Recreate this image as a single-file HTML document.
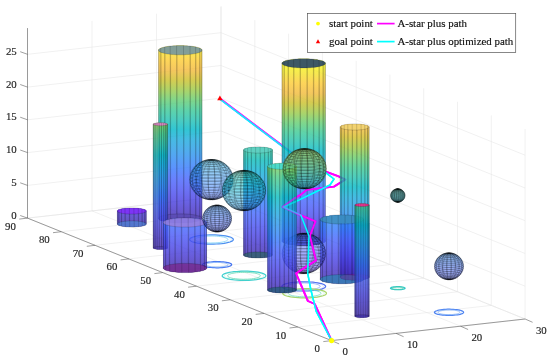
<!DOCTYPE html>
<html><head><meta charset="utf-8"><title>A-star plus path</title>
<style>html,body{margin:0;padding:0;background:#fff}svg{display:block}text{font-family:"Liberation Serif",serif}</style>
</head><body>
<svg width="550" height="361" viewBox="0 0 550 361">
<defs><linearGradient id="g1" gradientUnits="userSpaceOnUse" x1="0" y1="218.5" x2="0" y2="50.2"><stop offset="0%" stop-color="#3f29b0"/><stop offset="5.9%" stop-color="#4433cc"/><stop offset="11.8%" stop-color="#4741e5"/><stop offset="17.6%" stop-color="#4852f4"/><stop offset="23.5%" stop-color="#4563fd"/><stop offset="29.4%" stop-color="#3677fe"/><stop offset="35.3%" stop-color="#2d8af4"/><stop offset="41.2%" stop-color="#259ce7"/><stop offset="47.1%" stop-color="#1aabdd"/><stop offset="52.9%" stop-color="#01b8c9"/><stop offset="58.8%" stop-color="#21c1b1"/><stop offset="64.7%" stop-color="#3ac994"/><stop offset="70.6%" stop-color="#65cd6e"/><stop offset="76.5%" stop-color="#9bc944"/><stop offset="82.4%" stop-color="#cdc028"/><stop offset="88.2%" stop-color="#f4ba39"/><stop offset="94.1%" stop-color="#fdcc32"/><stop offset="100%" stop-color="#f5e526"/></linearGradient>
<linearGradient id="g2" gradientUnits="userSpaceOnUse" x1="0" y1="224" x2="0" y2="211"><stop offset="0%" stop-color="#3f29b0"/><stop offset="100%" stop-color="#4537d5"/></linearGradient>
<linearGradient id="g3" gradientUnits="userSpaceOnUse" x1="0" y1="199.8" x2="0" y2="159.4"><stop offset="0%" stop-color="#4465fd"/><stop offset="12.5%" stop-color="#3f6eff"/><stop offset="25%" stop-color="#3578fd"/><stop offset="37.5%" stop-color="#2f82f9"/><stop offset="50%" stop-color="#2d8bf4"/><stop offset="62.5%" stop-color="#2994ed"/><stop offset="75%" stop-color="#259ce7"/><stop offset="87.5%" stop-color="#20a4e3"/><stop offset="100%" stop-color="#1aacdd"/></linearGradient>
<linearGradient id="g4" gradientUnits="userSpaceOnUse" x1="0" y1="248" x2="0" y2="124.2"><stop offset="0%" stop-color="#3f29b0"/><stop offset="8.3%" stop-color="#4433cd"/><stop offset="16.7%" stop-color="#4742e6"/><stop offset="25%" stop-color="#4854f5"/><stop offset="33.3%" stop-color="#4367fd"/><stop offset="41.7%" stop-color="#327bfc"/><stop offset="50%" stop-color="#2c8ff1"/><stop offset="58.3%" stop-color="#23a0e5"/><stop offset="66.7%" stop-color="#13b0d7"/><stop offset="75%" stop-color="#06bcc0"/><stop offset="83.3%" stop-color="#2dc4a5"/><stop offset="91.7%" stop-color="#4bcb83"/><stop offset="100%" stop-color="#80cc59"/></linearGradient>
<linearGradient id="g5" gradientUnits="userSpaceOnUse" x1="0" y1="255" x2="0" y2="150"><stop offset="0%" stop-color="#3f29b0"/><stop offset="10%" stop-color="#4434ce"/><stop offset="20%" stop-color="#4743e7"/><stop offset="30%" stop-color="#4755f6"/><stop offset="40%" stop-color="#4368fe"/><stop offset="50%" stop-color="#317dfc"/><stop offset="60%" stop-color="#2b91ef"/><stop offset="70%" stop-color="#21a2e4"/><stop offset="80%" stop-color="#0fb2d5"/><stop offset="90%" stop-color="#0cbdbc"/><stop offset="100%" stop-color="#31c6a0"/></linearGradient>
<linearGradient id="g6" gradientUnits="userSpaceOnUse" x1="0" y1="241" x2="0" y2="63.3"><stop offset="0%" stop-color="#3f29b0"/><stop offset="5.6%" stop-color="#4433cc"/><stop offset="11.1%" stop-color="#4741e4"/><stop offset="16.7%" stop-color="#4852f4"/><stop offset="22.2%" stop-color="#4563fd"/><stop offset="27.8%" stop-color="#3777fe"/><stop offset="33.3%" stop-color="#2d8af5"/><stop offset="38.9%" stop-color="#259be8"/><stop offset="44.4%" stop-color="#1aabde"/><stop offset="50%" stop-color="#01b8ca"/><stop offset="55.6%" stop-color="#1fc1b1"/><stop offset="61.1%" stop-color="#39c995"/><stop offset="66.7%" stop-color="#63cd6f"/><stop offset="72.2%" stop-color="#99c946"/><stop offset="77.8%" stop-color="#cbc029"/><stop offset="83.3%" stop-color="#f2ba38"/><stop offset="88.9%" stop-color="#fdcb33"/><stop offset="94.4%" stop-color="#f5e327"/><stop offset="100%" stop-color="#f9fb15"/></linearGradient>
<linearGradient id="g7" gradientUnits="userSpaceOnUse" x1="0" y1="268" x2="0" y2="222.5"><stop offset="0%" stop-color="#3f29b0"/><stop offset="25%" stop-color="#4435d0"/><stop offset="50%" stop-color="#4746ea"/><stop offset="75%" stop-color="#475af9"/><stop offset="100%" stop-color="#3e6fff"/></linearGradient>
<linearGradient id="g8" gradientUnits="userSpaceOnUse" x1="0" y1="232" x2="0" y2="205"><stop offset="0%" stop-color="#4758f8"/><stop offset="12.5%" stop-color="#465efb"/><stop offset="25%" stop-color="#4564fd"/><stop offset="37.5%" stop-color="#426afe"/><stop offset="50%" stop-color="#3d70ff"/><stop offset="62.5%" stop-color="#3777fe"/><stop offset="75%" stop-color="#317efb"/><stop offset="87.5%" stop-color="#2e84f8"/><stop offset="100%" stop-color="#2d8af4"/></linearGradient>
<linearGradient id="g9" gradientUnits="userSpaceOnUse" x1="0" y1="210.7" x2="0" y2="170.3"><stop offset="0%" stop-color="#2895ec"/><stop offset="12.5%" stop-color="#249ee6"/><stop offset="25%" stop-color="#1fa6e2"/><stop offset="37.5%" stop-color="#18addb"/><stop offset="50%" stop-color="#0ab4d2"/><stop offset="62.5%" stop-color="#01b9c7"/><stop offset="75%" stop-color="#0fbebb"/><stop offset="87.5%" stop-color="#25c2ae"/><stop offset="100%" stop-color="#31c6a0"/></linearGradient>
<linearGradient id="g10" gradientUnits="userSpaceOnUse" x1="0" y1="277.2" x2="0" y2="127"><stop offset="0%" stop-color="#3f29b0"/><stop offset="6.7%" stop-color="#4433cc"/><stop offset="13.3%" stop-color="#4741e5"/><stop offset="20%" stop-color="#4852f4"/><stop offset="26.7%" stop-color="#4464fd"/><stop offset="33.3%" stop-color="#3578fd"/><stop offset="40%" stop-color="#2d8bf3"/><stop offset="46.7%" stop-color="#259de7"/><stop offset="53.3%" stop-color="#19addc"/><stop offset="60%" stop-color="#01b9c7"/><stop offset="66.7%" stop-color="#25c2ae"/><stop offset="73.3%" stop-color="#3eca8f"/><stop offset="80%" stop-color="#6ccd68"/><stop offset="86.7%" stop-color="#a3c83e"/><stop offset="93.3%" stop-color="#d4bf28"/><stop offset="100%" stop-color="#f9bb3d"/></linearGradient>
<linearGradient id="g11" gradientUnits="userSpaceOnUse" x1="0" y1="279.2" x2="0" y2="219.5"><stop offset="0%" stop-color="#3f29b0"/><stop offset="16.7%" stop-color="#4433cc"/><stop offset="33.3%" stop-color="#4741e5"/><stop offset="50%" stop-color="#4852f4"/><stop offset="66.7%" stop-color="#4564fd"/><stop offset="83.3%" stop-color="#3678fe"/><stop offset="100%" stop-color="#2d8bf4"/></linearGradient>
<clipPath id="cl8"><rect x="330" y="223" width="50" height="70"/></clipPath>
<linearGradient id="g12" gradientUnits="userSpaceOnUse" x1="0" y1="277.2" x2="0" y2="127"><stop offset="0%" stop-color="#3f29b0"/><stop offset="6.7%" stop-color="#4433cc"/><stop offset="13.3%" stop-color="#4741e5"/><stop offset="20%" stop-color="#4852f4"/><stop offset="26.7%" stop-color="#4464fd"/><stop offset="33.3%" stop-color="#3578fd"/><stop offset="40%" stop-color="#2d8bf3"/><stop offset="46.7%" stop-color="#259de7"/><stop offset="53.3%" stop-color="#19addc"/><stop offset="60%" stop-color="#01b9c7"/><stop offset="66.7%" stop-color="#25c2ae"/><stop offset="73.3%" stop-color="#3eca8f"/><stop offset="80%" stop-color="#6ccd68"/><stop offset="86.7%" stop-color="#a3c83e"/><stop offset="93.3%" stop-color="#d4bf28"/><stop offset="100%" stop-color="#f9bb3d"/></linearGradient>
<linearGradient id="g13" gradientUnits="userSpaceOnUse" x1="0" y1="273.6" x2="0" y2="233.2"><stop offset="0%" stop-color="#4537d6"/><stop offset="12.5%" stop-color="#473ee1"/><stop offset="25%" stop-color="#4746eb"/><stop offset="37.5%" stop-color="#484ff2"/><stop offset="50%" stop-color="#4758f8"/><stop offset="62.5%" stop-color="#4660fc"/><stop offset="75%" stop-color="#426afe"/><stop offset="87.5%" stop-color="#3a74fe"/><stop offset="100%" stop-color="#317efb"/></linearGradient>
<linearGradient id="g14" gradientUnits="userSpaceOnUse" x1="0" y1="290" x2="0" y2="166.3"><stop offset="0%" stop-color="#3f29b0"/><stop offset="8.3%" stop-color="#4433cd"/><stop offset="16.7%" stop-color="#4742e6"/><stop offset="25%" stop-color="#4854f5"/><stop offset="33.3%" stop-color="#4367fd"/><stop offset="41.7%" stop-color="#327bfc"/><stop offset="50%" stop-color="#2c8ff1"/><stop offset="58.3%" stop-color="#23a0e5"/><stop offset="66.7%" stop-color="#14b0d8"/><stop offset="75%" stop-color="#06bcc0"/><stop offset="83.3%" stop-color="#2dc4a5"/><stop offset="91.7%" stop-color="#4bcb84"/><stop offset="100%" stop-color="#80cc59"/></linearGradient>
<linearGradient id="g15" gradientUnits="userSpaceOnUse" x1="0" y1="188.9" x2="0" y2="148.5"><stop offset="0%" stop-color="#31c6a0"/><stop offset="12.5%" stop-color="#3dc990"/><stop offset="25%" stop-color="#51cc7e"/><stop offset="37.5%" stop-color="#6acd6a"/><stop offset="50%" stop-color="#85cb55"/><stop offset="62.5%" stop-color="#a0c841"/><stop offset="75%" stop-color="#b9c430"/><stop offset="87.5%" stop-color="#d1bf27"/><stop offset="100%" stop-color="#e5bb2d"/></linearGradient>
<linearGradient id="g16" gradientUnits="userSpaceOnUse" x1="0" y1="202.2" x2="0" y2="188.8"><stop offset="0%" stop-color="#07b5d0"/><stop offset="12.5%" stop-color="#03b7cc"/><stop offset="25%" stop-color="#01b8c8"/><stop offset="37.5%" stop-color="#02bac5"/><stop offset="50%" stop-color="#05bbc1"/><stop offset="62.5%" stop-color="#0bbdbd"/><stop offset="75%" stop-color="#13beb8"/><stop offset="87.5%" stop-color="#1bc0b4"/><stop offset="100%" stop-color="#22c1b0"/></linearGradient>
<linearGradient id="g17" gradientUnits="userSpaceOnUse" x1="0" y1="316.2" x2="0" y2="205"><stop offset="0%" stop-color="#3f29b0"/><stop offset="9.1%" stop-color="#4433cc"/><stop offset="18.2%" stop-color="#4741e5"/><stop offset="27.3%" stop-color="#4853f5"/><stop offset="36.4%" stop-color="#4465fd"/><stop offset="45.5%" stop-color="#3479fd"/><stop offset="54.5%" stop-color="#2d8df3"/><stop offset="63.6%" stop-color="#249ee6"/><stop offset="72.7%" stop-color="#17aedb"/><stop offset="81.8%" stop-color="#02bac5"/><stop offset="90.9%" stop-color="#28c2ab"/><stop offset="100%" stop-color="#42ca8c"/></linearGradient>
<linearGradient id="g18" gradientUnits="userSpaceOnUse" x1="0" y1="279.8" x2="0" y2="252.8"><stop offset="0%" stop-color="#4757f7"/><stop offset="12.5%" stop-color="#465dfa"/><stop offset="25%" stop-color="#4563fd"/><stop offset="37.5%" stop-color="#4269fe"/><stop offset="50%" stop-color="#3d70ff"/><stop offset="62.5%" stop-color="#3777fe"/><stop offset="75%" stop-color="#317dfc"/><stop offset="87.5%" stop-color="#2e84f9"/><stop offset="100%" stop-color="#2d8af5"/></linearGradient></defs>
<rect width="550" height="361" fill="#fff"/>
<path d="M331.6 340.6L27.5 218.1M27.5 218.1L27.5 28.1M396.1 333.4L92 210.9M92 210.9L92 20.9M460.6 326.2L156.5 203.7M156.5 203.7L156.5 13.7M525.1 319L221 196.5M221 196.5L221 6.5M331.6 340.6L525.1 319M525.1 319L525.1 129M297.8 327L491.3 305.4M491.3 305.4L491.3 115.4M264 313.4L457.5 291.8M457.5 291.8L457.5 101.8M230.2 299.8L423.7 278.2M423.7 278.2L423.7 88.2M196.4 286.2L389.9 264.6M389.9 264.6L389.9 74.6M162.7 272.6L356.2 250.9M356.2 250.9L356.2 60.9M128.9 258.9L322.4 237.3M322.4 237.3L322.4 47.3M95.1 245.3L288.6 223.7M288.6 223.7L288.6 33.7M61.3 231.7L254.8 210.1M254.8 210.1L254.8 20.1M27.5 218.1L221 196.5M221 196.5L221 6.5M27.5 218.1L221 196.5M221 196.5L525.1 319M27.5 185.4L221 163.8M221 163.8L525.1 286.2M27.5 152.6L221 131M221 131L525.1 253.5M27.5 119.8L221 98.2M221 98.2L525.1 220.7M27.5 87.1L221 65.5M221 65.5L525.1 188M27.5 54.3L221 32.7M221 32.7L525.1 155.2" stroke="#e2e2e2" stroke-width="0.5" fill="none"/>
<path d="M27.5 218.1L27.5 28.1M27.5 218.1L331.6 340.6M331.6 340.6L525.1 319M331.6 340.6L339.1 343.9M396.1 333.4L403.6 336.7M460.6 326.2L468.1 329.5M525.1 319L532.6 322.3M331.6 340.6L323.3 341.6M297.8 327L289.5 328M264 313.4L255.7 314.4M230.2 299.8L221.9 300.8M196.4 286.2L188.1 287.2M162.7 272.6L154.4 273.6M128.9 258.9L120.6 259.9M95.1 245.3L86.8 246.3M61.3 231.7L53 232.7M27.5 218.1L19.2 219.1M27.5 218.1L20.2 215.5M27.5 185.4L20.2 182.8M27.5 152.6L20.2 150M27.5 119.8L20.2 117.2M27.5 87.1L20.2 84.5M27.5 54.3L20.2 51.7" stroke="#505050" stroke-width="0.55" fill="none"/>
<g font-size="11.4" fill="#262626" stroke="#262626" stroke-width="0.18"><text transform="translate(342.4 355.1) scale(0.95 1)" text-anchor="start">0</text><text transform="translate(406.9 347.9) scale(0.95 1)" text-anchor="start">10</text><text transform="translate(471.4 340.7) scale(0.95 1)" text-anchor="start">20</text><text transform="translate(535.9 333.5) scale(0.95 1)" text-anchor="start">30</text><text transform="translate(320 352.1) scale(0.95 1)" text-anchor="end">0</text><text transform="translate(286.2 338.5) scale(0.95 1)" text-anchor="end">10</text><text transform="translate(252.4 324.9) scale(0.95 1)" text-anchor="end">20</text><text transform="translate(218.6 311.3) scale(0.95 1)" text-anchor="end">30</text><text transform="translate(184.8 297.7) scale(0.95 1)" text-anchor="end">40</text><text transform="translate(151.1 284.1) scale(0.95 1)" text-anchor="end">50</text><text transform="translate(117.3 270.4) scale(0.95 1)" text-anchor="end">60</text><text transform="translate(83.5 256.8) scale(0.95 1)" text-anchor="end">70</text><text transform="translate(49.7 243.2) scale(0.95 1)" text-anchor="end">80</text><text transform="translate(15.9 229.6) scale(0.95 1)" text-anchor="end">90</text><text transform="translate(16.7 218.5) scale(0.95 1)" text-anchor="end">0</text><text transform="translate(16.7 185.8) scale(0.95 1)" text-anchor="end">5</text><text transform="translate(16.7 153) scale(0.95 1)" text-anchor="end">10</text><text transform="translate(16.7 120.2) scale(0.95 1)" text-anchor="end">15</text><text transform="translate(16.7 87.5) scale(0.95 1)" text-anchor="end">20</text><text transform="translate(16.7 54.7) scale(0.95 1)" text-anchor="end">25</text></g>
<g><polygon points="158.5,218.3 158.5,218.7 158.6,219.1 159,219.5 159.5,219.9 160.1,220.3 161,220.7 161.9,221 163,221.3 164.2,221.6 165.6,221.9 167,222.2 168.6,222.4 170.3,222.6 172,222.8 173.8,222.9 175.6,223 177.5,223.1 179.4,223.1 181.3,223.1 183.2,223.1 185.1,223 186.9,222.9 188.7,222.8 190.4,222.6 192.1,222.4 193.6,222.1 195.1,221.9 196.4,221.6 197.7,221.3 198.8,221 199.7,220.6 200.5,220.2 201.2,219.9 201.6,219.5 202,219.1 202.1,218.7 202.1,50.4 202.1,50 202,49.6 201.6,49.2 201.1,48.8 200.5,48.4 199.7,48 198.7,47.7 197.6,47.4 196.4,47.1 195,46.8 193.6,46.5 192,46.3 190.3,46.1 188.6,45.9 186.8,45.8 185,45.7 183.1,45.6 181.2,45.6 179.3,45.6 177.4,45.6 175.5,45.7 173.7,45.8 171.9,45.9 170.2,46.1 168.5,46.3 167,46.6 165.5,46.8 164.2,47.1 162.9,47.4 161.8,47.7 160.9,48.1 160.1,48.5 159.4,48.8 159,49.2 158.6,49.6 158.5,50" fill="url(#g1)" fill-opacity="0.56"/><polygon points="158.5,218.3 158.5,218.7 158.6,219.1 159,219.5 159.5,219.9 160.1,220.3 161,220.7 161.9,221 163,221.3 164.2,221.6 165.6,221.9 167,222.2 168.6,222.4 170.3,222.6 172,222.8 173.8,222.9 175.6,223 177.5,223.1 179.4,223.1 181.3,223.1 183.2,223.1 185.1,223 186.9,222.9 188.7,222.8 190.4,222.6 192.1,222.4 193.6,222.1 195.1,221.9 196.4,221.6 197.7,221.3 198.8,221 199.7,220.6 200.5,220.2 201.2,219.9 201.6,219.5 202,219.1 202.1,218.7 202.1,50.4 202.1,50 202,49.6 201.6,49.2 201.1,48.8 200.5,48.4 199.7,48 198.7,47.7 197.6,47.4 196.4,47.1 195,46.8 193.6,46.5 192,46.3 190.3,46.1 188.6,45.9 186.8,45.8 185,45.7 183.1,45.6 181.2,45.6 179.3,45.6 177.4,45.6 175.5,45.7 173.7,45.8 171.9,45.9 170.2,46.1 168.5,46.3 167,46.6 165.5,46.8 164.2,47.1 162.9,47.4 161.8,47.7 160.9,48.1 160.1,48.5 159.4,48.8 159,49.2 158.6,49.6 158.5,50" fill="url(#g1)" fill-opacity="0.56"/><polygon points="199.7,216.3 198.7,216 197.6,215.7 196.4,215.4 195,215.1 193.6,214.8 192,214.6 190.3,214.4 188.6,214.2 186.8,214.1 185,214 183.1,213.9 181.2,213.9 179.3,213.9 177.4,213.9 175.5,214 173.7,214.1 171.9,214.2 170.2,214.4 168.5,214.6 167,214.9 165.5,215.1 164.2,215.4 162.9,215.7 161.8,216 160.9,216.4 160.1,216.8 159.4,217.1 159,217.5 158.6,217.9 158.5,218.3 158.5,218.7 158.6,219.1 159,219.5 159.5,219.9 160.1,220.3 161,220.7 161.9,221 163,221.3 164.2,221.6 165.6,221.9 167,222.2 168.6,222.4 170.3,222.6 172,222.8 173.8,222.9 175.6,223 177.5,223.1 179.4,223.1 181.3,223.1 183.2,223.1 185.1,223 186.9,222.9 188.7,222.8 190.4,222.6 192.1,222.4 193.6,222.1 195.1,221.9 196.4,221.6 197.7,221.3 198.8,221 199.7,220.6 200.5,220.2 201.2,219.9 201.6,219.5 202,219.1 202.1,218.7 202.1,218.3 202,217.9 201.6,217.5 201.1,217.1 200.5,216.7" fill="#5040a0" fill-opacity="0.4"/><polygon points="199.7,48 198.7,47.7 197.6,47.4 196.4,47.1 195,46.8 193.6,46.5 192,46.3 190.3,46.1 188.6,45.9 186.8,45.8 185,45.7 183.1,45.6 181.2,45.6 179.3,45.6 177.4,45.6 175.5,45.7 173.7,45.8 171.9,45.9 170.2,46.1 168.5,46.3 167,46.6 165.5,46.8 164.2,47.1 162.9,47.4 161.8,47.7 160.9,48.1 160.1,48.5 159.4,48.8 159,49.2 158.6,49.6 158.5,50 158.5,50.4 158.6,50.8 159,51.2 159.5,51.6 160.1,52 161,52.4 161.9,52.7 163,53 164.2,53.3 165.6,53.6 167,53.9 168.6,54.1 170.3,54.3 172,54.5 173.8,54.6 175.6,54.7 177.5,54.8 179.4,54.8 181.3,54.8 183.2,54.8 185.1,54.7 186.9,54.6 188.7,54.5 190.4,54.3 192.1,54.1 193.6,53.8 195.1,53.6 196.4,53.3 197.7,53 198.8,52.7 199.7,52.3 200.5,51.9 201.2,51.6 201.6,51.2 202,50.8 202.1,50.4 202.1,50 202,49.6 201.6,49.2 201.1,48.8 200.5,48.4" fill="#7496a0" fill-opacity="0.9"/><path d="M199.7 216.3V48M195.6 215.2V46.9M190 214.4V46.1M183.5 213.9V45.6M176.6 213.9V45.6M170.2 214.4V46.1M164.7 215.3V47M160.7 216.5V48.2M158.7 217.8V49.5M158.8 219.3V51M161 220.7V52.4M165 221.8V53.5M170.6 222.6V54.3M177.1 223.1V54.8M184 223.1V54.8M190.4 222.6V54.3M195.9 221.7V53.4M199.9 220.5V52.2M201.9 219.2V50.9M201.8 217.7V49.4M199.7 216.3 198.7 216 197.6 215.7 196.4 215.4 195 215.1 193.6 214.8 192 214.6 190.3 214.4 188.6 214.2 186.8 214.1 185 214 183.1 213.9 181.2 213.9 179.3 213.9 177.4 213.9 175.5 214 173.7 214.1 171.9 214.2 170.2 214.4 168.5 214.6 167 214.9 165.5 215.1 164.2 215.4 162.9 215.7 161.8 216 160.9 216.4 160.1 216.8 159.4 217.1 159 217.5 158.6 217.9 158.5 218.3 158.5 218.7 158.6 219.1 159 219.5 159.5 219.9 160.1 220.3 161 220.7 161.9 221 163 221.3 164.2 221.6 165.6 221.9 167 222.2 168.6 222.4 170.3 222.6 172 222.8 173.8 222.9 175.6 223 177.5 223.1 179.4 223.1 181.3 223.1 183.2 223.1 185.1 223 186.9 222.9 188.7 222.8 190.4 222.6 192.1 222.4 193.6 222.1 195.1 221.9 196.4 221.6 197.7 221.3 198.8 221 199.7 220.6 200.5 220.2 201.2 219.9 201.6 219.5 202 219.1 202.1 218.7 202.1 218.3 202 217.9 201.6 217.5 201.1 217.1 200.5 216.7 199.7 216.3ZM199.7 48 198.7 47.7 197.6 47.4 196.4 47.1 195 46.8 193.6 46.5 192 46.3 190.3 46.1 188.6 45.9 186.8 45.8 185 45.7 183.1 45.6 181.2 45.6 179.3 45.6 177.4 45.6 175.5 45.7 173.7 45.8 171.9 45.9 170.2 46.1 168.5 46.3 167 46.6 165.5 46.8 164.2 47.1 162.9 47.4 161.8 47.7 160.9 48.1 160.1 48.5 159.4 48.8 159 49.2 158.6 49.6 158.5 50 158.5 50.4 158.6 50.8 159 51.2 159.5 51.6 160.1 52 161 52.4 161.9 52.7 163 53 164.2 53.3 165.6 53.6 167 53.9 168.6 54.1 170.3 54.3 172 54.5 173.8 54.6 175.6 54.7 177.5 54.8 179.4 54.8 181.3 54.8 183.2 54.8 185.1 54.7 186.9 54.6 188.7 54.5 190.4 54.3 192.1 54.1 193.6 53.8 195.1 53.6 196.4 53.3 197.7 53 198.8 52.7 199.7 52.3 200.5 51.9 201.2 51.6 201.6 51.2 202 50.8 202.1 50.4 202.1 50 202 49.6 201.6 49.2 201.1 48.8 200.5 48.4 199.7 48Z" fill="none" stroke="#000" stroke-width="0.38" stroke-opacity="0.42"/></g>
<g><polygon points="117.2,223.9 117.3,224.2 117.4,224.4 117.6,224.7 117.9,224.9 118.4,225.2 118.9,225.4 119.5,225.7 120.3,225.9 121.1,226.1 122,226.3 123,226.5 124,226.6 125.1,226.7 126.3,226.9 127.5,226.9 128.7,227 129.9,227.1 131.2,227.1 132.5,227.1 133.7,227.1 135,227 136.2,226.9 137.4,226.8 138.6,226.7 139.7,226.6 140.7,226.4 141.7,226.3 142.6,226.1 143.4,225.9 144.1,225.6 144.7,225.4 145.3,225.2 145.7,224.9 146,224.6 146.2,224.4 146.4,224.1 146.4,211.1 146.3,210.8 146.2,210.6 146,210.3 145.7,210.1 145.2,209.8 144.7,209.6 144.1,209.3 143.3,209.1 142.5,208.9 141.6,208.7 140.6,208.5 139.6,208.4 138.5,208.3 137.3,208.1 136.1,208.1 134.9,208 133.7,207.9 132.4,207.9 131.1,207.9 129.9,207.9 128.6,208 127.4,208.1 126.2,208.2 125,208.3 123.9,208.4 122.9,208.6 121.9,208.7 121,208.9 120.2,209.1 119.5,209.4 118.9,209.6 118.3,209.8 117.9,210.1 117.6,210.4 117.4,210.6 117.2,210.9" fill="url(#g2)" fill-opacity="0.56"/><polygon points="117.2,223.9 117.3,224.2 117.4,224.4 117.6,224.7 117.9,224.9 118.4,225.2 118.9,225.4 119.5,225.7 120.3,225.9 121.1,226.1 122,226.3 123,226.5 124,226.6 125.1,226.7 126.3,226.9 127.5,226.9 128.7,227 129.9,227.1 131.2,227.1 132.5,227.1 133.7,227.1 135,227 136.2,226.9 137.4,226.8 138.6,226.7 139.7,226.6 140.7,226.4 141.7,226.3 142.6,226.1 143.4,225.9 144.1,225.6 144.7,225.4 145.3,225.2 145.7,224.9 146,224.6 146.2,224.4 146.4,224.1 146.4,211.1 146.3,210.8 146.2,210.6 146,210.3 145.7,210.1 145.2,209.8 144.7,209.6 144.1,209.3 143.3,209.1 142.5,208.9 141.6,208.7 140.6,208.5 139.6,208.4 138.5,208.3 137.3,208.1 136.1,208.1 134.9,208 133.7,207.9 132.4,207.9 131.1,207.9 129.9,207.9 128.6,208 127.4,208.1 126.2,208.2 125,208.3 123.9,208.4 122.9,208.6 121.9,208.7 121,208.9 120.2,209.1 119.5,209.4 118.9,209.6 118.3,209.8 117.9,210.1 117.6,210.4 117.4,210.6 117.2,210.9" fill="url(#g2)" fill-opacity="0.56"/><polygon points="144.7,222.6 144.1,222.3 143.3,222.1 142.5,221.9 141.6,221.7 140.6,221.5 139.6,221.4 138.5,221.3 137.3,221.1 136.1,221.1 134.9,221 133.7,220.9 132.4,220.9 131.1,220.9 129.9,220.9 128.6,221 127.4,221.1 126.2,221.2 125,221.3 123.9,221.4 122.9,221.6 121.9,221.7 121,221.9 120.2,222.1 119.5,222.4 118.9,222.6 118.3,222.8 117.9,223.1 117.6,223.4 117.4,223.6 117.2,223.9 117.3,224.2 117.4,224.4 117.6,224.7 117.9,224.9 118.4,225.2 118.9,225.4 119.5,225.7 120.3,225.9 121.1,226.1 122,226.3 123,226.5 124,226.6 125.1,226.7 126.3,226.9 127.5,226.9 128.7,227 129.9,227.1 131.2,227.1 132.5,227.1 133.7,227.1 135,227 136.2,226.9 137.4,226.8 138.6,226.7 139.7,226.6 140.7,226.4 141.7,226.3 142.6,226.1 143.4,225.9 144.1,225.6 144.7,225.4 145.3,225.2 145.7,224.9 146,224.6 146.2,224.4 146.4,224.1 146.3,223.8 146.2,223.6 146,223.3 145.7,223.1 145.2,222.8" fill="#4890d8" fill-opacity="0.6"/><polygon points="144.7,209.6 144.1,209.3 143.3,209.1 142.5,208.9 141.6,208.7 140.6,208.5 139.6,208.4 138.5,208.3 137.3,208.1 136.1,208.1 134.9,208 133.7,207.9 132.4,207.9 131.1,207.9 129.9,207.9 128.6,208 127.4,208.1 126.2,208.2 125,208.3 123.9,208.4 122.9,208.6 121.9,208.7 121,208.9 120.2,209.1 119.5,209.4 118.9,209.6 118.3,209.8 117.9,210.1 117.6,210.4 117.4,210.6 117.2,210.9 117.3,211.2 117.4,211.4 117.6,211.7 117.9,211.9 118.4,212.2 118.9,212.4 119.5,212.7 120.3,212.9 121.1,213.1 122,213.3 123,213.5 124,213.6 125.1,213.7 126.3,213.9 127.5,213.9 128.7,214 129.9,214.1 131.2,214.1 132.5,214.1 133.7,214.1 135,214 136.2,213.9 137.4,213.8 138.6,213.7 139.7,213.6 140.7,213.4 141.7,213.3 142.6,213.1 143.4,212.9 144.1,212.6 144.7,212.4 145.3,212.2 145.7,211.9 146,211.6 146.2,211.4 146.4,211.1 146.3,210.8 146.2,210.6 146,210.3 145.7,210.1 145.2,209.8" fill="#8030f8" fill-opacity="0.9"/><path d="M144.7 222.6V209.6M142 221.8V208.8M138.3 221.2V208.2M133.9 221V208M129.4 221V208M125 221.3V208.3M121.4 221.9V208.9M118.8 222.6V209.6M117.4 223.6V210.6M117.4 224.5V211.5M118.9 225.4V212.4M121.6 226.2V213.2M125.3 226.8V213.8M129.7 227V214M134.2 227V214M138.6 226.7V213.7M142.2 226.1V213.1M144.8 225.4V212.4M146.2 224.4V211.4M146.2 223.5V210.5M144.7 222.6 144.1 222.3 143.3 222.1 142.5 221.9 141.6 221.7 140.6 221.5 139.6 221.4 138.5 221.3 137.3 221.1 136.1 221.1 134.9 221 133.7 220.9 132.4 220.9 131.1 220.9 129.9 220.9 128.6 221 127.4 221.1 126.2 221.2 125 221.3 123.9 221.4 122.9 221.6 121.9 221.7 121 221.9 120.2 222.1 119.5 222.4 118.9 222.6 118.3 222.8 117.9 223.1 117.6 223.4 117.4 223.6 117.2 223.9 117.3 224.2 117.4 224.4 117.6 224.7 117.9 224.9 118.4 225.2 118.9 225.4 119.5 225.7 120.3 225.9 121.1 226.1 122 226.3 123 226.5 124 226.6 125.1 226.7 126.3 226.9 127.5 226.9 128.7 227 129.9 227.1 131.2 227.1 132.5 227.1 133.7 227.1 135 227 136.2 226.9 137.4 226.8 138.6 226.7 139.7 226.6 140.7 226.4 141.7 226.3 142.6 226.1 143.4 225.9 144.1 225.6 144.7 225.4 145.3 225.2 145.7 224.9 146 224.6 146.2 224.4 146.4 224.1 146.3 223.8 146.2 223.6 146 223.3 145.7 223.1 145.2 222.8 144.7 222.6ZM144.7 209.6 144.1 209.3 143.3 209.1 142.5 208.9 141.6 208.7 140.6 208.5 139.6 208.4 138.5 208.3 137.3 208.1 136.1 208.1 134.9 208 133.7 207.9 132.4 207.9 131.1 207.9 129.9 207.9 128.6 208 127.4 208.1 126.2 208.2 125 208.3 123.9 208.4 122.9 208.6 121.9 208.7 121 208.9 120.2 209.1 119.5 209.4 118.9 209.6 118.3 209.8 117.9 210.1 117.6 210.4 117.4 210.6 117.2 210.9 117.3 211.2 117.4 211.4 117.6 211.7 117.9 211.9 118.4 212.2 118.9 212.4 119.5 212.7 120.3 212.9 121.1 213.1 122 213.3 123 213.5 124 213.6 125.1 213.7 126.3 213.9 127.5 213.9 128.7 214 129.9 214.1 131.2 214.1 132.5 214.1 133.7 214.1 135 214 136.2 213.9 137.4 213.8 138.6 213.7 139.7 213.6 140.7 213.4 141.7 213.3 142.6 213.1 143.4 212.9 144.1 212.6 144.7 212.4 145.3 212.2 145.7 211.9 146 211.6 146.2 211.4 146.4 211.1 146.3 210.8 146.2 210.6 146 210.3 145.7 210.1 145.2 209.8 144.7 209.6Z" fill="none" stroke="#000" stroke-width="0.38" stroke-opacity="0.42"/></g>
<polygon points="230.9,237.3 229.4,236.8 227.6,236.4 225.5,235.9 223.2,235.6 220.7,235.3 218,235.1 215.2,234.9 212.4,234.9 209.5,234.9 206.7,235 204,235.2 201.4,235.4 198.9,235.7 196.7,236.1 194.7,236.6 193,237 191.7,237.6 190.6,238.1 190,238.7 189.7,239.3 189.7,239.9 190.2,240.5 191,241.1 192.1,241.7 193.6,242.2 195.4,242.6 197.5,243.1 199.8,243.4 202.3,243.7 205,243.9 207.8,244.1 210.6,244.1 213.5,244.1 216.3,244 219,243.8 221.6,243.6 224.1,243.3 226.3,242.9 228.3,242.4 230,242 231.3,241.4 232.4,240.9 233,240.3 233.3,239.7 233.3,239.1 232.8,238.5 232,237.9" fill="none" stroke="#4a8cf0" stroke-width="1.2" stroke-opacity="1"/><polygon points="228.9,237.6 227.6,237.1 226,236.7 224.1,236.3 222,236 219.8,235.7 217.4,235.5 214.9,235.4 212.3,235.3 209.7,235.4 207.2,235.4 204.7,235.6 202.4,235.8 200.2,236.1 198.2,236.5 196.4,236.8 194.9,237.3 193.7,237.8 192.7,238.3 192.1,238.8 191.9,239.3 191.9,239.9 192.3,240.4 193,240.9 194.1,241.4 195.4,241.9 197,242.3 198.9,242.7 201,243 203.2,243.3 205.6,243.5 208.1,243.6 210.7,243.7 213.3,243.6 215.8,243.6 218.3,243.4 220.6,243.2 222.8,242.9 224.8,242.5 226.6,242.2 228.1,241.7 229.3,241.2 230.3,240.7 230.9,240.2 231.1,239.7 231.1,239.1 230.7,238.6 230,238.1" fill="none" stroke="#7cd0f4" stroke-width="0.5" stroke-opacity="0.45"/><polygon points="226,237.9 224.9,237.5 223.6,237.1 222,236.8 220.3,236.6 218.4,236.4 216.4,236.2 214.3,236.1 212.2,236 210,236.1 207.9,236.1 205.9,236.3 203.9,236.4 202.1,236.7 200.4,237 198.9,237.3 197.7,237.7 196.6,238.1 195.9,238.5 195.4,238.9 195.1,239.4 195.2,239.8 195.5,240.3 196.1,240.7 197,241.1 198.1,241.5 199.4,241.9 201,242.2 202.7,242.4 204.6,242.6 206.6,242.8 208.7,242.9 210.8,243 213,242.9 215.1,242.9 217.1,242.7 219.1,242.6 220.9,242.3 222.6,242 224.1,241.7 225.3,241.3 226.4,240.9 227.1,240.5 227.6,240.1 227.9,239.6 227.8,239.2 227.5,238.7 226.9,238.3" fill="none" stroke="#7cd0f4" stroke-width="0.85" stroke-opacity="0.9"/>
<g><polygon points="211.4,159.4 209.1,159.5 206.8,159.9 204.6,160.4 202.5,161.2 200.5,162.2 198.6,163.3 196.8,164.7 195.2,166.2 193.8,167.8 192.5,169.6 191.5,171.5 190.7,173.5 190.1,175.5 189.8,177.6 189.7,179.7 189.8,181.8 190.2,183.9 190.8,186 191.6,187.9 192.6,189.8 193.9,191.6 195.3,193.2 197,194.7 198.8,196 200.7,197.1 202.7,198.1 204.9,198.8 207.1,199.4 209.3,199.7 211.6,199.8 213.9,199.7 216.2,199.3 218.4,198.8 220.5,198 222.5,197 224.4,195.9 226.2,194.5 227.8,193 229.2,191.4 230.5,189.6 231.5,187.7 232.3,185.7 232.9,183.7 233.2,181.6 233.3,179.5 233.2,177.4 232.8,175.3 232.2,173.2 231.4,171.3 230.4,169.4 229.1,167.6 227.7,166 226,164.5 224.2,163.2 222.3,162.1 220.3,161.1 218.1,160.4 215.9,159.8 213.7,159.5" fill="url(#g3)" fill-opacity="0.5"/><path d="M214.5 198.7 213.9 198.5 213 198.4 212 198.3 210.9 198.3 209.9 198.4 209.1 198.5 208.4 198.7 208.1 198.9 208.1 199.1 208.5 199.4 209.1 199.5 210 199.7 211 199.7 212.1 199.7 213.1 199.7 213.9 199.5 214.6 199.3 214.9 199.1 214.9 198.9ZM217.5 197.6 216.2 197.3 214.5 197 212.5 196.9 210.4 196.9 208.4 197 206.7 197.3 205.5 197.7 204.8 198.1 204.8 198.5 205.5 199 206.8 199.3 208.5 199.6 210.5 199.7 212.6 199.7 214.6 199.6 216.3 199.3 217.5 198.9 218.2 198.5 218.2 198ZM220.3 196.1 218.4 195.6 215.9 195.2 212.9 195 209.8 195 206.9 195.3 204.4 195.7 202.6 196.2 201.7 196.8 201.7 197.5 202.7 198.1 204.6 198.6 207.1 199 210.1 199.2 213.2 199.2 216.1 199 218.6 198.6 220.4 198 221.3 197.4 221.3 196.8ZM222.9 194.2 220.5 193.6 217.2 193.1 213.4 192.8 209.3 192.8 205.5 193.1 202.3 193.6 200 194.3 198.8 195.1 198.8 196 200.1 196.8 202.5 197.5 205.8 197.9 209.6 198.2 213.7 198.2 217.5 197.9 220.7 197.4 223 196.7 224.2 195.9 224.2 195ZM225.2 192 222.3 191.2 218.4 190.6 213.7 190.3 208.9 190.3 204.3 190.6 200.5 191.2 197.7 192.1 196.2 193 196.3 194.1 197.8 195 200.7 195.8 204.6 196.4 209.3 196.7 214.1 196.7 218.7 196.4 222.5 195.8 225.3 194.9 226.8 194 226.7 192.9ZM227.2 189.4 223.9 188.5 219.3 187.8 214.1 187.5 208.5 187.5 203.3 187.9 198.9 188.6 195.7 189.5 194 190.6 194.1 191.8 195.8 192.9 199.1 193.8 203.7 194.5 208.9 194.9 214.5 194.8 219.7 194.5 224.1 193.8 227.3 192.8 229 191.7 228.9 190.5ZM228.7 186.6 225.1 185.6 220.1 184.8 214.3 184.4 208.2 184.5 202.5 184.9 197.6 185.7 194.1 186.7 192.2 187.9 192.3 189.2 194.3 190.4 197.9 191.5 202.9 192.2 208.7 192.6 214.8 192.6 220.5 192.2 225.4 191.4 228.9 190.3 230.8 189.1 230.7 187.8ZM229.9 183.6 226 182.5 220.7 181.7 214.5 181.3 208 181.3 201.9 181.8 196.6 182.6 192.9 183.7 190.9 185.1 191 186.4 193.1 187.7 197 188.8 202.3 189.6 208.5 190 215 190 221.1 189.6 226.4 188.7 230.1 187.6 232.1 186.3 232 184.9ZM230.6 180.5 226.6 179.4 221.1 178.6 214.6 178.2 207.9 178.2 201.5 178.6 196.1 179.5 192.2 180.7 190.2 182 190.2 183.5 192.4 184.8 196.4 186 201.9 186.8 208.4 187.2 215.1 187.2 221.5 186.7 226.9 185.9 230.8 184.7 232.8 183.3 232.8 181.9ZM230.9 177.4 226.8 176.3 221.2 175.5 214.7 175 207.8 175 201.4 175.5 195.9 176.4 191.9 177.6 189.9 178.9 190 180.4 192.1 181.8 196.2 182.9 201.8 183.7 208.3 184.2 215.2 184.2 221.6 183.7 227.1 182.8 231.1 181.6 233.1 180.3 233 178.8ZM230.6 174.4 226.6 173.2 221.1 172.4 214.6 172 207.9 172 201.5 172.5 196.1 173.3 192.2 174.5 190.2 175.9 190.2 177.3 192.4 178.7 196.4 179.8 201.9 180.6 208.4 181 215.1 181 221.5 180.6 226.9 179.7 230.8 178.5 232.8 177.2 232.8 175.7ZM229.9 171.5 226 170.4 220.7 169.6 214.5 169.2 208 169.2 201.9 169.6 196.6 170.5 192.9 171.6 190.9 172.9 191 174.3 193.1 175.6 197 176.7 202.3 177.5 208.5 177.9 215 177.9 221.1 177.4 226.4 176.6 230.1 175.5 232.1 174.1 232 172.8ZM228.7 168.8 225.1 167.7 220.1 167 214.3 166.6 208.2 166.6 202.5 167 197.6 167.8 194.1 168.9 192.2 170.1 192.3 171.4 194.3 172.6 197.9 173.6 202.9 174.4 208.7 174.8 214.8 174.7 220.5 174.3 225.4 173.5 228.9 172.5 230.8 171.3 230.7 170ZM227.2 166.3 223.9 165.4 219.3 164.7 214.1 164.3 208.5 164.4 203.3 164.7 198.9 165.4 195.7 166.4 194 167.5 194.1 168.7 195.8 169.8 199.1 170.7 203.7 171.4 208.9 171.7 214.5 171.7 219.7 171.3 224.1 170.6 227.3 169.7 229 168.6 228.9 167.4ZM225.2 164.2 222.3 163.4 218.4 162.8 213.7 162.5 208.9 162.5 204.3 162.8 200.5 163.4 197.7 164.3 196.2 165.2 196.3 166.3 197.8 167.2 200.7 168 204.6 168.6 209.3 168.9 214.1 168.9 218.7 168.6 222.5 168 225.3 167.1 226.8 166.2 226.7 165.1ZM222.9 162.4 220.5 161.7 217.2 161.3 213.4 161 209.3 161 205.5 161.3 202.3 161.8 200 162.5 198.8 163.3 198.8 164.2 200.1 165 202.5 165.6 205.8 166.1 209.6 166.4 213.7 166.4 217.5 166.1 220.7 165.6 223 164.9 224.2 164.1 224.2 163.2ZM220.3 161.1 218.4 160.6 215.9 160.2 212.9 160 209.8 160 206.9 160.2 204.4 160.6 202.6 161.2 201.7 161.8 201.7 162.4 202.7 163.1 204.6 163.6 207.1 164 210.1 164.2 213.2 164.2 216.1 163.9 218.6 163.5 220.4 163 221.3 162.4 221.3 161.7ZM217.5 160.2 216.2 159.9 214.5 159.6 212.5 159.5 210.4 159.5 208.4 159.6 206.7 159.9 205.5 160.3 204.8 160.7 204.8 161.2 205.5 161.6 206.8 161.9 208.5 162.2 210.5 162.3 212.6 162.3 214.6 162.2 216.3 161.9 217.5 161.5 218.2 161.1 218.2 160.7ZM214.5 159.8 213.9 159.7 213 159.5 212 159.5 210.9 159.5 209.9 159.5 209.1 159.7 208.4 159.9 208.1 160.1 208.1 160.3 208.5 160.5 209.1 160.7 210 160.8 211 160.9 212.1 160.9 213.1 160.8 213.9 160.7 214.6 160.5 214.9 160.3 214.9 160.1ZM211.5 199.3 214.5 198.7 217.5 197.6 220.3 196.1 222.9 194.2 225.2 192 227.2 189.4 228.7 186.6 229.9 183.6 230.6 180.5 230.9 177.4 230.6 174.4 229.9 171.5 228.7 168.8 227.2 166.3 225.2 164.2 222.9 162.4 220.3 161.1 217.5 160.2 214.5 159.8 211.5 159.9M211.5 199.3 213.9 198.5 216.2 197.3 218.4 195.6 220.5 193.6 222.3 191.2 223.9 188.5 225.1 185.6 226 182.5 226.6 179.4 226.8 176.3 226.6 173.2 226 170.4 225.1 167.7 223.9 165.4 222.3 163.4 220.5 161.7 218.4 160.6 216.2 159.9 213.9 159.7 211.5 159.9M211.5 199.3 213 198.4 214.5 197 215.9 195.2 217.2 193.1 218.4 190.6 219.3 187.8 220.1 184.8 220.7 181.7 221.1 178.6 221.2 175.5 221.1 172.4 220.7 169.6 220.1 167 219.3 164.7 218.4 162.8 217.2 161.3 215.9 160.2 214.5 159.6 213 159.5 211.5 159.9M211.5 199.3 212 198.3 212.5 196.9 212.9 195 213.4 192.8 213.7 190.3 214.1 187.5 214.3 184.4 214.5 181.3 214.6 178.2 214.7 175 214.6 172 214.5 169.2 214.3 166.6 214.1 164.3 213.7 162.5 213.4 161 212.9 160 212.5 159.5 212 159.5 211.5 159.9M211.5 199.3 210.9 198.3 210.4 196.9 209.8 195 209.3 192.8 208.9 190.3 208.5 187.5 208.2 184.5 208 181.3 207.9 178.2 207.8 175 207.9 172 208 169.2 208.2 166.6 208.5 164.4 208.9 162.5 209.3 161 209.8 160 210.4 159.5 210.9 159.5 211.5 159.9M211.5 199.3 209.9 198.4 208.4 197 206.9 195.3 205.5 193.1 204.3 190.6 203.3 187.9 202.5 184.9 201.9 181.8 201.5 178.6 201.4 175.5 201.5 172.5 201.9 169.6 202.5 167 203.3 164.7 204.3 162.8 205.5 161.3 206.9 160.2 208.4 159.6 209.9 159.5 211.5 159.9M211.5 199.3 209.1 198.5 206.7 197.3 204.4 195.7 202.3 193.6 200.5 191.2 198.9 188.6 197.6 185.7 196.6 182.6 196.1 179.5 195.9 176.4 196.1 173.3 196.6 170.5 197.6 167.8 198.9 165.4 200.5 163.4 202.3 161.8 204.4 160.6 206.7 159.9 209.1 159.7 211.5 159.9M211.5 199.3 208.4 198.7 205.5 197.7 202.6 196.2 200 194.3 197.7 192.1 195.7 189.5 194.1 186.7 192.9 183.7 192.2 180.7 191.9 177.6 192.2 174.5 192.9 171.6 194.1 168.9 195.7 166.4 197.7 164.3 200 162.5 202.6 161.2 205.5 160.3 208.4 159.9 211.5 159.9M211.5 199.3 208.1 198.9 204.8 198.1 201.7 196.8 198.8 195.1 196.2 193 194 190.6 192.2 187.9 190.9 185.1 190.2 182 189.9 178.9 190.2 175.9 190.9 172.9 192.2 170.1 194 167.5 196.2 165.2 198.8 163.3 201.7 161.8 204.8 160.7 208.1 160.1 211.5 159.9M211.5 199.3 208.1 199.1 204.8 198.5 201.7 197.5 198.8 196 196.3 194.1 194.1 191.8 192.3 189.2 191 186.4 190.2 183.5 190 180.4 190.2 177.3 191 174.3 192.3 171.4 194.1 168.7 196.3 166.3 198.8 164.2 201.7 162.4 204.8 161.2 208.1 160.3 211.5 159.9M211.5 199.3 208.5 199.4 205.5 199 202.7 198.1 200.1 196.8 197.8 195 195.8 192.9 194.3 190.4 193.1 187.7 192.4 184.8 192.1 181.8 192.4 178.7 193.1 175.6 194.3 172.6 195.8 169.8 197.8 167.2 200.1 165 202.7 163.1 205.5 161.6 208.5 160.5 211.5 159.9M211.5 199.3 209.1 199.5 206.8 199.3 204.6 198.6 202.5 197.5 200.7 195.8 199.1 193.8 197.9 191.5 197 188.8 196.4 186 196.2 182.9 196.4 179.8 197 176.7 197.9 173.6 199.1 170.7 200.7 168 202.5 165.6 204.6 163.6 206.8 161.9 209.1 160.7 211.5 159.9M211.5 199.3 210 199.7 208.5 199.6 207.1 199 205.8 197.9 204.6 196.4 203.7 194.5 202.9 192.2 202.3 189.6 201.9 186.8 201.8 183.7 201.9 180.6 202.3 177.5 202.9 174.4 203.7 171.4 204.6 168.6 205.8 166.1 207.1 164 208.5 162.2 210 160.8 211.5 159.9M211.5 199.3 211 199.7 210.5 199.7 210.1 199.2 209.6 198.2 209.3 196.7 208.9 194.9 208.7 192.6 208.5 190 208.4 187.2 208.3 184.2 208.4 181 208.5 177.9 208.7 174.8 208.9 171.7 209.3 168.9 209.6 166.4 210.1 164.2 210.5 162.3 211 160.9 211.5 159.9M211.5 199.3 212.1 199.7 212.6 199.7 213.2 199.2 213.7 198.2 214.1 196.7 214.5 194.8 214.8 192.6 215 190 215.1 187.2 215.2 184.2 215.1 181 215 177.9 214.8 174.7 214.5 171.7 214.1 168.9 213.7 166.4 213.2 164.2 212.6 162.3 212.1 160.9 211.5 159.9M211.5 199.3 213.1 199.7 214.6 199.6 216.1 199 217.5 197.9 218.7 196.4 219.7 194.5 220.5 192.2 221.1 189.6 221.5 186.7 221.6 183.7 221.5 180.6 221.1 177.4 220.5 174.3 219.7 171.3 218.7 168.6 217.5 166.1 216.1 163.9 214.6 162.2 213.1 160.8 211.5 159.9M211.5 199.3 213.9 199.5 216.3 199.3 218.6 198.6 220.7 197.4 222.5 195.8 224.1 193.8 225.4 191.4 226.4 188.7 226.9 185.9 227.1 182.8 226.9 179.7 226.4 176.6 225.4 173.5 224.1 170.6 222.5 168 220.7 165.6 218.6 163.5 216.3 161.9 213.9 160.7 211.5 159.9M211.5 199.3 214.6 199.3 217.5 198.9 220.4 198 223 196.7 225.3 194.9 227.3 192.8 228.9 190.3 230.1 187.6 230.8 184.7 231.1 181.6 230.8 178.5 230.1 175.5 228.9 172.5 227.3 169.7 225.3 167.1 223 164.9 220.4 163 217.5 161.5 214.6 160.5 211.5 159.9M211.5 199.3 214.9 199.1 218.2 198.5 221.3 197.4 224.2 195.9 226.8 194 229 191.7 230.8 189.1 232.1 186.3 232.8 183.3 233.1 180.3 232.8 177.2 232.1 174.1 230.8 171.3 229 168.6 226.8 166.2 224.2 164.1 221.3 162.4 218.2 161.1 214.9 160.3 211.5 159.9M211.5 199.3 214.9 198.9 218.2 198 221.3 196.8 224.2 195 226.7 192.9 228.9 190.5 230.7 187.8 232 184.9 232.8 181.9 233 178.8 232.8 175.7 232 172.8 230.7 170 228.9 167.4 226.7 165.1 224.2 163.2 221.3 161.7 218.2 160.7 214.9 160.1 211.5 159.9" fill="none" stroke-linejoin="round" stroke="#000" stroke-width="0.32" stroke-opacity="0.64"/></g>
<g><polygon points="153.1,247.9 153.1,248.1 153.2,248.2 153.3,248.3 153.5,248.5 153.7,248.6 153.9,248.7 154.3,248.8 154.6,248.9 155,249 155.5,249.1 156,249.2 156.5,249.3 157.1,249.4 157.6,249.4 158.2,249.5 158.8,249.5 159.5,249.5 160.1,249.5 160.7,249.5 161.4,249.5 162,249.5 162.6,249.5 163.2,249.4 163.8,249.4 164.3,249.3 164.8,249.2 165.3,249.1 165.8,249 166.2,248.9 166.6,248.8 166.9,248.7 167.1,248.6 167.4,248.5 167.5,248.3 167.6,248.2 167.7,248.1 167.7,124.3 167.7,124.1 167.6,124 167.5,123.9 167.3,123.7 167.1,123.6 166.9,123.5 166.5,123.4 166.2,123.3 165.8,123.2 165.3,123.1 164.8,123 164.3,122.9 163.7,122.8 163.2,122.8 162.6,122.7 162,122.7 161.3,122.7 160.7,122.7 160.1,122.7 159.4,122.7 158.8,122.7 158.2,122.7 157.6,122.8 157,122.8 156.5,122.9 156,123 155.5,123.1 155,123.2 154.6,123.3 154.2,123.4 153.9,123.5 153.7,123.6 153.4,123.7 153.3,123.9 153.2,124 153.1,124.1" fill="url(#g4)" fill-opacity="0.56"/><polygon points="153.1,247.9 153.1,248.1 153.2,248.2 153.3,248.3 153.5,248.5 153.7,248.6 153.9,248.7 154.3,248.8 154.6,248.9 155,249 155.5,249.1 156,249.2 156.5,249.3 157.1,249.4 157.6,249.4 158.2,249.5 158.8,249.5 159.5,249.5 160.1,249.5 160.7,249.5 161.4,249.5 162,249.5 162.6,249.5 163.2,249.4 163.8,249.4 164.3,249.3 164.8,249.2 165.3,249.1 165.8,249 166.2,248.9 166.6,248.8 166.9,248.7 167.1,248.6 167.4,248.5 167.5,248.3 167.6,248.2 167.7,248.1 167.7,124.3 167.7,124.1 167.6,124 167.5,123.9 167.3,123.7 167.1,123.6 166.9,123.5 166.5,123.4 166.2,123.3 165.8,123.2 165.3,123.1 164.8,123 164.3,122.9 163.7,122.8 163.2,122.8 162.6,122.7 162,122.7 161.3,122.7 160.7,122.7 160.1,122.7 159.4,122.7 158.8,122.7 158.2,122.7 157.6,122.8 157,122.8 156.5,122.9 156,123 155.5,123.1 155,123.2 154.6,123.3 154.2,123.4 153.9,123.5 153.7,123.6 153.4,123.7 153.3,123.9 153.2,124 153.1,124.1" fill="url(#g4)" fill-opacity="0.56"/><polygon points="166.9,247.3 166.5,247.2 166.2,247.1 165.8,247 165.3,246.9 164.8,246.8 164.3,246.7 163.7,246.6 163.2,246.6 162.6,246.5 162,246.5 161.3,246.5 160.7,246.5 160.1,246.5 159.4,246.5 158.8,246.5 158.2,246.5 157.6,246.6 157,246.6 156.5,246.7 156,246.8 155.5,246.9 155,247 154.6,247.1 154.2,247.2 153.9,247.3 153.7,247.4 153.4,247.5 153.3,247.7 153.2,247.8 153.1,247.9 153.1,248.1 153.2,248.2 153.3,248.3 153.5,248.5 153.7,248.6 153.9,248.7 154.3,248.8 154.6,248.9 155,249 155.5,249.1 156,249.2 156.5,249.3 157.1,249.4 157.6,249.4 158.2,249.5 158.8,249.5 159.5,249.5 160.1,249.5 160.7,249.5 161.4,249.5 162,249.5 162.6,249.5 163.2,249.4 163.8,249.4 164.3,249.3 164.8,249.2 165.3,249.1 165.8,249 166.2,248.9 166.6,248.8 166.9,248.7 167.1,248.6 167.4,248.5 167.5,248.3 167.6,248.2 167.7,248.1 167.7,247.9 167.6,247.8 167.5,247.7 167.3,247.5 167.1,247.4" fill="#4030a0" fill-opacity="0.4"/><polygon points="166.9,123.5 166.5,123.4 166.2,123.3 165.8,123.2 165.3,123.1 164.8,123 164.3,122.9 163.7,122.8 163.2,122.8 162.6,122.7 162,122.7 161.3,122.7 160.7,122.7 160.1,122.7 159.4,122.7 158.8,122.7 158.2,122.7 157.6,122.8 157,122.8 156.5,122.9 156,123 155.5,123.1 155,123.2 154.6,123.3 154.2,123.4 153.9,123.5 153.7,123.6 153.4,123.7 153.3,123.9 153.2,124 153.1,124.1 153.1,124.3 153.2,124.4 153.3,124.5 153.5,124.7 153.7,124.8 153.9,124.9 154.3,125 154.6,125.1 155,125.2 155.5,125.3 156,125.4 156.5,125.5 157.1,125.6 157.6,125.6 158.2,125.7 158.8,125.7 159.5,125.7 160.1,125.7 160.7,125.7 161.4,125.7 162,125.7 162.6,125.7 163.2,125.6 163.8,125.6 164.3,125.5 164.8,125.4 165.3,125.3 165.8,125.2 166.2,125.1 166.6,125 166.9,124.9 167.1,124.8 167.4,124.7 167.5,124.5 167.6,124.4 167.7,124.3 167.7,124.1 167.6,124 167.5,123.9 167.3,123.7 167.1,123.6" fill="#e080c8" fill-opacity="0.9"/><path d="M166.9 247.3V123.5M165.5 246.9V123.1M163.6 246.6V122.8M161.5 246.5V122.7M159.2 246.5V122.7M157 246.6V122.8M155.2 246.9V123.1M153.9 247.3V123.5M153.2 247.8V124M153.2 248.3V124.5M153.9 248.7V124.9M155.3 249.1V125.3M157.2 249.4V125.6M159.3 249.5V125.7M161.6 249.5V125.7M163.8 249.4V125.6M165.6 249.1V125.3M166.9 248.7V124.9M167.6 248.2V124.4M167.6 247.7V123.9M166.9 247.3 166.5 247.2 166.2 247.1 165.8 247 165.3 246.9 164.8 246.8 164.3 246.7 163.7 246.6 163.2 246.6 162.6 246.5 162 246.5 161.3 246.5 160.7 246.5 160.1 246.5 159.4 246.5 158.8 246.5 158.2 246.5 157.6 246.6 157 246.6 156.5 246.7 156 246.8 155.5 246.9 155 247 154.6 247.1 154.2 247.2 153.9 247.3 153.7 247.4 153.4 247.5 153.3 247.7 153.2 247.8 153.1 247.9 153.1 248.1 153.2 248.2 153.3 248.3 153.5 248.5 153.7 248.6 153.9 248.7 154.3 248.8 154.6 248.9 155 249 155.5 249.1 156 249.2 156.5 249.3 157.1 249.4 157.6 249.4 158.2 249.5 158.8 249.5 159.5 249.5 160.1 249.5 160.7 249.5 161.4 249.5 162 249.5 162.6 249.5 163.2 249.4 163.8 249.4 164.3 249.3 164.8 249.2 165.3 249.1 165.8 249 166.2 248.9 166.6 248.8 166.9 248.7 167.1 248.6 167.4 248.5 167.5 248.3 167.6 248.2 167.7 248.1 167.7 247.9 167.6 247.8 167.5 247.7 167.3 247.5 167.1 247.4 166.9 247.3ZM166.9 123.5 166.5 123.4 166.2 123.3 165.8 123.2 165.3 123.1 164.8 123 164.3 122.9 163.7 122.8 163.2 122.8 162.6 122.7 162 122.7 161.3 122.7 160.7 122.7 160.1 122.7 159.4 122.7 158.8 122.7 158.2 122.7 157.6 122.8 157 122.8 156.5 122.9 156 123 155.5 123.1 155 123.2 154.6 123.3 154.2 123.4 153.9 123.5 153.7 123.6 153.4 123.7 153.3 123.9 153.2 124 153.1 124.1 153.1 124.3 153.2 124.4 153.3 124.5 153.5 124.7 153.7 124.8 153.9 124.9 154.3 125 154.6 125.1 155 125.2 155.5 125.3 156 125.4 156.5 125.5 157.1 125.6 157.6 125.6 158.2 125.7 158.8 125.7 159.5 125.7 160.1 125.7 160.7 125.7 161.4 125.7 162 125.7 162.6 125.7 163.2 125.6 163.8 125.6 164.3 125.5 164.8 125.4 165.3 125.3 165.8 125.2 166.2 125.1 166.6 125 166.9 124.9 167.1 124.8 167.4 124.7 167.5 124.5 167.6 124.4 167.7 124.3 167.7 124.1 167.6 124 167.5 123.9 167.3 123.7 167.1 123.6 166.9 123.5Z" fill="none" stroke="#000" stroke-width="0.38" stroke-opacity="0.4"/></g>
<g><polygon points="243.4,254.9 243.5,255.2 243.6,255.4 243.8,255.7 244.1,255.9 244.6,256.2 245.1,256.4 245.7,256.7 246.5,256.9 247.3,257.1 248.2,257.3 249.2,257.5 250.2,257.6 251.3,257.7 252.5,257.9 253.7,257.9 254.9,258 256.1,258.1 257.4,258.1 258.7,258.1 259.9,258.1 261.2,258 262.4,257.9 263.6,257.8 264.8,257.7 265.9,257.6 266.9,257.4 267.9,257.3 268.8,257.1 269.6,256.9 270.3,256.6 270.9,256.4 271.5,256.2 271.9,255.9 272.2,255.6 272.4,255.4 272.6,255.1 272.6,150.1 272.5,149.8 272.4,149.6 272.2,149.3 271.9,149.1 271.4,148.8 270.9,148.6 270.3,148.3 269.5,148.1 268.7,147.9 267.8,147.7 266.8,147.5 265.8,147.4 264.7,147.3 263.5,147.1 262.3,147.1 261.1,147 259.9,146.9 258.6,146.9 257.3,146.9 256.1,146.9 254.8,147 253.6,147.1 252.4,147.2 251.2,147.3 250.1,147.4 249.1,147.6 248.1,147.7 247.2,147.9 246.4,148.1 245.7,148.4 245.1,148.6 244.5,148.8 244.1,149.1 243.8,149.4 243.6,149.6 243.4,149.9" fill="url(#g5)" fill-opacity="0.56"/><polygon points="243.4,254.9 243.5,255.2 243.6,255.4 243.8,255.7 244.1,255.9 244.6,256.2 245.1,256.4 245.7,256.7 246.5,256.9 247.3,257.1 248.2,257.3 249.2,257.5 250.2,257.6 251.3,257.7 252.5,257.9 253.7,257.9 254.9,258 256.1,258.1 257.4,258.1 258.7,258.1 259.9,258.1 261.2,258 262.4,257.9 263.6,257.8 264.8,257.7 265.9,257.6 266.9,257.4 267.9,257.3 268.8,257.1 269.6,256.9 270.3,256.6 270.9,256.4 271.5,256.2 271.9,255.9 272.2,255.6 272.4,255.4 272.6,255.1 272.6,150.1 272.5,149.8 272.4,149.6 272.2,149.3 271.9,149.1 271.4,148.8 270.9,148.6 270.3,148.3 269.5,148.1 268.7,147.9 267.8,147.7 266.8,147.5 265.8,147.4 264.7,147.3 263.5,147.1 262.3,147.1 261.1,147 259.9,146.9 258.6,146.9 257.3,146.9 256.1,146.9 254.8,147 253.6,147.1 252.4,147.2 251.2,147.3 250.1,147.4 249.1,147.6 248.1,147.7 247.2,147.9 246.4,148.1 245.7,148.4 245.1,148.6 244.5,148.8 244.1,149.1 243.8,149.4 243.6,149.6 243.4,149.9" fill="url(#g5)" fill-opacity="0.56"/><polygon points="270.9,253.6 270.3,253.3 269.5,253.1 268.7,252.9 267.8,252.7 266.8,252.5 265.8,252.4 264.7,252.3 263.5,252.1 262.3,252.1 261.1,252 259.9,251.9 258.6,251.9 257.3,251.9 256.1,251.9 254.8,252 253.6,252.1 252.4,252.2 251.2,252.3 250.1,252.4 249.1,252.6 248.1,252.7 247.2,252.9 246.4,253.1 245.7,253.4 245.1,253.6 244.5,253.8 244.1,254.1 243.8,254.4 243.6,254.6 243.4,254.9 243.5,255.2 243.6,255.4 243.8,255.7 244.1,255.9 244.6,256.2 245.1,256.4 245.7,256.7 246.5,256.9 247.3,257.1 248.2,257.3 249.2,257.5 250.2,257.6 251.3,257.7 252.5,257.9 253.7,257.9 254.9,258 256.1,258.1 257.4,258.1 258.7,258.1 259.9,258.1 261.2,258 262.4,257.9 263.6,257.8 264.8,257.7 265.9,257.6 266.9,257.4 267.9,257.3 268.8,257.1 269.6,256.9 270.3,256.6 270.9,256.4 271.5,256.2 271.9,255.9 272.2,255.6 272.4,255.4 272.6,255.1 272.5,254.8 272.4,254.6 272.2,254.3 271.9,254.1 271.4,253.8" fill="#206850" fill-opacity="0.6"/><polygon points="270.9,148.6 270.3,148.3 269.5,148.1 268.7,147.9 267.8,147.7 266.8,147.5 265.8,147.4 264.7,147.3 263.5,147.1 262.3,147.1 261.1,147 259.9,146.9 258.6,146.9 257.3,146.9 256.1,146.9 254.8,147 253.6,147.1 252.4,147.2 251.2,147.3 250.1,147.4 249.1,147.6 248.1,147.7 247.2,147.9 246.4,148.1 245.7,148.4 245.1,148.6 244.5,148.8 244.1,149.1 243.8,149.4 243.6,149.6 243.4,149.9 243.5,150.2 243.6,150.4 243.8,150.7 244.1,150.9 244.6,151.2 245.1,151.4 245.7,151.7 246.5,151.9 247.3,152.1 248.2,152.3 249.2,152.5 250.2,152.6 251.3,152.7 252.5,152.9 253.7,152.9 254.9,153 256.1,153.1 257.4,153.1 258.7,153.1 259.9,153.1 261.2,153 262.4,152.9 263.6,152.8 264.8,152.7 265.9,152.6 266.9,152.4 267.9,152.3 268.8,152.1 269.6,151.9 270.3,151.6 270.9,151.4 271.5,151.2 271.9,150.9 272.2,150.6 272.4,150.4 272.6,150.1 272.5,149.8 272.4,149.6 272.2,149.3 271.9,149.1 271.4,148.8" fill="#60d0c4" fill-opacity="0.8"/><path d="M270.9 253.6V148.6M268.2 252.8V147.8M264.5 252.2V147.2M260.1 252V147M255.6 252V147M251.2 252.3V147.3M247.6 252.9V147.9M245 253.6V148.6M243.6 254.6V149.6M243.6 255.5V150.5M245.1 256.4V151.4M247.8 257.2V152.2M251.5 257.8V152.8M255.9 258V153M260.4 258V153M264.8 257.7V152.7M268.4 257.1V152.1M271 256.4V151.4M272.4 255.4V150.4M272.4 254.5V149.5M270.9 253.6 270.3 253.3 269.5 253.1 268.7 252.9 267.8 252.7 266.8 252.5 265.8 252.4 264.7 252.3 263.5 252.1 262.3 252.1 261.1 252 259.9 251.9 258.6 251.9 257.3 251.9 256.1 251.9 254.8 252 253.6 252.1 252.4 252.2 251.2 252.3 250.1 252.4 249.1 252.6 248.1 252.7 247.2 252.9 246.4 253.1 245.7 253.4 245.1 253.6 244.5 253.8 244.1 254.1 243.8 254.4 243.6 254.6 243.4 254.9 243.5 255.2 243.6 255.4 243.8 255.7 244.1 255.9 244.6 256.2 245.1 256.4 245.7 256.7 246.5 256.9 247.3 257.1 248.2 257.3 249.2 257.5 250.2 257.6 251.3 257.7 252.5 257.9 253.7 257.9 254.9 258 256.1 258.1 257.4 258.1 258.7 258.1 259.9 258.1 261.2 258 262.4 257.9 263.6 257.8 264.8 257.7 265.9 257.6 266.9 257.4 267.9 257.3 268.8 257.1 269.6 256.9 270.3 256.6 270.9 256.4 271.5 256.2 271.9 255.9 272.2 255.6 272.4 255.4 272.6 255.1 272.5 254.8 272.4 254.6 272.2 254.3 271.9 254.1 271.4 253.8 270.9 253.6ZM270.9 148.6 270.3 148.3 269.5 148.1 268.7 147.9 267.8 147.7 266.8 147.5 265.8 147.4 264.7 147.3 263.5 147.1 262.3 147.1 261.1 147 259.9 146.9 258.6 146.9 257.3 146.9 256.1 146.9 254.8 147 253.6 147.1 252.4 147.2 251.2 147.3 250.1 147.4 249.1 147.6 248.1 147.7 247.2 147.9 246.4 148.1 245.7 148.4 245.1 148.6 244.5 148.8 244.1 149.1 243.8 149.4 243.6 149.6 243.4 149.9 243.5 150.2 243.6 150.4 243.8 150.7 244.1 150.9 244.6 151.2 245.1 151.4 245.7 151.7 246.5 151.9 247.3 152.1 248.2 152.3 249.2 152.5 250.2 152.6 251.3 152.7 252.5 152.9 253.7 152.9 254.9 153 256.1 153.1 257.4 153.1 258.7 153.1 259.9 153.1 261.2 153 262.4 152.9 263.6 152.8 264.8 152.7 265.9 152.6 266.9 152.4 267.9 152.3 268.8 152.1 269.6 151.9 270.3 151.6 270.9 151.4 271.5 151.2 271.9 150.9 272.2 150.6 272.4 150.4 272.6 150.1 272.5 149.8 272.4 149.6 272.2 149.3 271.9 149.1 271.4 148.8 270.9 148.6Z" fill="none" stroke="#000" stroke-width="0.38" stroke-opacity="0.42"/></g>
<polyline points="331.6,340.6 314.7,304 307.9,301 296,273.4 316,260.4 309.9,236 315.5,221.4 296.3,213.4 282.5,207 296,197.3 300,195.2 306.6,189.9 334,186.6 345.3,179.5 338,176.2 325.8,171.6" fill="none" stroke="#ff00ff" stroke-width="1.9" stroke-opacity="1" stroke-linejoin="round"/>
<polyline points="331.6,340.6 316.2,311.3 310.9,290 307.7,273.4 309,236 300.8,215 283.5,207 296,201.5 300,199.5 316.6,191.5 330,185 334,179 326.6,173.3 325.2,171.9" fill="none" stroke="#00ffff" stroke-width="1.5" stroke-opacity="1" stroke-linejoin="round"/>
<polyline points="293,153.8 219.8,98.5" fill="none" stroke="#ff00ff" stroke-width="1.9" stroke-opacity="1" stroke-linejoin="round"/>
<polyline points="292.7,154.3 219.5,98.9" fill="none" stroke="#00ffff" stroke-width="1.5" stroke-opacity="1" stroke-linejoin="round"/>
<g><polygon points="281.9,240.8 281.9,241.2 282,241.6 282.4,242 282.9,242.4 283.5,242.8 284.3,243.2 285.3,243.5 286.4,243.8 287.6,244.1 289,244.4 290.4,244.7 292,244.9 293.7,245.1 295.4,245.3 297.2,245.4 299,245.5 300.9,245.6 302.8,245.6 304.7,245.6 306.6,245.6 308.5,245.5 310.3,245.4 312.1,245.3 313.8,245.1 315.5,244.9 317,244.6 318.5,244.4 319.8,244.1 321.1,243.8 322.2,243.5 323.1,243.1 323.9,242.7 324.6,242.4 325,242 325.4,241.6 325.5,241.2 325.5,63.5 325.5,63.1 325.4,62.7 325,62.3 324.5,61.9 323.9,61.5 323.1,61.1 322.1,60.8 321,60.5 319.8,60.2 318.4,59.9 317,59.6 315.4,59.4 313.7,59.2 312,59 310.2,58.9 308.4,58.8 306.5,58.7 304.6,58.7 302.7,58.7 300.8,58.7 298.9,58.8 297.1,58.9 295.3,59 293.6,59.2 291.9,59.4 290.4,59.7 288.9,59.9 287.6,60.2 286.3,60.5 285.2,60.8 284.3,61.2 283.5,61.6 282.8,61.9 282.4,62.3 282,62.7 281.9,63.1" fill="url(#g6)" fill-opacity="0.56"/><polygon points="281.9,240.8 281.9,241.2 282,241.6 282.4,242 282.9,242.4 283.5,242.8 284.3,243.2 285.3,243.5 286.4,243.8 287.6,244.1 289,244.4 290.4,244.7 292,244.9 293.7,245.1 295.4,245.3 297.2,245.4 299,245.5 300.9,245.6 302.8,245.6 304.7,245.6 306.6,245.6 308.5,245.5 310.3,245.4 312.1,245.3 313.8,245.1 315.5,244.9 317,244.6 318.5,244.4 319.8,244.1 321.1,243.8 322.2,243.5 323.1,243.1 323.9,242.7 324.6,242.4 325,242 325.4,241.6 325.5,241.2 325.5,63.5 325.5,63.1 325.4,62.7 325,62.3 324.5,61.9 323.9,61.5 323.1,61.1 322.1,60.8 321,60.5 319.8,60.2 318.4,59.9 317,59.6 315.4,59.4 313.7,59.2 312,59 310.2,58.9 308.4,58.8 306.5,58.7 304.6,58.7 302.7,58.7 300.8,58.7 298.9,58.8 297.1,58.9 295.3,59 293.6,59.2 291.9,59.4 290.4,59.7 288.9,59.9 287.6,60.2 286.3,60.5 285.2,60.8 284.3,61.2 283.5,61.6 282.8,61.9 282.4,62.3 282,62.7 281.9,63.1" fill="url(#g6)" fill-opacity="0.56"/><polygon points="323.1,238.8 322.1,238.5 321,238.2 319.8,237.9 318.4,237.6 317,237.3 315.4,237.1 313.7,236.9 312,236.7 310.2,236.6 308.4,236.5 306.5,236.4 304.6,236.4 302.7,236.4 300.8,236.4 298.9,236.5 297.1,236.6 295.3,236.7 293.6,236.9 291.9,237.1 290.4,237.4 288.9,237.6 287.6,237.9 286.3,238.2 285.2,238.5 284.3,238.9 283.5,239.3 282.8,239.6 282.4,240 282,240.4 281.9,240.8 281.9,241.2 282,241.6 282.4,242 282.9,242.4 283.5,242.8 284.3,243.2 285.3,243.5 286.4,243.8 287.6,244.1 289,244.4 290.4,244.7 292,244.9 293.7,245.1 295.4,245.3 297.2,245.4 299,245.5 300.9,245.6 302.8,245.6 304.7,245.6 306.6,245.6 308.5,245.5 310.3,245.4 312.1,245.3 313.8,245.1 315.5,244.9 317,244.6 318.5,244.4 319.8,244.1 321.1,243.8 322.2,243.5 323.1,243.1 323.9,242.7 324.6,242.4 325,242 325.4,241.6 325.5,241.2 325.5,240.8 325.4,240.4 325,240 324.5,239.6 323.9,239.2" fill="#403090" fill-opacity="0.4"/><polygon points="323.1,61.1 322.1,60.8 321,60.5 319.8,60.2 318.4,59.9 317,59.6 315.4,59.4 313.7,59.2 312,59 310.2,58.9 308.4,58.8 306.5,58.7 304.6,58.7 302.7,58.7 300.8,58.7 298.9,58.8 297.1,58.9 295.3,59 293.6,59.2 291.9,59.4 290.4,59.7 288.9,59.9 287.6,60.2 286.3,60.5 285.2,60.8 284.3,61.2 283.5,61.6 282.8,61.9 282.4,62.3 282,62.7 281.9,63.1 281.9,63.5 282,63.9 282.4,64.3 282.9,64.7 283.5,65.1 284.3,65.5 285.3,65.8 286.4,66.1 287.6,66.4 289,66.7 290.4,67 292,67.2 293.7,67.4 295.4,67.6 297.2,67.7 299,67.8 300.9,67.9 302.8,67.9 304.7,67.9 306.6,67.9 308.5,67.8 310.3,67.7 312.1,67.6 313.8,67.4 315.5,67.2 317,66.9 318.5,66.7 319.8,66.4 321.1,66.1 322.2,65.8 323.1,65.4 323.9,65 324.6,64.7 325,64.3 325.4,63.9 325.5,63.5 325.5,63.1 325.4,62.7 325,62.3 324.5,61.9 323.9,61.5" fill="#2c4a68" fill-opacity="0.92"/><path d="M323.1 238.8V61.1M319 237.7V60M313.4 236.9V59.2M306.9 236.4V58.7M300 236.4V58.7M293.6 236.9V59.2M288.1 237.8V60.1M284.1 239V61.3M282.1 240.3V62.6M282.2 241.8V64.1M284.3 243.2V65.5M288.4 244.3V66.6M294 245.1V67.4M300.5 245.6V67.9M307.4 245.6V67.9M313.8 245.1V67.4M319.3 244.2V66.5M323.3 243V65.3M325.3 241.7V64M325.2 240.2V62.5M323.1 238.8 322.1 238.5 321 238.2 319.8 237.9 318.4 237.6 317 237.3 315.4 237.1 313.7 236.9 312 236.7 310.2 236.6 308.4 236.5 306.5 236.4 304.6 236.4 302.7 236.4 300.8 236.4 298.9 236.5 297.1 236.6 295.3 236.7 293.6 236.9 291.9 237.1 290.4 237.4 288.9 237.6 287.6 237.9 286.3 238.2 285.2 238.5 284.3 238.9 283.5 239.3 282.8 239.6 282.4 240 282 240.4 281.9 240.8 281.9 241.2 282 241.6 282.4 242 282.9 242.4 283.5 242.8 284.3 243.2 285.3 243.5 286.4 243.8 287.6 244.1 289 244.4 290.4 244.7 292 244.9 293.7 245.1 295.4 245.3 297.2 245.4 299 245.5 300.9 245.6 302.8 245.6 304.7 245.6 306.6 245.6 308.5 245.5 310.3 245.4 312.1 245.3 313.8 245.1 315.5 244.9 317 244.6 318.5 244.4 319.8 244.1 321.1 243.8 322.2 243.5 323.1 243.1 323.9 242.7 324.6 242.4 325 242 325.4 241.6 325.5 241.2 325.5 240.8 325.4 240.4 325 240 324.5 239.6 323.9 239.2 323.1 238.8ZM323.1 61.1 322.1 60.8 321 60.5 319.8 60.2 318.4 59.9 317 59.6 315.4 59.4 313.7 59.2 312 59 310.2 58.9 308.4 58.8 306.5 58.7 304.6 58.7 302.7 58.7 300.8 58.7 298.9 58.8 297.1 58.9 295.3 59 293.6 59.2 291.9 59.4 290.4 59.7 288.9 59.9 287.6 60.2 286.3 60.5 285.2 60.8 284.3 61.2 283.5 61.6 282.8 61.9 282.4 62.3 282 62.7 281.9 63.1 281.9 63.5 282 63.9 282.4 64.3 282.9 64.7 283.5 65.1 284.3 65.5 285.3 65.8 286.4 66.1 287.6 66.4 289 66.7 290.4 67 292 67.2 293.7 67.4 295.4 67.6 297.2 67.7 299 67.8 300.9 67.9 302.8 67.9 304.7 67.9 306.6 67.9 308.5 67.8 310.3 67.7 312.1 67.6 313.8 67.4 315.5 67.2 317 66.9 318.5 66.7 319.8 66.4 321.1 66.1 322.2 65.8 323.1 65.4 323.9 65 324.6 64.7 325 64.3 325.4 63.9 325.5 63.5 325.5 63.1 325.4 62.7 325 62.3 324.5 61.9 323.9 61.5 323.1 61.1Z" fill="none" stroke="#000" stroke-width="0.38" stroke-opacity="0.42"/></g>
<polygon points="230,263.3 229,262.9 227.8,262.6 226.4,262.3 224.9,262.1 223.2,261.9 221.4,261.8 219.6,261.7 217.7,261.6 215.8,261.6 213.9,261.7 212.1,261.8 210.3,262 208.7,262.2 207.2,262.4 205.9,262.7 204.8,263.1 203.9,263.4 203.2,263.8 202.8,264.2 202.5,264.6 202.6,265 202.9,265.4 203.4,265.8 204.2,266.1 205.2,266.5 206.4,266.8 207.8,267.1 209.3,267.3 211,267.5 212.8,267.6 214.6,267.7 216.5,267.8 218.4,267.8 220.3,267.7 222.1,267.6 223.9,267.4 225.5,267.2 227,267 228.3,266.7 229.4,266.3 230.3,266 231,265.6 231.4,265.2 231.7,264.8 231.6,264.4 231.3,264 230.8,263.6" fill="none" stroke="#4070f0" stroke-width="1.2" stroke-opacity="1"/><polygon points="228.7,263.4 227.8,263.1 226.7,262.8 225.5,262.6 224.1,262.4 222.6,262.2 221,262.1 219.3,262 217.6,261.9 215.9,261.9 214.2,262 212.6,262.1 211,262.3 209.6,262.4 208.2,262.7 207,262.9 206,263.2 205.2,263.5 204.6,263.9 204.2,264.2 204,264.6 204,265 204.3,265.3 204.8,265.7 205.5,266 206.4,266.3 207.5,266.6 208.7,266.8 210.1,267 211.6,267.2 213.2,267.3 214.9,267.4 216.6,267.5 218.3,267.5 220,267.4 221.6,267.3 223.2,267.1 224.6,267 226,266.7 227.2,266.5 228.2,266.2 229,265.9 229.6,265.5 230,265.2 230.2,264.8 230.2,264.4 229.9,264.1 229.4,263.7" fill="none" stroke="#80b0f8" stroke-width="0.5" stroke-opacity="0.45"/><polygon points="226.8,263.6 226,263.4 225.1,263.1 224.1,262.9 222.9,262.7 221.7,262.6 220.4,262.5 219,262.4 217.5,262.4 216.1,262.4 214.7,262.4 213.3,262.5 212,262.7 210.8,262.8 209.7,263 208.7,263.2 207.9,263.5 207.2,263.7 206.7,264 206.3,264.3 206.2,264.6 206.2,264.9 206.4,265.2 206.8,265.5 207.4,265.8 208.2,266 209.1,266.3 210.1,266.5 211.3,266.7 212.5,266.8 213.8,266.9 215.2,267 216.7,267 218.1,267 219.5,267 220.9,266.9 222.2,266.7 223.4,266.6 224.5,266.4 225.5,266.2 226.3,265.9 227,265.7 227.5,265.4 227.9,265.1 228,264.8 228,264.5 227.8,264.2 227.4,263.9" fill="none" stroke="#80b0f8" stroke-width="0.85" stroke-opacity="0.9"/>
<polygon points="263.4,273.6 261.9,273.1 260.1,272.7 258,272.2 255.7,271.9 253.2,271.6 250.5,271.4 247.7,271.2 244.9,271.2 242,271.2 239.2,271.3 236.5,271.5 233.9,271.7 231.4,272 229.2,272.4 227.2,272.9 225.5,273.3 224.2,273.9 223.1,274.4 222.5,275 222.2,275.6 222.2,276.2 222.7,276.8 223.5,277.4 224.7,278 226.1,278.5 227.9,278.9 230,279.4 232.3,279.7 234.8,280 237.5,280.2 240.3,280.4 243.1,280.4 246,280.4 248.8,280.3 251.5,280.1 254.1,279.9 256.6,279.6 258.8,279.2 260.8,278.7 262.5,278.3 263.8,277.7 264.9,277.2 265.5,276.6 265.8,276 265.8,275.4 265.3,274.8 264.5,274.2" fill="none" stroke="#40d0d0" stroke-width="1.2" stroke-opacity="1"/><polygon points="261.4,273.9 260.1,273.4 258.5,273 256.6,272.6 254.5,272.3 252.3,272 249.9,271.8 247.4,271.7 244.8,271.6 242.2,271.7 239.7,271.7 237.2,271.9 234.9,272.1 232.7,272.4 230.7,272.8 228.9,273.1 227.4,273.6 226.2,274.1 225.2,274.6 224.6,275.1 224.4,275.6 224.4,276.2 224.8,276.7 225.5,277.2 226.6,277.7 227.9,278.2 229.5,278.6 231.4,279 233.5,279.3 235.7,279.6 238.1,279.8 240.6,279.9 243.2,280 245.8,279.9 248.3,279.9 250.8,279.7 253.1,279.5 255.3,279.2 257.3,278.8 259.1,278.5 260.6,278 261.8,277.5 262.8,277 263.4,276.5 263.6,276 263.6,275.4 263.2,274.9 262.5,274.4" fill="none" stroke="#60d8b0" stroke-width="0.5" stroke-opacity="0.45"/><polygon points="258.5,274.2 257.4,273.8 256.1,273.4 254.5,273.1 252.8,272.9 250.9,272.7 248.9,272.5 246.8,272.4 244.7,272.3 242.5,272.4 240.4,272.4 238.4,272.6 236.4,272.7 234.6,273 232.9,273.3 231.4,273.6 230.2,274 229.1,274.4 228.4,274.8 227.9,275.2 227.6,275.7 227.7,276.1 228,276.6 228.6,277 229.5,277.4 230.6,277.8 231.9,278.2 233.5,278.5 235.2,278.7 237.1,278.9 239.1,279.1 241.2,279.2 243.3,279.3 245.5,279.2 247.6,279.2 249.6,279 251.6,278.9 253.4,278.6 255.1,278.3 256.6,278 257.8,277.6 258.9,277.2 259.6,276.8 260.1,276.4 260.4,275.9 260.3,275.5 260,275 259.4,274.6" fill="none" stroke="#60d8b0" stroke-width="0.85" stroke-opacity="0.9"/>
<g><polygon points="163.2,267.8 163.2,268.2 163.3,268.6 163.7,269 164.2,269.4 164.8,269.8 165.7,270.2 166.6,270.5 167.7,270.8 168.9,271.1 170.3,271.4 171.7,271.7 173.3,271.9 175,272.1 176.7,272.3 178.5,272.4 180.3,272.5 182.2,272.6 184.1,272.6 186,272.6 187.9,272.6 189.8,272.5 191.6,272.4 193.4,272.3 195.1,272.1 196.8,271.9 198.3,271.6 199.8,271.4 201.1,271.1 202.4,270.8 203.5,270.5 204.4,270.1 205.2,269.7 205.9,269.4 206.3,269 206.7,268.6 206.8,268.2 206.8,222.7 206.8,222.3 206.7,221.9 206.3,221.5 205.8,221.1 205.2,220.7 204.3,220.3 203.4,220 202.3,219.7 201.1,219.4 199.7,219.1 198.3,218.8 196.7,218.6 195,218.4 193.3,218.2 191.5,218.1 189.7,218 187.8,217.9 185.9,217.9 184,217.9 182.1,217.9 180.2,218 178.4,218.1 176.6,218.2 174.9,218.4 173.2,218.6 171.7,218.9 170.2,219.1 168.9,219.4 167.6,219.7 166.5,220 165.6,220.4 164.8,220.8 164.1,221.1 163.7,221.5 163.3,221.9 163.2,222.3" fill="url(#g7)" fill-opacity="0.56"/><polygon points="163.2,267.8 163.2,268.2 163.3,268.6 163.7,269 164.2,269.4 164.8,269.8 165.7,270.2 166.6,270.5 167.7,270.8 168.9,271.1 170.3,271.4 171.7,271.7 173.3,271.9 175,272.1 176.7,272.3 178.5,272.4 180.3,272.5 182.2,272.6 184.1,272.6 186,272.6 187.9,272.6 189.8,272.5 191.6,272.4 193.4,272.3 195.1,272.1 196.8,271.9 198.3,271.6 199.8,271.4 201.1,271.1 202.4,270.8 203.5,270.5 204.4,270.1 205.2,269.7 205.9,269.4 206.3,269 206.7,268.6 206.8,268.2 206.8,222.7 206.8,222.3 206.7,221.9 206.3,221.5 205.8,221.1 205.2,220.7 204.3,220.3 203.4,220 202.3,219.7 201.1,219.4 199.7,219.1 198.3,218.8 196.7,218.6 195,218.4 193.3,218.2 191.5,218.1 189.7,218 187.8,217.9 185.9,217.9 184,217.9 182.1,217.9 180.2,218 178.4,218.1 176.6,218.2 174.9,218.4 173.2,218.6 171.7,218.9 170.2,219.1 168.9,219.4 167.6,219.7 166.5,220 165.6,220.4 164.8,220.8 164.1,221.1 163.7,221.5 163.3,221.9 163.2,222.3" fill="url(#g7)" fill-opacity="0.56"/><polygon points="204.3,265.8 203.4,265.5 202.3,265.2 201.1,264.9 199.7,264.6 198.3,264.3 196.7,264.1 195,263.9 193.3,263.7 191.5,263.6 189.7,263.5 187.8,263.4 185.9,263.4 184,263.4 182.1,263.4 180.2,263.5 178.4,263.6 176.6,263.7 174.9,263.9 173.2,264.1 171.7,264.4 170.2,264.6 168.9,264.9 167.6,265.2 166.5,265.5 165.6,265.9 164.8,266.3 164.1,266.6 163.7,267 163.3,267.4 163.2,267.8 163.2,268.2 163.3,268.6 163.7,269 164.2,269.4 164.8,269.8 165.7,270.2 166.6,270.5 167.7,270.8 168.9,271.1 170.3,271.4 171.7,271.7 173.3,271.9 175,272.1 176.7,272.3 178.5,272.4 180.3,272.5 182.2,272.6 184.1,272.6 186,272.6 187.9,272.6 189.8,272.5 191.6,272.4 193.4,272.3 195.1,272.1 196.8,271.9 198.3,271.6 199.8,271.4 201.1,271.1 202.4,270.8 203.5,270.5 204.4,270.1 205.2,269.7 205.9,269.4 206.3,269 206.7,268.6 206.8,268.2 206.8,267.8 206.7,267.4 206.3,267 205.8,266.6 205.2,266.2" fill="#801878" fill-opacity="0.55"/><polygon points="204.3,220.3 203.4,220 202.3,219.7 201.1,219.4 199.7,219.1 198.3,218.8 196.7,218.6 195,218.4 193.3,218.2 191.5,218.1 189.7,218 187.8,217.9 185.9,217.9 184,217.9 182.1,217.9 180.2,218 178.4,218.1 176.6,218.2 174.9,218.4 173.2,218.6 171.7,218.9 170.2,219.1 168.9,219.4 167.6,219.7 166.5,220 165.6,220.4 164.8,220.8 164.1,221.1 163.7,221.5 163.3,221.9 163.2,222.3 163.2,222.7 163.3,223.1 163.7,223.5 164.2,223.9 164.8,224.3 165.7,224.7 166.6,225 167.7,225.3 168.9,225.6 170.3,225.9 171.7,226.2 173.3,226.4 175,226.6 176.7,226.8 178.5,226.9 180.3,227 182.2,227.1 184.1,227.1 186,227.1 187.9,227.1 189.8,227 191.6,226.9 193.4,226.8 195.1,226.6 196.8,226.4 198.3,226.1 199.8,225.9 201.1,225.6 202.4,225.3 203.5,225 204.4,224.6 205.2,224.2 205.9,223.9 206.3,223.5 206.7,223.1 206.8,222.7 206.8,222.3 206.7,221.9 206.3,221.5 205.8,221.1 205.2,220.7" fill="#9c80dc" fill-opacity="0.8"/><path d="M204.3 265.8V220.3M200.3 264.7V219.2M194.7 263.9V218.4M188.2 263.4V217.9M181.3 263.4V217.9M174.9 263.9V218.4M169.4 264.8V219.3M165.4 266V220.5M163.4 267.3V221.8M163.5 268.8V223.3M165.7 270.2V224.7M169.7 271.3V225.8M175.3 272.1V226.6M181.8 272.6V227.1M188.7 272.6V227.1M195.1 272.1V226.6M200.6 271.2V225.7M204.6 270V224.5M206.6 268.7V223.2M206.5 267.2V221.7M204.3 265.8 203.4 265.5 202.3 265.2 201.1 264.9 199.7 264.6 198.3 264.3 196.7 264.1 195 263.9 193.3 263.7 191.5 263.6 189.7 263.5 187.8 263.4 185.9 263.4 184 263.4 182.1 263.4 180.2 263.5 178.4 263.6 176.6 263.7 174.9 263.9 173.2 264.1 171.7 264.4 170.2 264.6 168.9 264.9 167.6 265.2 166.5 265.5 165.6 265.9 164.8 266.3 164.1 266.6 163.7 267 163.3 267.4 163.2 267.8 163.2 268.2 163.3 268.6 163.7 269 164.2 269.4 164.8 269.8 165.7 270.2 166.6 270.5 167.7 270.8 168.9 271.1 170.3 271.4 171.7 271.7 173.3 271.9 175 272.1 176.7 272.3 178.5 272.4 180.3 272.5 182.2 272.6 184.1 272.6 186 272.6 187.9 272.6 189.8 272.5 191.6 272.4 193.4 272.3 195.1 272.1 196.8 271.9 198.3 271.6 199.8 271.4 201.1 271.1 202.4 270.8 203.5 270.5 204.4 270.1 205.2 269.7 205.9 269.4 206.3 269 206.7 268.6 206.8 268.2 206.8 267.8 206.7 267.4 206.3 267 205.8 266.6 205.2 266.2 204.3 265.8ZM204.3 220.3 203.4 220 202.3 219.7 201.1 219.4 199.7 219.1 198.3 218.8 196.7 218.6 195 218.4 193.3 218.2 191.5 218.1 189.7 218 187.8 217.9 185.9 217.9 184 217.9 182.1 217.9 180.2 218 178.4 218.1 176.6 218.2 174.9 218.4 173.2 218.6 171.7 218.9 170.2 219.1 168.9 219.4 167.6 219.7 166.5 220 165.6 220.4 164.8 220.8 164.1 221.1 163.7 221.5 163.3 221.9 163.2 222.3 163.2 222.7 163.3 223.1 163.7 223.5 164.2 223.9 164.8 224.3 165.7 224.7 166.6 225 167.7 225.3 168.9 225.6 170.3 225.9 171.7 226.2 173.3 226.4 175 226.6 176.7 226.8 178.5 226.9 180.3 227 182.2 227.1 184.1 227.1 186 227.1 187.9 227.1 189.8 227 191.6 226.9 193.4 226.8 195.1 226.6 196.8 226.4 198.3 226.1 199.8 225.9 201.1 225.6 202.4 225.3 203.5 225 204.4 224.6 205.2 224.2 205.9 223.9 206.3 223.5 206.7 223.1 206.8 222.7 206.8 222.3 206.7 221.9 206.3 221.5 205.8 221.1 205.2 220.7 204.3 220.3Z" fill="none" stroke="#000" stroke-width="0.38" stroke-opacity="0.42"/></g>
<g><polygon points="217,205 215.5,205.1 214,205.4 212.5,205.7 211.1,206.2 209.8,206.9 208.5,207.7 207.3,208.6 206.2,209.6 205.3,210.7 204.4,211.8 203.8,213.1 203.2,214.4 202.8,215.8 202.6,217.2 202.5,218.6 202.6,220 202.9,221.4 203.3,222.7 203.8,224.1 204.5,225.3 205.4,226.5 206.3,227.6 207.4,228.6 208.6,229.4 209.9,230.2 211.2,230.8 212.7,231.3 214.1,231.7 215.7,231.9 217.2,232 218.7,231.9 220.2,231.6 221.7,231.3 223.1,230.8 224.4,230.1 225.7,229.3 226.9,228.4 228,227.4 228.9,226.3 229.8,225.2 230.4,223.9 231,222.6 231.4,221.2 231.6,219.8 231.7,218.4 231.6,217 231.3,215.6 230.9,214.3 230.4,212.9 229.7,211.7 228.8,210.5 227.9,209.4 226.8,208.4 225.6,207.6 224.3,206.8 223,206.2 221.5,205.7 220.1,205.3 218.5,205.1" fill="url(#g8)" fill-opacity="0.5"/><path d="M219.1 231.2 218.7 231.1 218.1 231 217.4 231 216.7 231 216 231 215.5 231.1 215.1 231.2 214.8 231.4 214.9 231.5 215.1 231.7 215.5 231.8 216.1 231.9 216.8 231.9 217.5 231.9 218.2 231.9 218.7 231.8 219.1 231.7 219.4 231.5 219.3 231.4ZM221.1 230.5 220.2 230.3 219.1 230.1 217.8 230 216.3 230 215 230.1 213.9 230.3 213.1 230.5 212.6 230.8 212.7 231.1 213.1 231.4 214 231.6 215.1 231.8 216.4 231.9 217.9 231.9 219.2 231.8 220.3 231.6 221.1 231.4 221.6 231.1 221.5 230.8ZM223 229.5 221.7 229.2 220 228.9 218.1 228.8 216 228.8 214 228.9 212.4 229.2 211.2 229.6 210.6 230 210.6 230.4 211.2 230.8 212.5 231.2 214.2 231.4 216.1 231.6 218.2 231.6 220.2 231.4 221.8 231.1 223 230.8 223.6 230.4 223.6 229.9ZM224.7 228.3 223.1 227.8 220.9 227.5 218.3 227.3 215.7 227.3 213.1 227.5 211 227.8 209.4 228.3 208.6 228.8 208.7 229.4 209.5 229.9 211.1 230.4 213.3 230.7 215.9 230.9 218.5 230.9 221.1 230.7 223.2 230.4 224.8 229.9 225.6 229.4 225.5 228.8ZM226.2 226.7 224.3 226.2 221.7 225.8 218.6 225.6 215.4 225.6 212.3 225.8 209.7 226.3 207.9 226.8 206.9 227.5 206.9 228.1 208 228.8 209.9 229.3 212.5 229.7 215.6 229.9 218.8 229.9 221.9 229.7 224.5 229.3 226.3 228.7 227.3 228.1 227.3 227.4ZM227.5 225 225.3 224.4 222.3 224 218.8 223.7 215.1 223.7 211.6 224 208.7 224.5 206.5 225.1 205.4 225.9 205.5 226.6 206.7 227.4 208.9 228 211.9 228.4 215.4 228.7 219.1 228.7 222.6 228.4 225.5 227.9 227.7 227.3 228.8 226.6 228.7 225.8ZM228.6 223.2 226.2 222.5 222.9 222 219 221.7 214.9 221.7 211.1 222 207.8 222.5 205.5 223.2 204.3 224.1 204.3 224.9 205.6 225.7 208 226.4 211.3 226.9 215.2 227.2 219.3 227.2 223.1 226.9 226.4 226.4 228.7 225.7 229.9 224.8 229.9 224ZM229.4 221.2 226.8 220.4 223.2 219.9 219.1 219.7 214.8 219.7 210.7 220 207.2 220.5 204.7 221.3 203.4 222.1 203.4 223.1 204.8 223.9 207.4 224.7 211 225.2 215.1 225.4 219.4 225.4 223.5 225.1 227 224.6 229.5 223.8 230.8 223 230.8 222ZM229.8 219.1 227.2 218.4 223.5 217.8 219.2 217.5 214.7 217.6 210.4 217.9 206.8 218.4 204.2 219.2 202.9 220.1 202.9 221.1 204.4 222 207 222.7 210.7 223.3 215 223.6 219.5 223.5 223.8 223.2 227.4 222.7 230 221.9 231.3 221 231.3 220ZM230 217.1 227.3 216.3 223.6 215.7 219.2 215.5 214.7 215.5 210.3 215.8 206.7 216.4 204.1 217.1 202.7 218.1 202.7 219 204.2 219.9 206.9 220.7 210.6 221.3 215 221.5 219.5 221.5 223.9 221.2 227.5 220.6 230.1 219.9 231.5 218.9 231.5 218ZM229.8 215 227.2 214.3 223.5 213.7 219.2 213.4 214.7 213.5 210.4 213.8 206.8 214.3 204.2 215.1 202.9 216 202.9 217 204.4 217.9 207 218.6 210.7 219.2 215 219.5 219.5 219.4 223.8 219.1 227.4 218.6 230 217.8 231.3 216.9 231.3 215.9ZM229.4 213.1 226.8 212.3 223.2 211.8 219.1 211.6 214.8 211.6 210.7 211.9 207.2 212.4 204.7 213.2 203.4 214 203.4 215 204.8 215.8 207.4 216.6 211 217.1 215.1 217.3 219.4 217.3 223.5 217 227 216.5 229.5 215.7 230.8 214.9 230.8 213.9ZM228.6 211.3 226.2 210.6 222.9 210.1 219 209.8 214.9 209.8 211.1 210.1 207.8 210.6 205.5 211.3 204.3 212.2 204.3 213 205.6 213.8 208 214.5 211.3 215 215.2 215.3 219.3 215.3 223.1 215 226.4 214.5 228.7 213.8 229.9 212.9 229.9 212.1ZM227.5 209.6 225.3 209 222.3 208.6 218.8 208.3 215.1 208.3 211.6 208.6 208.7 209.1 206.5 209.7 205.4 210.4 205.5 211.2 206.7 212 208.9 212.6 211.9 213 215.4 213.3 219.1 213.3 222.6 213 225.5 212.5 227.7 211.9 228.8 211.1 228.7 210.4ZM226.2 208.2 224.3 207.7 221.7 207.3 218.6 207.1 215.4 207.1 212.3 207.3 209.7 207.7 207.9 208.3 206.9 208.9 206.9 209.6 208 210.3 209.9 210.8 212.5 211.2 215.6 211.4 218.8 211.4 221.9 211.2 224.5 210.7 226.3 210.2 227.3 209.5 227.3 208.9ZM224.7 207.1 223.1 206.6 220.9 206.3 218.3 206.1 215.7 206.1 213.1 206.3 211 206.6 209.4 207.1 208.6 207.6 208.7 208.2 209.5 208.7 211.1 209.2 213.3 209.5 215.9 209.7 218.5 209.7 221.1 209.5 223.2 209.2 224.8 208.7 225.6 208.2 225.5 207.6ZM223 206.2 221.7 205.8 220 205.6 218.1 205.4 216 205.4 214 205.6 212.4 205.9 211.2 206.2 210.6 206.6 210.6 207.1 211.2 207.5 212.5 207.8 214.2 208.1 216.1 208.2 218.2 208.2 220.2 208.1 221.8 207.8 223 207.4 223.6 207 223.6 206.6ZM221.1 205.6 220.2 205.4 219.1 205.2 217.8 205.1 216.3 205.1 215 205.2 213.9 205.4 213.1 205.6 212.6 205.9 212.7 206.2 213.1 206.5 214 206.7 215.1 206.9 216.4 207 217.9 207 219.2 206.9 220.3 206.7 221.1 206.5 221.6 206.2 221.5 205.9ZM219.1 205.3 218.7 205.2 218.1 205.1 217.4 205.1 216.7 205.1 216 205.1 215.5 205.2 215.1 205.3 214.8 205.5 214.9 205.6 215.1 205.8 215.5 205.9 216.1 206 216.8 206 217.5 206 218.2 206 218.7 205.9 219.1 205.8 219.4 205.6 219.3 205.5ZM217.1 231.6 219.1 231.2 221.1 230.5 223 229.5 224.7 228.3 226.2 226.7 227.5 225 228.6 223.2 229.4 221.2 229.8 219.1 230 217.1 229.8 215 229.4 213.1 228.6 211.3 227.5 209.6 226.2 208.2 224.7 207.1 223 206.2 221.1 205.6 219.1 205.3 217.1 205.4M217.1 231.6 218.7 231.1 220.2 230.3 221.7 229.2 223.1 227.8 224.3 226.2 225.3 224.4 226.2 222.5 226.8 220.4 227.2 218.4 227.3 216.3 227.2 214.3 226.8 212.3 226.2 210.6 225.3 209 224.3 207.7 223.1 206.6 221.7 205.8 220.2 205.4 218.7 205.2 217.1 205.4M217.1 231.6 218.1 231 219.1 230.1 220 228.9 220.9 227.5 221.7 225.8 222.3 224 222.9 222 223.2 219.9 223.5 217.8 223.6 215.7 223.5 213.7 223.2 211.8 222.9 210.1 222.3 208.6 221.7 207.3 220.9 206.3 220 205.6 219.1 205.2 218.1 205.1 217.1 205.4M217.1 231.6 217.4 231 217.8 230 218.1 228.8 218.3 227.3 218.6 225.6 218.8 223.7 219 221.7 219.1 219.7 219.2 217.5 219.2 215.5 219.2 213.4 219.1 211.6 219 209.8 218.8 208.3 218.6 207.1 218.3 206.1 218.1 205.4 217.8 205.1 217.4 205.1 217.1 205.4M217.1 231.6 216.7 231 216.3 230 216 228.8 215.7 227.3 215.4 225.6 215.1 223.7 214.9 221.7 214.8 219.7 214.7 217.6 214.7 215.5 214.7 213.5 214.8 211.6 214.9 209.8 215.1 208.3 215.4 207.1 215.7 206.1 216 205.4 216.3 205.1 216.7 205.1 217.1 205.4M217.1 231.6 216 231 215 230.1 214 228.9 213.1 227.5 212.3 225.8 211.6 224 211.1 222 210.7 220 210.4 217.9 210.3 215.8 210.4 213.8 210.7 211.9 211.1 210.1 211.6 208.6 212.3 207.3 213.1 206.3 214 205.6 215 205.2 216 205.1 217.1 205.4M217.1 231.6 215.5 231.1 213.9 230.3 212.4 229.2 211 227.8 209.7 226.3 208.7 224.5 207.8 222.5 207.2 220.5 206.8 218.4 206.7 216.4 206.8 214.3 207.2 212.4 207.8 210.6 208.7 209.1 209.7 207.7 211 206.6 212.4 205.9 213.9 205.4 215.5 205.2 217.1 205.4M217.1 231.6 215.1 231.2 213.1 230.5 211.2 229.6 209.4 228.3 207.9 226.8 206.5 225.1 205.5 223.2 204.7 221.3 204.2 219.2 204.1 217.1 204.2 215.1 204.7 213.2 205.5 211.3 206.5 209.7 207.9 208.3 209.4 207.1 211.2 206.2 213.1 205.6 215.1 205.3 217.1 205.4M217.1 231.6 214.8 231.4 212.6 230.8 210.6 230 208.6 228.8 206.9 227.5 205.4 225.9 204.3 224.1 203.4 222.1 202.9 220.1 202.7 218.1 202.9 216 203.4 214 204.3 212.2 205.4 210.4 206.9 208.9 208.6 207.6 210.6 206.6 212.6 205.9 214.8 205.5 217.1 205.4M217.1 231.6 214.9 231.5 212.7 231.1 210.6 230.4 208.7 229.4 206.9 228.1 205.5 226.6 204.3 224.9 203.4 223.1 202.9 221.1 202.7 219 202.9 217 203.4 215 204.3 213 205.5 211.2 206.9 209.6 208.7 208.2 210.6 207.1 212.7 206.2 214.9 205.6 217.1 205.4M217.1 231.6 215.1 231.7 213.1 231.4 211.2 230.8 209.5 229.9 208 228.8 206.7 227.4 205.6 225.7 204.8 223.9 204.4 222 204.2 219.9 204.4 217.9 204.8 215.8 205.6 213.8 206.7 212 208 210.3 209.5 208.7 211.2 207.5 213.1 206.5 215.1 205.8 217.1 205.4M217.1 231.6 215.5 231.8 214 231.6 212.5 231.2 211.1 230.4 209.9 229.3 208.9 228 208 226.4 207.4 224.7 207 222.7 206.9 220.7 207 218.6 207.4 216.6 208 214.5 208.9 212.6 209.9 210.8 211.1 209.2 212.5 207.8 214 206.7 215.5 205.9 217.1 205.4M217.1 231.6 216.1 231.9 215.1 231.8 214.2 231.4 213.3 230.7 212.5 229.7 211.9 228.4 211.3 226.9 211 225.2 210.7 223.3 210.6 221.3 210.7 219.2 211 217.1 211.3 215 211.9 213 212.5 211.2 213.3 209.5 214.2 208.1 215.1 206.9 216.1 206 217.1 205.4M217.1 231.6 216.8 231.9 216.4 231.9 216.1 231.6 215.9 230.9 215.6 229.9 215.4 228.7 215.2 227.2 215.1 225.4 215 223.6 215 221.5 215 219.5 215.1 217.3 215.2 215.3 215.4 213.3 215.6 211.4 215.9 209.7 216.1 208.2 216.4 207 216.8 206 217.1 205.4M217.1 231.6 217.5 231.9 217.9 231.9 218.2 231.6 218.5 230.9 218.8 229.9 219.1 228.7 219.3 227.2 219.4 225.4 219.5 223.5 219.5 221.5 219.5 219.4 219.4 217.3 219.3 215.3 219.1 213.3 218.8 211.4 218.5 209.7 218.2 208.2 217.9 207 217.5 206 217.1 205.4M217.1 231.6 218.2 231.9 219.2 231.8 220.2 231.4 221.1 230.7 221.9 229.7 222.6 228.4 223.1 226.9 223.5 225.1 223.8 223.2 223.9 221.2 223.8 219.1 223.5 217 223.1 215 222.6 213 221.9 211.2 221.1 209.5 220.2 208.1 219.2 206.9 218.2 206 217.1 205.4M217.1 231.6 218.7 231.8 220.3 231.6 221.8 231.1 223.2 230.4 224.5 229.3 225.5 227.9 226.4 226.4 227 224.6 227.4 222.7 227.5 220.6 227.4 218.6 227 216.5 226.4 214.5 225.5 212.5 224.5 210.7 223.2 209.2 221.8 207.8 220.3 206.7 218.7 205.9 217.1 205.4M217.1 231.6 219.1 231.7 221.1 231.4 223 230.8 224.8 229.9 226.3 228.7 227.7 227.3 228.7 225.7 229.5 223.8 230 221.9 230.1 219.9 230 217.8 229.5 215.7 228.7 213.8 227.7 211.9 226.3 210.2 224.8 208.7 223 207.4 221.1 206.5 219.1 205.8 217.1 205.4M217.1 231.6 219.4 231.5 221.6 231.1 223.6 230.4 225.6 229.4 227.3 228.1 228.8 226.6 229.9 224.8 230.8 223 231.3 221 231.5 218.9 231.3 216.9 230.8 214.9 229.9 212.9 228.8 211.1 227.3 209.5 225.6 208.2 223.6 207 221.6 206.2 219.4 205.6 217.1 205.4M217.1 231.6 219.3 231.4 221.5 230.8 223.6 229.9 225.5 228.8 227.3 227.4 228.7 225.8 229.9 224 230.8 222 231.3 220 231.5 218 231.3 215.9 230.8 213.9 229.9 212.1 228.7 210.4 227.3 208.9 225.5 207.6 223.6 206.6 221.5 205.9 219.3 205.5 217.1 205.4" fill="none" stroke-linejoin="round" stroke="#000" stroke-width="0.32" stroke-opacity="0.64"/></g>
<g><polygon points="243.9,170.3 241.6,170.4 239.3,170.8 237.1,171.3 235,172.1 233,173.1 231.1,174.2 229.3,175.6 227.7,177.1 226.3,178.7 225,180.5 224,182.4 223.2,184.4 222.6,186.4 222.3,188.5 222.2,190.6 222.3,192.7 222.7,194.8 223.3,196.9 224.1,198.8 225.1,200.7 226.4,202.5 227.8,204.1 229.5,205.6 231.3,206.9 233.2,208 235.2,209 237.4,209.7 239.6,210.3 241.8,210.6 244.1,210.7 246.4,210.6 248.7,210.2 250.9,209.7 253,208.9 255,207.9 256.9,206.8 258.7,205.4 260.3,203.9 261.7,202.3 263,200.5 264,198.6 264.8,196.6 265.4,194.6 265.7,192.5 265.8,190.4 265.7,188.3 265.3,186.2 264.7,184.1 263.9,182.2 262.9,180.3 261.6,178.5 260.2,176.9 258.5,175.4 256.7,174.1 254.8,173 252.8,172 250.6,171.3 248.4,170.7 246.2,170.4" fill="url(#g9)" fill-opacity="0.5"/><path d="M247 209.6 246.4 209.4 245.5 209.3 244.5 209.2 243.4 209.2 242.4 209.3 241.6 209.4 240.9 209.6 240.6 209.8 240.6 210 241 210.3 241.6 210.4 242.5 210.6 243.5 210.6 244.6 210.6 245.6 210.6 246.4 210.4 247.1 210.2 247.4 210 247.4 209.8ZM250 208.5 248.7 208.2 247 207.9 245 207.8 242.9 207.8 240.9 207.9 239.2 208.2 238 208.6 237.3 209 237.3 209.4 238 209.9 239.3 210.2 241 210.5 243 210.6 245.1 210.6 247.1 210.5 248.8 210.2 250 209.8 250.7 209.4 250.7 208.9ZM252.8 207 250.9 206.5 248.4 206.1 245.4 205.9 242.3 205.9 239.4 206.2 236.9 206.6 235.1 207.1 234.2 207.7 234.2 208.4 235.2 209 237.1 209.5 239.6 209.9 242.6 210.1 245.7 210.1 248.6 209.9 251.1 209.5 252.9 208.9 253.8 208.3 253.8 207.7ZM255.4 205.1 253 204.5 249.7 204 245.9 203.7 241.8 203.7 238 204 234.8 204.5 232.5 205.2 231.3 206 231.3 206.9 232.6 207.7 235 208.4 238.3 208.8 242.1 209.1 246.2 209.1 250 208.8 253.2 208.3 255.5 207.6 256.7 206.8 256.7 205.9ZM257.7 202.9 254.8 202.1 250.9 201.5 246.2 201.2 241.4 201.2 236.8 201.5 233 202.1 230.2 203 228.7 203.9 228.8 205 230.3 205.9 233.2 206.7 237.1 207.3 241.8 207.6 246.6 207.6 251.2 207.3 255 206.7 257.8 205.8 259.3 204.9 259.2 203.8ZM259.7 200.3 256.4 199.4 251.8 198.7 246.6 198.4 241 198.4 235.8 198.8 231.4 199.5 228.2 200.4 226.5 201.5 226.6 202.7 228.3 203.8 231.6 204.7 236.2 205.4 241.4 205.8 247 205.7 252.2 205.4 256.6 204.7 259.8 203.7 261.5 202.6 261.4 201.4ZM261.2 197.5 257.6 196.5 252.6 195.7 246.8 195.3 240.7 195.4 235 195.8 230.1 196.6 226.6 197.6 224.7 198.8 224.8 200.1 226.8 201.3 230.4 202.4 235.4 203.1 241.2 203.5 247.3 203.5 253 203.1 257.9 202.3 261.4 201.2 263.3 200 263.2 198.7ZM262.4 194.5 258.5 193.4 253.2 192.6 247 192.2 240.5 192.2 234.4 192.7 229.1 193.5 225.4 194.6 223.4 196 223.5 197.3 225.6 198.6 229.5 199.7 234.8 200.5 241 200.9 247.5 200.9 253.6 200.5 258.9 199.6 262.6 198.5 264.6 197.2 264.5 195.8ZM263.1 191.4 259.1 190.3 253.6 189.5 247.1 189.1 240.4 189.1 234 189.5 228.6 190.4 224.7 191.6 222.7 192.9 222.7 194.4 224.9 195.7 228.9 196.9 234.4 197.7 240.9 198.1 247.6 198.1 254 197.6 259.4 196.8 263.3 195.6 265.3 194.2 265.3 192.8ZM263.4 188.3 259.3 187.2 253.7 186.4 247.2 185.9 240.3 185.9 233.9 186.4 228.4 187.3 224.4 188.5 222.4 189.8 222.5 191.3 224.7 192.7 228.7 193.8 234.3 194.6 240.8 195.1 247.7 195.1 254.1 194.6 259.6 193.7 263.6 192.5 265.6 191.2 265.5 189.7ZM263.1 185.3 259.1 184.1 253.6 183.3 247.1 182.9 240.4 182.9 234 183.4 228.6 184.2 224.7 185.4 222.7 186.8 222.7 188.2 224.9 189.6 228.9 190.7 234.4 191.5 240.9 191.9 247.6 191.9 254 191.5 259.4 190.6 263.3 189.4 265.3 188.1 265.3 186.6ZM262.4 182.4 258.5 181.3 253.2 180.5 247 180.1 240.5 180.1 234.4 180.5 229.1 181.4 225.4 182.5 223.4 183.8 223.5 185.2 225.6 186.5 229.5 187.6 234.8 188.4 241 188.8 247.5 188.8 253.6 188.3 258.9 187.5 262.6 186.4 264.6 185 264.5 183.7ZM261.2 179.7 257.6 178.6 252.6 177.9 246.8 177.5 240.7 177.5 235 177.9 230.1 178.7 226.6 179.8 224.7 181 224.8 182.3 226.8 183.5 230.4 184.5 235.4 185.3 241.2 185.7 247.3 185.6 253 185.2 257.9 184.4 261.4 183.4 263.3 182.2 263.2 180.9ZM259.7 177.2 256.4 176.3 251.8 175.6 246.6 175.2 241 175.3 235.8 175.6 231.4 176.3 228.2 177.3 226.5 178.4 226.6 179.6 228.3 180.7 231.6 181.6 236.2 182.3 241.4 182.6 247 182.6 252.2 182.2 256.6 181.5 259.8 180.6 261.5 179.5 261.4 178.3ZM257.7 175.1 254.8 174.3 250.9 173.7 246.2 173.4 241.4 173.4 236.8 173.7 233 174.3 230.2 175.2 228.7 176.1 228.8 177.2 230.3 178.1 233.2 178.9 237.1 179.5 241.8 179.8 246.6 179.8 251.2 179.5 255 178.9 257.8 178 259.3 177.1 259.2 176ZM255.4 173.3 253 172.6 249.7 172.2 245.9 171.9 241.8 171.9 238 172.2 234.8 172.7 232.5 173.4 231.3 174.2 231.3 175.1 232.6 175.9 235 176.5 238.3 177 242.1 177.3 246.2 177.3 250 177 253.2 176.5 255.5 175.8 256.7 175 256.7 174.1ZM252.8 172 250.9 171.5 248.4 171.1 245.4 170.9 242.3 170.9 239.4 171.1 236.9 171.5 235.1 172.1 234.2 172.7 234.2 173.3 235.2 174 237.1 174.5 239.6 174.9 242.6 175.1 245.7 175.1 248.6 174.8 251.1 174.4 252.9 173.9 253.8 173.3 253.8 172.6ZM250 171.1 248.7 170.8 247 170.5 245 170.4 242.9 170.4 240.9 170.5 239.2 170.8 238 171.2 237.3 171.6 237.3 172.1 238 172.5 239.3 172.8 241 173.1 243 173.2 245.1 173.2 247.1 173.1 248.8 172.8 250 172.4 250.7 172 250.7 171.6ZM247 170.7 246.4 170.6 245.5 170.4 244.5 170.4 243.4 170.4 242.4 170.4 241.6 170.6 240.9 170.8 240.6 171 240.6 171.2 241 171.4 241.6 171.6 242.5 171.7 243.5 171.8 244.6 171.8 245.6 171.7 246.4 171.6 247.1 171.4 247.4 171.2 247.4 171ZM244 210.2 247 209.6 250 208.5 252.8 207 255.4 205.1 257.7 202.9 259.7 200.3 261.2 197.5 262.4 194.5 263.1 191.4 263.4 188.3 263.1 185.3 262.4 182.4 261.2 179.7 259.7 177.2 257.7 175.1 255.4 173.3 252.8 172 250 171.1 247 170.7 244 170.8M244 210.2 246.4 209.4 248.7 208.2 250.9 206.5 253 204.5 254.8 202.1 256.4 199.4 257.6 196.5 258.5 193.4 259.1 190.3 259.3 187.2 259.1 184.1 258.5 181.3 257.6 178.6 256.4 176.3 254.8 174.3 253 172.6 250.9 171.5 248.7 170.8 246.4 170.6 244 170.8M244 210.2 245.5 209.3 247 207.9 248.4 206.1 249.7 204 250.9 201.5 251.8 198.7 252.6 195.7 253.2 192.6 253.6 189.5 253.7 186.4 253.6 183.3 253.2 180.5 252.6 177.9 251.8 175.6 250.9 173.7 249.7 172.2 248.4 171.1 247 170.5 245.5 170.4 244 170.8M244 210.2 244.5 209.2 245 207.8 245.4 205.9 245.9 203.7 246.2 201.2 246.6 198.4 246.8 195.3 247 192.2 247.1 189.1 247.2 185.9 247.1 182.9 247 180.1 246.8 177.5 246.6 175.2 246.2 173.4 245.9 171.9 245.4 170.9 245 170.4 244.5 170.4 244 170.8M244 210.2 243.4 209.2 242.9 207.8 242.3 205.9 241.8 203.7 241.4 201.2 241 198.4 240.7 195.4 240.5 192.2 240.4 189.1 240.3 185.9 240.4 182.9 240.5 180.1 240.7 177.5 241 175.3 241.4 173.4 241.8 171.9 242.3 170.9 242.9 170.4 243.4 170.4 244 170.8M244 210.2 242.4 209.3 240.9 207.9 239.4 206.2 238 204 236.8 201.5 235.8 198.8 235 195.8 234.4 192.7 234 189.5 233.9 186.4 234 183.4 234.4 180.5 235 177.9 235.8 175.6 236.8 173.7 238 172.2 239.4 171.1 240.9 170.5 242.4 170.4 244 170.8M244 210.2 241.6 209.4 239.2 208.2 236.9 206.6 234.8 204.5 233 202.1 231.4 199.5 230.1 196.6 229.1 193.5 228.6 190.4 228.4 187.3 228.6 184.2 229.1 181.4 230.1 178.7 231.4 176.3 233 174.3 234.8 172.7 236.9 171.5 239.2 170.8 241.6 170.6 244 170.8M244 210.2 240.9 209.6 238 208.6 235.1 207.1 232.5 205.2 230.2 203 228.2 200.4 226.6 197.6 225.4 194.6 224.7 191.6 224.4 188.5 224.7 185.4 225.4 182.5 226.6 179.8 228.2 177.3 230.2 175.2 232.5 173.4 235.1 172.1 238 171.2 240.9 170.8 244 170.8M244 210.2 240.6 209.8 237.3 209 234.2 207.7 231.3 206 228.7 203.9 226.5 201.5 224.7 198.8 223.4 196 222.7 192.9 222.4 189.8 222.7 186.8 223.4 183.8 224.7 181 226.5 178.4 228.7 176.1 231.3 174.2 234.2 172.7 237.3 171.6 240.6 171 244 170.8M244 210.2 240.6 210 237.3 209.4 234.2 208.4 231.3 206.9 228.8 205 226.6 202.7 224.8 200.1 223.5 197.3 222.7 194.4 222.5 191.3 222.7 188.2 223.5 185.2 224.8 182.3 226.6 179.6 228.8 177.2 231.3 175.1 234.2 173.3 237.3 172.1 240.6 171.2 244 170.8M244 210.2 241 210.3 238 209.9 235.2 209 232.6 207.7 230.3 205.9 228.3 203.8 226.8 201.3 225.6 198.6 224.9 195.7 224.7 192.7 224.9 189.6 225.6 186.5 226.8 183.5 228.3 180.7 230.3 178.1 232.6 175.9 235.2 174 238 172.5 241 171.4 244 170.8M244 210.2 241.6 210.4 239.3 210.2 237.1 209.5 235 208.4 233.2 206.7 231.6 204.7 230.4 202.4 229.5 199.7 228.9 196.9 228.7 193.8 228.9 190.7 229.5 187.6 230.4 184.5 231.6 181.6 233.2 178.9 235 176.5 237.1 174.5 239.3 172.8 241.6 171.6 244 170.8M244 210.2 242.5 210.6 241 210.5 239.6 209.9 238.3 208.8 237.1 207.3 236.2 205.4 235.4 203.1 234.8 200.5 234.4 197.7 234.3 194.6 234.4 191.5 234.8 188.4 235.4 185.3 236.2 182.3 237.1 179.5 238.3 177 239.6 174.9 241 173.1 242.5 171.7 244 170.8M244 210.2 243.5 210.6 243 210.6 242.6 210.1 242.1 209.1 241.8 207.6 241.4 205.8 241.2 203.5 241 200.9 240.9 198.1 240.8 195.1 240.9 191.9 241 188.8 241.2 185.7 241.4 182.6 241.8 179.8 242.1 177.3 242.6 175.1 243 173.2 243.5 171.8 244 170.8M244 210.2 244.6 210.6 245.1 210.6 245.7 210.1 246.2 209.1 246.6 207.6 247 205.7 247.3 203.5 247.5 200.9 247.6 198.1 247.7 195.1 247.6 191.9 247.5 188.8 247.3 185.6 247 182.6 246.6 179.8 246.2 177.3 245.7 175.1 245.1 173.2 244.6 171.8 244 170.8M244 210.2 245.6 210.6 247.1 210.5 248.6 209.9 250 208.8 251.2 207.3 252.2 205.4 253 203.1 253.6 200.5 254 197.6 254.1 194.6 254 191.5 253.6 188.3 253 185.2 252.2 182.2 251.2 179.5 250 177 248.6 174.8 247.1 173.1 245.6 171.7 244 170.8M244 210.2 246.4 210.4 248.8 210.2 251.1 209.5 253.2 208.3 255 206.7 256.6 204.7 257.9 202.3 258.9 199.6 259.4 196.8 259.6 193.7 259.4 190.6 258.9 187.5 257.9 184.4 256.6 181.5 255 178.9 253.2 176.5 251.1 174.4 248.8 172.8 246.4 171.6 244 170.8M244 210.2 247.1 210.2 250 209.8 252.9 208.9 255.5 207.6 257.8 205.8 259.8 203.7 261.4 201.2 262.6 198.5 263.3 195.6 263.6 192.5 263.3 189.4 262.6 186.4 261.4 183.4 259.8 180.6 257.8 178 255.5 175.8 252.9 173.9 250 172.4 247.1 171.4 244 170.8M244 210.2 247.4 210 250.7 209.4 253.8 208.3 256.7 206.8 259.3 204.9 261.5 202.6 263.3 200 264.6 197.2 265.3 194.2 265.6 191.2 265.3 188.1 264.6 185 263.3 182.2 261.5 179.5 259.3 177.1 256.7 175 253.8 173.3 250.7 172 247.4 171.2 244 170.8M244 210.2 247.4 209.8 250.7 208.9 253.8 207.7 256.7 205.9 259.2 203.8 261.4 201.4 263.2 198.7 264.5 195.8 265.3 192.8 265.5 189.7 265.3 186.6 264.5 183.7 263.2 180.9 261.4 178.3 259.2 176 256.7 174.1 253.8 172.6 250.7 171.6 247.4 171 244 170.8" fill="none" stroke-linejoin="round" stroke="#000" stroke-width="0.32" stroke-opacity="0.64"/></g>
<polyline points="296,197.3 300,195.2 306.6,189.9 334,186.6 345.3,179.5 338,176.2 325.8,171.6" fill="none" stroke="#ff00ff" stroke-width="1.9" stroke-opacity="1" stroke-linejoin="round"/>
<polyline points="296,201.5 300,199.5 316.6,191.5 330,185 334,179 326.6,173.3 325.2,171.9" fill="none" stroke="#00ffff" stroke-width="1.5" stroke-opacity="1" stroke-linejoin="round"/>
<g><polygon points="340,277.1 340.1,277.4 340.2,277.6 340.4,277.9 340.7,278.1 341.2,278.4 341.7,278.6 342.3,278.9 343.1,279.1 343.9,279.3 344.8,279.5 345.8,279.7 346.8,279.8 347.9,279.9 349.1,280.1 350.3,280.1 351.5,280.2 352.7,280.3 354,280.3 355.3,280.3 356.5,280.3 357.8,280.2 359,280.1 360.2,280 361.4,279.9 362.5,279.8 363.5,279.6 364.5,279.5 365.4,279.3 366.2,279.1 366.9,278.8 367.5,278.6 368.1,278.4 368.5,278.1 368.8,277.8 369,277.6 369.2,277.3 369.2,127.1 369.1,126.8 369,126.6 368.8,126.3 368.5,126.1 368,125.8 367.5,125.6 366.9,125.3 366.1,125.1 365.3,124.9 364.4,124.7 363.4,124.5 362.4,124.4 361.3,124.3 360.1,124.1 358.9,124.1 357.7,124 356.5,123.9 355.2,123.9 353.9,123.9 352.7,123.9 351.4,124 350.2,124.1 349,124.2 347.8,124.3 346.7,124.4 345.7,124.6 344.7,124.7 343.8,124.9 343,125.1 342.3,125.4 341.7,125.6 341.1,125.8 340.7,126.1 340.4,126.4 340.2,126.6 340,126.9" fill="url(#g10)" fill-opacity="0.56"/><polygon points="340,277.1 340.1,277.4 340.2,277.6 340.4,277.9 340.7,278.1 341.2,278.4 341.7,278.6 342.3,278.9 343.1,279.1 343.9,279.3 344.8,279.5 345.8,279.7 346.8,279.8 347.9,279.9 349.1,280.1 350.3,280.1 351.5,280.2 352.7,280.3 354,280.3 355.3,280.3 356.5,280.3 357.8,280.2 359,280.1 360.2,280 361.4,279.9 362.5,279.8 363.5,279.6 364.5,279.5 365.4,279.3 366.2,279.1 366.9,278.8 367.5,278.6 368.1,278.4 368.5,278.1 368.8,277.8 369,277.6 369.2,277.3 369.2,127.1 369.1,126.8 369,126.6 368.8,126.3 368.5,126.1 368,125.8 367.5,125.6 366.9,125.3 366.1,125.1 365.3,124.9 364.4,124.7 363.4,124.5 362.4,124.4 361.3,124.3 360.1,124.1 358.9,124.1 357.7,124 356.5,123.9 355.2,123.9 353.9,123.9 352.7,123.9 351.4,124 350.2,124.1 349,124.2 347.8,124.3 346.7,124.4 345.7,124.6 344.7,124.7 343.8,124.9 343,125.1 342.3,125.4 341.7,125.6 341.1,125.8 340.7,126.1 340.4,126.4 340.2,126.6 340,126.9" fill="url(#g10)" fill-opacity="0.56"/><polygon points="367.5,275.8 366.9,275.5 366.1,275.3 365.3,275.1 364.4,274.9 363.4,274.7 362.4,274.6 361.3,274.5 360.1,274.3 358.9,274.3 357.7,274.2 356.5,274.1 355.2,274.1 353.9,274.1 352.7,274.1 351.4,274.2 350.2,274.3 349,274.4 347.8,274.5 346.7,274.6 345.7,274.8 344.7,274.9 343.8,275.1 343,275.3 342.3,275.6 341.7,275.8 341.1,276 340.7,276.3 340.4,276.6 340.2,276.8 340,277.1 340.1,277.4 340.2,277.6 340.4,277.9 340.7,278.1 341.2,278.4 341.7,278.6 342.3,278.9 343.1,279.1 343.9,279.3 344.8,279.5 345.8,279.7 346.8,279.8 347.9,279.9 349.1,280.1 350.3,280.1 351.5,280.2 352.7,280.3 354,280.3 355.3,280.3 356.5,280.3 357.8,280.2 359,280.1 360.2,280 361.4,279.9 362.5,279.8 363.5,279.6 364.5,279.5 365.4,279.3 366.2,279.1 366.9,278.8 367.5,278.6 368.1,278.4 368.5,278.1 368.8,277.8 369,277.6 369.2,277.3 369.1,277 369,276.8 368.8,276.5 368.5,276.3 368,276" fill="#902090" fill-opacity="0.6"/><polygon points="367.5,125.6 366.9,125.3 366.1,125.1 365.3,124.9 364.4,124.7 363.4,124.5 362.4,124.4 361.3,124.3 360.1,124.1 358.9,124.1 357.7,124 356.5,123.9 355.2,123.9 353.9,123.9 352.7,123.9 351.4,124 350.2,124.1 349,124.2 347.8,124.3 346.7,124.4 345.7,124.6 344.7,124.7 343.8,124.9 343,125.1 342.3,125.4 341.7,125.6 341.1,125.8 340.7,126.1 340.4,126.4 340.2,126.6 340,126.9 340.1,127.2 340.2,127.4 340.4,127.7 340.7,127.9 341.2,128.2 341.7,128.4 342.3,128.7 343.1,128.9 343.9,129.1 344.8,129.3 345.8,129.5 346.8,129.6 347.9,129.7 349.1,129.9 350.3,129.9 351.5,130 352.7,130.1 354,130.1 355.3,130.1 356.5,130.1 357.8,130 359,129.9 360.2,129.8 361.4,129.7 362.5,129.6 363.5,129.4 364.5,129.3 365.4,129.1 366.2,128.9 366.9,128.6 367.5,128.4 368.1,128.2 368.5,127.9 368.8,127.6 369,127.4 369.2,127.1 369.1,126.8 369,126.6 368.8,126.3 368.5,126.1 368,125.8" fill="#f0d474" fill-opacity="0.8"/><path d="M367.5 275.8V125.6M364.8 275V124.8M361.1 274.4V124.2M356.7 274.2V124M352.2 274.2V124M347.8 274.5V124.3M344.2 275.1V124.9M341.6 275.8V125.6M340.2 276.8V126.6M340.2 277.7V127.5M341.7 278.6V128.4M344.4 279.4V129.2M348.1 280V129.8M352.5 280.2V130M357 280.2V130M361.4 279.9V129.7M365 279.3V129.1M367.6 278.6V128.4M369 277.6V127.4M369 276.7V126.5M367.5 275.8 366.9 275.5 366.1 275.3 365.3 275.1 364.4 274.9 363.4 274.7 362.4 274.6 361.3 274.5 360.1 274.3 358.9 274.3 357.7 274.2 356.5 274.1 355.2 274.1 353.9 274.1 352.7 274.1 351.4 274.2 350.2 274.3 349 274.4 347.8 274.5 346.7 274.6 345.7 274.8 344.7 274.9 343.8 275.1 343 275.3 342.3 275.6 341.7 275.8 341.1 276 340.7 276.3 340.4 276.6 340.2 276.8 340 277.1 340.1 277.4 340.2 277.6 340.4 277.9 340.7 278.1 341.2 278.4 341.7 278.6 342.3 278.9 343.1 279.1 343.9 279.3 344.8 279.5 345.8 279.7 346.8 279.8 347.9 279.9 349.1 280.1 350.3 280.1 351.5 280.2 352.7 280.3 354 280.3 355.3 280.3 356.5 280.3 357.8 280.2 359 280.1 360.2 280 361.4 279.9 362.5 279.8 363.5 279.6 364.5 279.5 365.4 279.3 366.2 279.1 366.9 278.8 367.5 278.6 368.1 278.4 368.5 278.1 368.8 277.8 369 277.6 369.2 277.3 369.1 277 369 276.8 368.8 276.5 368.5 276.3 368 276 367.5 275.8ZM367.5 125.6 366.9 125.3 366.1 125.1 365.3 124.9 364.4 124.7 363.4 124.5 362.4 124.4 361.3 124.3 360.1 124.1 358.9 124.1 357.7 124 356.5 123.9 355.2 123.9 353.9 123.9 352.7 123.9 351.4 124 350.2 124.1 349 124.2 347.8 124.3 346.7 124.4 345.7 124.6 344.7 124.7 343.8 124.9 343 125.1 342.3 125.4 341.7 125.6 341.1 125.8 340.7 126.1 340.4 126.4 340.2 126.6 340 126.9 340.1 127.2 340.2 127.4 340.4 127.7 340.7 127.9 341.2 128.2 341.7 128.4 342.3 128.7 343.1 128.9 343.9 129.1 344.8 129.3 345.8 129.5 346.8 129.6 347.9 129.7 349.1 129.9 350.3 129.9 351.5 130 352.7 130.1 354 130.1 355.3 130.1 356.5 130.1 357.8 130 359 129.9 360.2 129.8 361.4 129.7 362.5 129.6 363.5 129.4 364.5 129.3 365.4 129.1 366.2 128.9 366.9 128.6 367.5 128.4 368.1 128.2 368.5 127.9 368.8 127.6 369 127.4 369.2 127.1 369.1 126.8 369 126.6 368.8 126.3 368.5 126.1 368 125.8 367.5 125.6Z" fill="none" stroke="#000" stroke-width="0.38" stroke-opacity="0.42"/></g>
<g><polygon points="320.1,279 320.1,279.4 320.2,279.8 320.6,280.2 321.1,280.6 321.7,281 322.5,281.4 323.5,281.7 324.6,282 325.8,282.3 327.2,282.6 328.6,282.9 330.2,283.1 331.9,283.3 333.6,283.5 335.4,283.6 337.2,283.7 339.1,283.8 341,283.8 342.9,283.8 344.8,283.8 346.7,283.7 348.5,283.6 350.3,283.5 352,283.3 353.7,283.1 355.2,282.8 356.7,282.6 358,282.3 359.3,282 360.4,281.7 361.3,281.3 362.1,280.9 362.8,280.6 363.2,280.2 363.6,279.8 363.7,279.4 363.7,219.7 363.7,219.3 363.6,218.9 363.2,218.5 362.7,218.1 362.1,217.7 361.2,217.3 360.3,217 359.2,216.7 358,216.4 356.6,216.1 355.2,215.8 353.6,215.6 351.9,215.4 350.2,215.2 348.4,215.1 346.6,215 344.7,214.9 342.8,214.9 340.9,214.9 339,214.9 337.1,215 335.3,215.1 333.5,215.2 331.8,215.4 330.1,215.6 328.6,215.9 327.1,216.1 325.8,216.4 324.5,216.7 323.4,217 322.5,217.4 321.7,217.8 321,218.1 320.6,218.5 320.2,218.9 320.1,219.3" fill="url(#g11)" fill-opacity="0.56"/><polygon points="320.1,279 320.1,279.4 320.2,279.8 320.6,280.2 321.1,280.6 321.7,281 322.5,281.4 323.5,281.7 324.6,282 325.8,282.3 327.2,282.6 328.6,282.9 330.2,283.1 331.9,283.3 333.6,283.5 335.4,283.6 337.2,283.7 339.1,283.8 341,283.8 342.9,283.8 344.8,283.8 346.7,283.7 348.5,283.6 350.3,283.5 352,283.3 353.7,283.1 355.2,282.8 356.7,282.6 358,282.3 359.3,282 360.4,281.7 361.3,281.3 362.1,280.9 362.8,280.6 363.2,280.2 363.6,279.8 363.7,279.4 363.7,219.7 363.7,219.3 363.6,218.9 363.2,218.5 362.7,218.1 362.1,217.7 361.2,217.3 360.3,217 359.2,216.7 358,216.4 356.6,216.1 355.2,215.8 353.6,215.6 351.9,215.4 350.2,215.2 348.4,215.1 346.6,215 344.7,214.9 342.8,214.9 340.9,214.9 339,214.9 337.1,215 335.3,215.1 333.5,215.2 331.8,215.4 330.1,215.6 328.6,215.9 327.1,216.1 325.8,216.4 324.5,216.7 323.4,217 322.5,217.4 321.7,217.8 321,218.1 320.6,218.5 320.2,218.9 320.1,219.3" fill="url(#g11)" fill-opacity="0.56"/><polygon points="361.2,277 360.3,276.7 359.2,276.4 358,276.1 356.6,275.8 355.2,275.5 353.6,275.3 351.9,275.1 350.2,274.9 348.4,274.8 346.6,274.7 344.7,274.6 342.8,274.6 340.9,274.6 339,274.6 337.1,274.7 335.3,274.8 333.5,274.9 331.8,275.1 330.1,275.3 328.6,275.6 327.1,275.8 325.8,276.1 324.5,276.4 323.4,276.7 322.5,277.1 321.7,277.5 321,277.8 320.6,278.2 320.2,278.6 320.1,279 320.1,279.4 320.2,279.8 320.6,280.2 321.1,280.6 321.7,281 322.5,281.4 323.5,281.7 324.6,282 325.8,282.3 327.2,282.6 328.6,282.9 330.2,283.1 331.9,283.3 333.6,283.5 335.4,283.6 337.2,283.7 339.1,283.8 341,283.8 342.9,283.8 344.8,283.8 346.7,283.7 348.5,283.6 350.3,283.5 352,283.3 353.7,283.1 355.2,282.8 356.7,282.6 358,282.3 359.3,282 360.4,281.7 361.3,281.3 362.1,280.9 362.8,280.6 363.2,280.2 363.6,279.8 363.7,279.4 363.7,279 363.6,278.6 363.2,278.2 362.7,277.8 362.1,277.4" fill="#2090b0" fill-opacity="0.6"/><polygon points="361.2,217.3 360.3,217 359.2,216.7 358,216.4 356.6,216.1 355.2,215.8 353.6,215.6 351.9,215.4 350.2,215.2 348.4,215.1 346.6,215 344.7,214.9 342.8,214.9 340.9,214.9 339,214.9 337.1,215 335.3,215.1 333.5,215.2 331.8,215.4 330.1,215.6 328.6,215.9 327.1,216.1 325.8,216.4 324.5,216.7 323.4,217 322.5,217.4 321.7,217.8 321,218.1 320.6,218.5 320.2,218.9 320.1,219.3 320.1,219.7 320.2,220.1 320.6,220.5 321.1,220.9 321.7,221.3 322.5,221.7 323.5,222 324.6,222.3 325.8,222.6 327.2,222.9 328.6,223.2 330.2,223.4 331.9,223.6 333.6,223.8 335.4,223.9 337.2,224 339.1,224.1 341,224.1 342.9,224.1 344.8,224.1 346.7,224 348.5,223.9 350.3,223.8 352,223.6 353.7,223.4 355.2,223.1 356.7,222.9 358,222.6 359.3,222.3 360.4,222 361.3,221.6 362.1,221.2 362.8,220.9 363.2,220.5 363.6,220.1 363.7,219.7 363.7,219.3 363.6,218.9 363.2,218.5 362.7,218.1 362.1,217.7" fill="#3c8cb4" fill-opacity="0.75"/><path d="M361.2 277V217.3M357.2 275.9V216.2M351.6 275.1V215.4M345.1 274.6V214.9M338.2 274.6V214.9M331.8 275.1V215.4M326.3 276V216.3M322.3 277.2V217.5M320.3 278.5V218.8M320.4 280V220.3M322.5 281.4V221.7M326.6 282.5V222.8M332.2 283.3V223.6M338.7 283.8V224.1M345.6 283.8V224.1M352 283.3V223.6M357.5 282.4V222.7M361.5 281.2V221.5M363.5 279.9V220.2M363.4 278.4V218.7M361.2 277 360.3 276.7 359.2 276.4 358 276.1 356.6 275.8 355.2 275.5 353.6 275.3 351.9 275.1 350.2 274.9 348.4 274.8 346.6 274.7 344.7 274.6 342.8 274.6 340.9 274.6 339 274.6 337.1 274.7 335.3 274.8 333.5 274.9 331.8 275.1 330.1 275.3 328.6 275.6 327.1 275.8 325.8 276.1 324.5 276.4 323.4 276.7 322.5 277.1 321.7 277.5 321 277.8 320.6 278.2 320.2 278.6 320.1 279 320.1 279.4 320.2 279.8 320.6 280.2 321.1 280.6 321.7 281 322.5 281.4 323.5 281.7 324.6 282 325.8 282.3 327.2 282.6 328.6 282.9 330.2 283.1 331.9 283.3 333.6 283.5 335.4 283.6 337.2 283.7 339.1 283.8 341 283.8 342.9 283.8 344.8 283.8 346.7 283.7 348.5 283.6 350.3 283.5 352 283.3 353.7 283.1 355.2 282.8 356.7 282.6 358 282.3 359.3 282 360.4 281.7 361.3 281.3 362.1 280.9 362.8 280.6 363.2 280.2 363.6 279.8 363.7 279.4 363.7 279 363.6 278.6 363.2 278.2 362.7 277.8 362.1 277.4 361.2 277ZM361.2 217.3 360.3 217 359.2 216.7 358 216.4 356.6 216.1 355.2 215.8 353.6 215.6 351.9 215.4 350.2 215.2 348.4 215.1 346.6 215 344.7 214.9 342.8 214.9 340.9 214.9 339 214.9 337.1 215 335.3 215.1 333.5 215.2 331.8 215.4 330.1 215.6 328.6 215.9 327.1 216.1 325.8 216.4 324.5 216.7 323.4 217 322.5 217.4 321.7 217.8 321 218.1 320.6 218.5 320.2 218.9 320.1 219.3 320.1 219.7 320.2 220.1 320.6 220.5 321.1 220.9 321.7 221.3 322.5 221.7 323.5 222 324.6 222.3 325.8 222.6 327.2 222.9 328.6 223.2 330.2 223.4 331.9 223.6 333.6 223.8 335.4 223.9 337.2 224 339.1 224.1 341 224.1 342.9 224.1 344.8 224.1 346.7 224 348.5 223.9 350.3 223.8 352 223.6 353.7 223.4 355.2 223.1 356.7 222.9 358 222.6 359.3 222.3 360.4 222 361.3 221.6 362.1 221.2 362.8 220.9 363.2 220.5 363.6 220.1 363.7 219.7 363.7 219.3 363.6 218.9 363.2 218.5 362.7 218.1 362.1 217.7 361.2 217.3Z" fill="none" stroke="#000" stroke-width="0.38" stroke-opacity="0.42"/></g>
<g clip-path="url(#cl8)" opacity="0.4"><g><polygon points="340,277.1 340.1,277.4 340.2,277.6 340.4,277.9 340.7,278.1 341.2,278.4 341.7,278.6 342.3,278.9 343.1,279.1 343.9,279.3 344.8,279.5 345.8,279.7 346.8,279.8 347.9,279.9 349.1,280.1 350.3,280.1 351.5,280.2 352.7,280.3 354,280.3 355.3,280.3 356.5,280.3 357.8,280.2 359,280.1 360.2,280 361.4,279.9 362.5,279.8 363.5,279.6 364.5,279.5 365.4,279.3 366.2,279.1 366.9,278.8 367.5,278.6 368.1,278.4 368.5,278.1 368.8,277.8 369,277.6 369.2,277.3 369.2,127.1 369.1,126.8 369,126.6 368.8,126.3 368.5,126.1 368,125.8 367.5,125.6 366.9,125.3 366.1,125.1 365.3,124.9 364.4,124.7 363.4,124.5 362.4,124.4 361.3,124.3 360.1,124.1 358.9,124.1 357.7,124 356.5,123.9 355.2,123.9 353.9,123.9 352.7,123.9 351.4,124 350.2,124.1 349,124.2 347.8,124.3 346.7,124.4 345.7,124.6 344.7,124.7 343.8,124.9 343,125.1 342.3,125.4 341.7,125.6 341.1,125.8 340.7,126.1 340.4,126.4 340.2,126.6 340,126.9" fill="url(#g12)" fill-opacity="0.56"/><polygon points="340,277.1 340.1,277.4 340.2,277.6 340.4,277.9 340.7,278.1 341.2,278.4 341.7,278.6 342.3,278.9 343.1,279.1 343.9,279.3 344.8,279.5 345.8,279.7 346.8,279.8 347.9,279.9 349.1,280.1 350.3,280.1 351.5,280.2 352.7,280.3 354,280.3 355.3,280.3 356.5,280.3 357.8,280.2 359,280.1 360.2,280 361.4,279.9 362.5,279.8 363.5,279.6 364.5,279.5 365.4,279.3 366.2,279.1 366.9,278.8 367.5,278.6 368.1,278.4 368.5,278.1 368.8,277.8 369,277.6 369.2,277.3 369.2,127.1 369.1,126.8 369,126.6 368.8,126.3 368.5,126.1 368,125.8 367.5,125.6 366.9,125.3 366.1,125.1 365.3,124.9 364.4,124.7 363.4,124.5 362.4,124.4 361.3,124.3 360.1,124.1 358.9,124.1 357.7,124 356.5,123.9 355.2,123.9 353.9,123.9 352.7,123.9 351.4,124 350.2,124.1 349,124.2 347.8,124.3 346.7,124.4 345.7,124.6 344.7,124.7 343.8,124.9 343,125.1 342.3,125.4 341.7,125.6 341.1,125.8 340.7,126.1 340.4,126.4 340.2,126.6 340,126.9" fill="url(#g12)" fill-opacity="0.56"/><polygon points="367.5,275.8 366.9,275.5 366.1,275.3 365.3,275.1 364.4,274.9 363.4,274.7 362.4,274.6 361.3,274.5 360.1,274.3 358.9,274.3 357.7,274.2 356.5,274.1 355.2,274.1 353.9,274.1 352.7,274.1 351.4,274.2 350.2,274.3 349,274.4 347.8,274.5 346.7,274.6 345.7,274.8 344.7,274.9 343.8,275.1 343,275.3 342.3,275.6 341.7,275.8 341.1,276 340.7,276.3 340.4,276.6 340.2,276.8 340,277.1 340.1,277.4 340.2,277.6 340.4,277.9 340.7,278.1 341.2,278.4 341.7,278.6 342.3,278.9 343.1,279.1 343.9,279.3 344.8,279.5 345.8,279.7 346.8,279.8 347.9,279.9 349.1,280.1 350.3,280.1 351.5,280.2 352.7,280.3 354,280.3 355.3,280.3 356.5,280.3 357.8,280.2 359,280.1 360.2,280 361.4,279.9 362.5,279.8 363.5,279.6 364.5,279.5 365.4,279.3 366.2,279.1 366.9,278.8 367.5,278.6 368.1,278.4 368.5,278.1 368.8,277.8 369,277.6 369.2,277.3 369.1,277 369,276.8 368.8,276.5 368.5,276.3 368,276" fill="#902090" fill-opacity="0.8"/><polygon points="367.5,125.6 366.9,125.3 366.1,125.1 365.3,124.9 364.4,124.7 363.4,124.5 362.4,124.4 361.3,124.3 360.1,124.1 358.9,124.1 357.7,124 356.5,123.9 355.2,123.9 353.9,123.9 352.7,123.9 351.4,124 350.2,124.1 349,124.2 347.8,124.3 346.7,124.4 345.7,124.6 344.7,124.7 343.8,124.9 343,125.1 342.3,125.4 341.7,125.6 341.1,125.8 340.7,126.1 340.4,126.4 340.2,126.6 340,126.9 340.1,127.2 340.2,127.4 340.4,127.7 340.7,127.9 341.2,128.2 341.7,128.4 342.3,128.7 343.1,128.9 343.9,129.1 344.8,129.3 345.8,129.5 346.8,129.6 347.9,129.7 349.1,129.9 350.3,129.9 351.5,130 352.7,130.1 354,130.1 355.3,130.1 356.5,130.1 357.8,130 359,129.9 360.2,129.8 361.4,129.7 362.5,129.6 363.5,129.4 364.5,129.3 365.4,129.1 366.2,128.9 366.9,128.6 367.5,128.4 368.1,128.2 368.5,127.9 368.8,127.6 369,127.4 369.2,127.1 369.1,126.8 369,126.6 368.8,126.3 368.5,126.1 368,125.8" fill="#f0d474" fill-opacity="0"/><path d="M367.5 275.8V125.6M364.8 275V124.8M361.1 274.4V124.2M356.7 274.2V124M352.2 274.2V124M347.8 274.5V124.3M344.2 275.1V124.9M341.6 275.8V125.6M340.2 276.8V126.6M340.2 277.7V127.5M341.7 278.6V128.4M344.4 279.4V129.2M348.1 280V129.8M352.5 280.2V130M357 280.2V130M361.4 279.9V129.7M365 279.3V129.1M367.6 278.6V128.4M369 277.6V127.4M369 276.7V126.5M367.5 275.8 366.9 275.5 366.1 275.3 365.3 275.1 364.4 274.9 363.4 274.7 362.4 274.6 361.3 274.5 360.1 274.3 358.9 274.3 357.7 274.2 356.5 274.1 355.2 274.1 353.9 274.1 352.7 274.1 351.4 274.2 350.2 274.3 349 274.4 347.8 274.5 346.7 274.6 345.7 274.8 344.7 274.9 343.8 275.1 343 275.3 342.3 275.6 341.7 275.8 341.1 276 340.7 276.3 340.4 276.6 340.2 276.8 340 277.1 340.1 277.4 340.2 277.6 340.4 277.9 340.7 278.1 341.2 278.4 341.7 278.6 342.3 278.9 343.1 279.1 343.9 279.3 344.8 279.5 345.8 279.7 346.8 279.8 347.9 279.9 349.1 280.1 350.3 280.1 351.5 280.2 352.7 280.3 354 280.3 355.3 280.3 356.5 280.3 357.8 280.2 359 280.1 360.2 280 361.4 279.9 362.5 279.8 363.5 279.6 364.5 279.5 365.4 279.3 366.2 279.1 366.9 278.8 367.5 278.6 368.1 278.4 368.5 278.1 368.8 277.8 369 277.6 369.2 277.3 369.1 277 369 276.8 368.8 276.5 368.5 276.3 368 276 367.5 275.8ZM367.5 125.6 366.9 125.3 366.1 125.1 365.3 124.9 364.4 124.7 363.4 124.5 362.4 124.4 361.3 124.3 360.1 124.1 358.9 124.1 357.7 124 356.5 123.9 355.2 123.9 353.9 123.9 352.7 123.9 351.4 124 350.2 124.1 349 124.2 347.8 124.3 346.7 124.4 345.7 124.6 344.7 124.7 343.8 124.9 343 125.1 342.3 125.4 341.7 125.6 341.1 125.8 340.7 126.1 340.4 126.4 340.2 126.6 340 126.9 340.1 127.2 340.2 127.4 340.4 127.7 340.7 127.9 341.2 128.2 341.7 128.4 342.3 128.7 343.1 128.9 343.9 129.1 344.8 129.3 345.8 129.5 346.8 129.6 347.9 129.7 349.1 129.9 350.3 129.9 351.5 130 352.7 130.1 354 130.1 355.3 130.1 356.5 130.1 357.8 130 359 129.9 360.2 129.8 361.4 129.7 362.5 129.6 363.5 129.4 364.5 129.3 365.4 129.1 366.2 128.9 366.9 128.6 367.5 128.4 368.1 128.2 368.5 127.9 368.8 127.6 369 127.4 369.2 127.1 369.1 126.8 369 126.6 368.8 126.3 368.5 126.1 368 125.8 367.5 125.6Z" fill="none" stroke="#000" stroke-width="0.38" stroke-opacity="0.42"/></g></g>
<polygon points="323.2,284.2 321.7,283.7 319.9,283.3 317.8,282.8 315.5,282.5 313,282.2 310.3,282 307.5,281.8 304.7,281.8 301.8,281.8 299,281.9 296.3,282.1 293.7,282.3 291.2,282.6 289,283 287,283.5 285.3,283.9 284,284.5 282.9,285 282.3,285.6 282,286.2 282,286.8 282.5,287.4 283.3,288 284.5,288.6 285.9,289.1 287.7,289.5 289.8,290 292.1,290.3 294.6,290.6 297.3,290.8 300.1,291 302.9,291 305.8,291 308.6,290.9 311.3,290.7 313.9,290.5 316.4,290.2 318.6,289.8 320.6,289.3 322.3,288.9 323.6,288.3 324.7,287.8 325.3,287.2 325.6,286.6 325.6,286 325.1,285.4 324.3,284.8" fill="none" stroke="#5070f0" stroke-width="1.2" stroke-opacity="1"/><polygon points="321.2,284.5 319.9,284 318.3,283.6 316.4,283.2 314.3,282.9 312.1,282.6 309.7,282.4 307.2,282.3 304.6,282.2 302,282.3 299.5,282.3 297,282.5 294.7,282.7 292.5,283 290.5,283.4 288.7,283.7 287.2,284.2 286,284.7 285,285.2 284.4,285.7 284.2,286.2 284.2,286.8 284.6,287.3 285.3,287.8 286.4,288.3 287.7,288.8 289.3,289.2 291.2,289.6 293.3,289.9 295.5,290.2 297.9,290.4 300.4,290.5 303,290.6 305.6,290.5 308.1,290.5 310.6,290.3 312.9,290.1 315.1,289.8 317.1,289.4 318.9,289.1 320.4,288.6 321.6,288.1 322.6,287.6 323.2,287.1 323.4,286.6 323.4,286 323,285.5 322.3,285" fill="none" stroke="#80a0f8" stroke-width="0.5" stroke-opacity="0.45"/><polygon points="318.3,284.8 317.2,284.4 315.9,284 314.3,283.7 312.6,283.5 310.7,283.3 308.7,283.1 306.6,283 304.5,282.9 302.3,283 300.2,283 298.2,283.2 296.2,283.3 294.4,283.6 292.7,283.9 291.2,284.2 290,284.6 288.9,285 288.2,285.4 287.7,285.8 287.4,286.3 287.5,286.7 287.8,287.2 288.4,287.6 289.3,288 290.4,288.4 291.7,288.8 293.3,289.1 295,289.3 296.9,289.5 298.9,289.7 301,289.8 303.1,289.9 305.3,289.8 307.4,289.8 309.4,289.6 311.4,289.5 313.2,289.2 314.9,288.9 316.4,288.6 317.6,288.2 318.7,287.8 319.4,287.4 319.9,287 320.2,286.5 320.1,286.1 319.8,285.6 319.2,285.2" fill="none" stroke="#80a0f8" stroke-width="0.85" stroke-opacity="0.9"/>
<polygon points="324,291.1 322.5,290.6 320.7,290.2 318.6,289.7 316.3,289.4 313.8,289.1 311.1,288.9 308.3,288.7 305.5,288.7 302.6,288.7 299.8,288.8 297.1,289 294.5,289.2 292,289.5 289.8,289.9 287.8,290.4 286.1,290.8 284.8,291.4 283.7,291.9 283.1,292.5 282.8,293.1 282.8,293.7 283.3,294.3 284.1,294.9 285.2,295.5 286.7,296 288.5,296.4 290.6,296.9 292.9,297.2 295.4,297.5 298.1,297.7 300.9,297.9 303.7,297.9 306.6,297.9 309.4,297.8 312.1,297.6 314.7,297.4 317.2,297.1 319.4,296.7 321.4,296.2 323.1,295.8 324.4,295.2 325.5,294.7 326.1,294.1 326.4,293.5 326.4,292.9 325.9,292.3 325.1,291.7" fill="none" stroke="#a8d468" stroke-width="1.2" stroke-opacity="1"/><polygon points="322,291.4 320.7,290.9 319.1,290.5 317.2,290.1 315.1,289.8 312.9,289.5 310.5,289.3 308,289.2 305.4,289.1 302.8,289.2 300.3,289.2 297.8,289.4 295.5,289.6 293.3,289.9 291.3,290.3 289.5,290.6 288,291.1 286.8,291.6 285.8,292.1 285.2,292.6 285,293.1 285,293.7 285.4,294.2 286.1,294.7 287.2,295.2 288.5,295.7 290.1,296.1 292,296.5 294.1,296.8 296.3,297.1 298.7,297.3 301.2,297.4 303.8,297.5 306.4,297.4 308.9,297.4 311.4,297.2 313.7,297 315.9,296.7 317.9,296.3 319.7,296 321.2,295.5 322.4,295 323.4,294.5 324,294 324.2,293.5 324.2,292.9 323.8,292.4 323.1,291.9" fill="none" stroke="#70d8c0" stroke-width="0.5" stroke-opacity="0.45"/><polygon points="319.1,291.7 318,291.3 316.7,290.9 315.1,290.6 313.4,290.4 311.5,290.2 309.5,290 307.4,289.9 305.3,289.8 303.1,289.9 301,289.9 299,290.1 297,290.2 295.2,290.5 293.5,290.8 292,291.1 290.8,291.5 289.7,291.9 289,292.3 288.5,292.7 288.2,293.2 288.3,293.6 288.6,294.1 289.2,294.5 290.1,294.9 291.2,295.3 292.5,295.7 294.1,296 295.8,296.2 297.7,296.4 299.7,296.6 301.8,296.7 303.9,296.8 306.1,296.7 308.2,296.7 310.2,296.5 312.2,296.4 314,296.1 315.7,295.8 317.2,295.5 318.4,295.1 319.5,294.7 320.2,294.3 320.7,293.9 321,293.4 320.9,293 320.6,292.5 320,292.1" fill="none" stroke="#70d8c0" stroke-width="0.85" stroke-opacity="0.9"/>
<g><polygon points="303.7,233.2 301.4,233.3 299.1,233.7 296.9,234.2 294.8,235 292.8,236 290.9,237.1 289.1,238.5 287.5,240 286.1,241.6 284.8,243.4 283.8,245.3 283,247.3 282.4,249.3 282.1,251.4 282,253.5 282.1,255.6 282.5,257.7 283.1,259.8 283.9,261.7 284.9,263.6 286.2,265.4 287.6,267 289.3,268.5 291.1,269.8 293,270.9 295,271.9 297.2,272.6 299.4,273.2 301.6,273.5 303.9,273.6 306.2,273.5 308.5,273.1 310.7,272.6 312.8,271.8 314.8,270.8 316.7,269.7 318.5,268.3 320.1,266.8 321.5,265.2 322.8,263.4 323.8,261.5 324.6,259.5 325.2,257.5 325.5,255.4 325.6,253.3 325.5,251.2 325.1,249.1 324.5,247 323.7,245.1 322.7,243.2 321.4,241.4 320,239.8 318.3,238.3 316.5,237 314.6,235.9 312.6,234.9 310.4,234.2 308.2,233.6 306,233.3" fill="url(#g13)" fill-opacity="0.5"/><path d="M306.8 272.5 306.2 272.3 305.3 272.2 304.3 272.1 303.2 272.1 302.2 272.2 301.4 272.3 300.7 272.5 300.4 272.7 300.4 272.9 300.8 273.2 301.4 273.3 302.3 273.5 303.3 273.5 304.4 273.5 305.4 273.5 306.2 273.3 306.9 273.1 307.2 272.9 307.2 272.7ZM309.8 271.4 308.5 271.1 306.8 270.8 304.8 270.7 302.7 270.7 300.7 270.8 299 271.1 297.8 271.5 297.1 271.9 297.1 272.3 297.8 272.8 299.1 273.1 300.8 273.4 302.8 273.5 304.9 273.5 306.9 273.4 308.6 273.1 309.8 272.7 310.5 272.3 310.5 271.8ZM312.6 269.9 310.7 269.4 308.2 269 305.2 268.8 302.1 268.8 299.2 269.1 296.7 269.5 294.9 270 294 270.6 294 271.3 295 271.9 296.9 272.4 299.4 272.8 302.4 273 305.5 273 308.4 272.8 310.9 272.4 312.7 271.8 313.6 271.2 313.6 270.6ZM315.2 268 312.8 267.4 309.5 266.9 305.7 266.6 301.6 266.6 297.8 266.9 294.6 267.4 292.3 268.1 291.1 268.9 291.1 269.8 292.4 270.6 294.8 271.3 298.1 271.7 301.9 272 306 272 309.8 271.7 313 271.2 315.3 270.5 316.5 269.7 316.5 268.8ZM317.5 265.8 314.6 265 310.7 264.4 306 264.1 301.2 264.1 296.6 264.4 292.8 265 290 265.9 288.5 266.8 288.6 267.9 290.1 268.8 293 269.6 296.9 270.2 301.6 270.5 306.4 270.5 311 270.2 314.8 269.6 317.6 268.7 319.1 267.8 319 266.7ZM319.5 263.2 316.2 262.3 311.6 261.6 306.4 261.3 300.8 261.3 295.6 261.7 291.2 262.4 288 263.3 286.3 264.4 286.4 265.6 288.1 266.7 291.4 267.6 296 268.3 301.2 268.7 306.8 268.6 312 268.3 316.4 267.6 319.6 266.6 321.3 265.5 321.2 264.3ZM321 260.4 317.4 259.4 312.4 258.6 306.6 258.2 300.5 258.3 294.8 258.7 289.9 259.5 286.4 260.5 284.5 261.7 284.6 263 286.6 264.2 290.2 265.3 295.2 266 301 266.4 307.1 266.4 312.8 266 317.7 265.2 321.2 264.1 323.1 262.9 323 261.6ZM322.2 257.4 318.3 256.3 313 255.5 306.8 255.1 300.3 255.1 294.2 255.6 288.9 256.4 285.2 257.5 283.2 258.9 283.3 260.2 285.4 261.5 289.3 262.6 294.6 263.4 300.8 263.8 307.3 263.8 313.4 263.4 318.7 262.5 322.4 261.4 324.4 260.1 324.3 258.7ZM322.9 254.3 318.9 253.2 313.4 252.4 306.9 252 300.2 252 293.8 252.4 288.4 253.3 284.5 254.5 282.5 255.8 282.5 257.3 284.7 258.6 288.7 259.8 294.2 260.6 300.7 261 307.4 261 313.8 260.5 319.2 259.7 323.1 258.5 325.1 257.1 325.1 255.7ZM323.2 251.2 319.1 250.1 313.5 249.3 307 248.8 300.1 248.8 293.7 249.3 288.2 250.2 284.2 251.4 282.2 252.7 282.3 254.2 284.5 255.6 288.5 256.7 294.1 257.5 300.6 258 307.5 258 313.9 257.5 319.4 256.6 323.4 255.4 325.4 254.1 325.3 252.6ZM322.9 248.2 318.9 247 313.4 246.2 306.9 245.8 300.2 245.8 293.8 246.3 288.4 247.1 284.5 248.3 282.5 249.7 282.5 251.1 284.7 252.5 288.7 253.6 294.2 254.4 300.7 254.8 307.4 254.8 313.8 254.4 319.2 253.5 323.1 252.3 325.1 251 325.1 249.5ZM322.2 245.3 318.3 244.2 313 243.4 306.8 243 300.3 243 294.2 243.4 288.9 244.3 285.2 245.4 283.2 246.7 283.3 248.1 285.4 249.4 289.3 250.5 294.6 251.3 300.8 251.7 307.3 251.7 313.4 251.2 318.7 250.4 322.4 249.3 324.4 247.9 324.3 246.6ZM321 242.6 317.4 241.5 312.4 240.8 306.6 240.4 300.5 240.4 294.8 240.8 289.9 241.6 286.4 242.7 284.5 243.9 284.6 245.2 286.6 246.4 290.2 247.4 295.2 248.2 301 248.6 307.1 248.5 312.8 248.1 317.7 247.3 321.2 246.3 323.1 245.1 323 243.8ZM319.5 240.1 316.2 239.2 311.6 238.5 306.4 238.1 300.8 238.2 295.6 238.5 291.2 239.2 288 240.2 286.3 241.3 286.4 242.5 288.1 243.6 291.4 244.5 296 245.2 301.2 245.5 306.8 245.5 312 245.1 316.4 244.4 319.6 243.5 321.3 242.4 321.2 241.2ZM317.5 238 314.6 237.2 310.7 236.6 306 236.3 301.2 236.3 296.6 236.6 292.8 237.2 290 238.1 288.5 239 288.6 240.1 290.1 241 293 241.8 296.9 242.4 301.6 242.7 306.4 242.7 311 242.4 314.8 241.8 317.6 240.9 319.1 240 319 238.9ZM315.2 236.2 312.8 235.5 309.5 235.1 305.7 234.8 301.6 234.8 297.8 235.1 294.6 235.6 292.3 236.3 291.1 237.1 291.1 238 292.4 238.8 294.8 239.4 298.1 239.9 301.9 240.2 306 240.2 309.8 239.9 313 239.4 315.3 238.7 316.5 237.9 316.5 237ZM312.6 234.9 310.7 234.4 308.2 234 305.2 233.8 302.1 233.8 299.2 234 296.7 234.4 294.9 235 294 235.6 294 236.2 295 236.9 296.9 237.4 299.4 237.8 302.4 238 305.5 238 308.4 237.7 310.9 237.3 312.7 236.8 313.6 236.2 313.6 235.5ZM309.8 234 308.5 233.7 306.8 233.4 304.8 233.3 302.7 233.3 300.7 233.4 299 233.7 297.8 234.1 297.1 234.5 297.1 235 297.8 235.4 299.1 235.7 300.8 236 302.8 236.1 304.9 236.1 306.9 236 308.6 235.7 309.8 235.3 310.5 234.9 310.5 234.5ZM306.8 233.6 306.2 233.5 305.3 233.3 304.3 233.3 303.2 233.3 302.2 233.3 301.4 233.5 300.7 233.7 300.4 233.9 300.4 234.1 300.8 234.3 301.4 234.5 302.3 234.6 303.3 234.7 304.4 234.7 305.4 234.6 306.2 234.5 306.9 234.3 307.2 234.1 307.2 233.9ZM303.8 273.1 306.8 272.5 309.8 271.4 312.6 269.9 315.2 268 317.5 265.8 319.5 263.2 321 260.4 322.2 257.4 322.9 254.3 323.2 251.2 322.9 248.2 322.2 245.3 321 242.6 319.5 240.1 317.5 238 315.2 236.2 312.6 234.9 309.8 234 306.8 233.6 303.8 233.7M303.8 273.1 306.2 272.3 308.5 271.1 310.7 269.4 312.8 267.4 314.6 265 316.2 262.3 317.4 259.4 318.3 256.3 318.9 253.2 319.1 250.1 318.9 247 318.3 244.2 317.4 241.5 316.2 239.2 314.6 237.2 312.8 235.5 310.7 234.4 308.5 233.7 306.2 233.5 303.8 233.7M303.8 273.1 305.3 272.2 306.8 270.8 308.2 269 309.5 266.9 310.7 264.4 311.6 261.6 312.4 258.6 313 255.5 313.4 252.4 313.5 249.3 313.4 246.2 313 243.4 312.4 240.8 311.6 238.5 310.7 236.6 309.5 235.1 308.2 234 306.8 233.4 305.3 233.3 303.8 233.7M303.8 273.1 304.3 272.1 304.8 270.7 305.2 268.8 305.7 266.6 306 264.1 306.4 261.3 306.6 258.2 306.8 255.1 306.9 252 307 248.8 306.9 245.8 306.8 243 306.6 240.4 306.4 238.1 306 236.3 305.7 234.8 305.2 233.8 304.8 233.3 304.3 233.3 303.8 233.7M303.8 273.1 303.2 272.1 302.7 270.7 302.1 268.8 301.6 266.6 301.2 264.1 300.8 261.3 300.5 258.3 300.3 255.1 300.2 252 300.1 248.8 300.2 245.8 300.3 243 300.5 240.4 300.8 238.2 301.2 236.3 301.6 234.8 302.1 233.8 302.7 233.3 303.2 233.3 303.8 233.7M303.8 273.1 302.2 272.2 300.7 270.8 299.2 269.1 297.8 266.9 296.6 264.4 295.6 261.7 294.8 258.7 294.2 255.6 293.8 252.4 293.7 249.3 293.8 246.3 294.2 243.4 294.8 240.8 295.6 238.5 296.6 236.6 297.8 235.1 299.2 234 300.7 233.4 302.2 233.3 303.8 233.7M303.8 273.1 301.4 272.3 299 271.1 296.7 269.5 294.6 267.4 292.8 265 291.2 262.4 289.9 259.5 288.9 256.4 288.4 253.3 288.2 250.2 288.4 247.1 288.9 244.3 289.9 241.6 291.2 239.2 292.8 237.2 294.6 235.6 296.7 234.4 299 233.7 301.4 233.5 303.8 233.7M303.8 273.1 300.7 272.5 297.8 271.5 294.9 270 292.3 268.1 290 265.9 288 263.3 286.4 260.5 285.2 257.5 284.5 254.5 284.2 251.4 284.5 248.3 285.2 245.4 286.4 242.7 288 240.2 290 238.1 292.3 236.3 294.9 235 297.8 234.1 300.7 233.7 303.8 233.7M303.8 273.1 300.4 272.7 297.1 271.9 294 270.6 291.1 268.9 288.5 266.8 286.3 264.4 284.5 261.7 283.2 258.9 282.5 255.8 282.2 252.7 282.5 249.7 283.2 246.7 284.5 243.9 286.3 241.3 288.5 239 291.1 237.1 294 235.6 297.1 234.5 300.4 233.9 303.8 233.7M303.8 273.1 300.4 272.9 297.1 272.3 294 271.3 291.1 269.8 288.6 267.9 286.4 265.6 284.6 263 283.3 260.2 282.5 257.3 282.3 254.2 282.5 251.1 283.3 248.1 284.6 245.2 286.4 242.5 288.6 240.1 291.1 238 294 236.2 297.1 235 300.4 234.1 303.8 233.7M303.8 273.1 300.8 273.2 297.8 272.8 295 271.9 292.4 270.6 290.1 268.8 288.1 266.7 286.6 264.2 285.4 261.5 284.7 258.6 284.5 255.6 284.7 252.5 285.4 249.4 286.6 246.4 288.1 243.6 290.1 241 292.4 238.8 295 236.9 297.8 235.4 300.8 234.3 303.8 233.7M303.8 273.1 301.4 273.3 299.1 273.1 296.9 272.4 294.8 271.3 293 269.6 291.4 267.6 290.2 265.3 289.3 262.6 288.7 259.8 288.5 256.7 288.7 253.6 289.3 250.5 290.2 247.4 291.4 244.5 293 241.8 294.8 239.4 296.9 237.4 299.1 235.7 301.4 234.5 303.8 233.7M303.8 273.1 302.3 273.5 300.8 273.4 299.4 272.8 298.1 271.7 296.9 270.2 296 268.3 295.2 266 294.6 263.4 294.2 260.6 294.1 257.5 294.2 254.4 294.6 251.3 295.2 248.2 296 245.2 296.9 242.4 298.1 239.9 299.4 237.8 300.8 236 302.3 234.6 303.8 233.7M303.8 273.1 303.3 273.5 302.8 273.5 302.4 273 301.9 272 301.6 270.5 301.2 268.7 301 266.4 300.8 263.8 300.7 261 300.6 258 300.7 254.8 300.8 251.7 301 248.6 301.2 245.5 301.6 242.7 301.9 240.2 302.4 238 302.8 236.1 303.3 234.7 303.8 233.7M303.8 273.1 304.4 273.5 304.9 273.5 305.5 273 306 272 306.4 270.5 306.8 268.6 307.1 266.4 307.3 263.8 307.4 261 307.5 258 307.4 254.8 307.3 251.7 307.1 248.5 306.8 245.5 306.4 242.7 306 240.2 305.5 238 304.9 236.1 304.4 234.7 303.8 233.7M303.8 273.1 305.4 273.5 306.9 273.4 308.4 272.8 309.8 271.7 311 270.2 312 268.3 312.8 266 313.4 263.4 313.8 260.5 313.9 257.5 313.8 254.4 313.4 251.2 312.8 248.1 312 245.1 311 242.4 309.8 239.9 308.4 237.7 306.9 236 305.4 234.6 303.8 233.7M303.8 273.1 306.2 273.3 308.6 273.1 310.9 272.4 313 271.2 314.8 269.6 316.4 267.6 317.7 265.2 318.7 262.5 319.2 259.7 319.4 256.6 319.2 253.5 318.7 250.4 317.7 247.3 316.4 244.4 314.8 241.8 313 239.4 310.9 237.3 308.6 235.7 306.2 234.5 303.8 233.7M303.8 273.1 306.9 273.1 309.8 272.7 312.7 271.8 315.3 270.5 317.6 268.7 319.6 266.6 321.2 264.1 322.4 261.4 323.1 258.5 323.4 255.4 323.1 252.3 322.4 249.3 321.2 246.3 319.6 243.5 317.6 240.9 315.3 238.7 312.7 236.8 309.8 235.3 306.9 234.3 303.8 233.7M303.8 273.1 307.2 272.9 310.5 272.3 313.6 271.2 316.5 269.7 319.1 267.8 321.3 265.5 323.1 262.9 324.4 260.1 325.1 257.1 325.4 254.1 325.1 251 324.4 247.9 323.1 245.1 321.3 242.4 319.1 240 316.5 237.9 313.6 236.2 310.5 234.9 307.2 234.1 303.8 233.7M303.8 273.1 307.2 272.7 310.5 271.8 313.6 270.6 316.5 268.8 319 266.7 321.2 264.3 323 261.6 324.3 258.7 325.1 255.7 325.3 252.6 325.1 249.5 324.3 246.6 323 243.8 321.2 241.2 319 238.9 316.5 237 313.6 235.5 310.5 234.5 307.2 233.9 303.8 233.7" fill="none" stroke-linejoin="round" stroke="#000" stroke-width="0.32" stroke-opacity="0.64"/></g>
<g><polygon points="267.4,289.9 267.5,290.2 267.6,290.4 267.8,290.7 268.1,290.9 268.6,291.2 269.1,291.4 269.7,291.7 270.5,291.9 271.3,292.1 272.2,292.3 273.2,292.5 274.2,292.6 275.3,292.7 276.5,292.9 277.7,292.9 278.9,293 280.1,293.1 281.4,293.1 282.7,293.1 283.9,293.1 285.2,293 286.4,292.9 287.6,292.8 288.8,292.7 289.9,292.6 290.9,292.4 291.9,292.3 292.8,292.1 293.6,291.9 294.3,291.6 294.9,291.4 295.5,291.2 295.9,290.9 296.2,290.6 296.4,290.4 296.6,290.1 296.6,166.4 296.5,166.1 296.4,165.9 296.2,165.6 295.9,165.4 295.4,165.1 294.9,164.9 294.3,164.6 293.5,164.4 292.7,164.2 291.8,164 290.8,163.8 289.8,163.7 288.7,163.6 287.5,163.4 286.3,163.4 285.1,163.3 283.9,163.2 282.6,163.2 281.3,163.2 280.1,163.2 278.8,163.3 277.6,163.4 276.4,163.5 275.2,163.6 274.1,163.7 273.1,163.9 272.1,164 271.2,164.2 270.4,164.4 269.7,164.7 269.1,164.9 268.5,165.1 268.1,165.4 267.8,165.7 267.6,165.9 267.4,166.2" fill="url(#g14)" fill-opacity="0.56"/><polygon points="267.4,289.9 267.5,290.2 267.6,290.4 267.8,290.7 268.1,290.9 268.6,291.2 269.1,291.4 269.7,291.7 270.5,291.9 271.3,292.1 272.2,292.3 273.2,292.5 274.2,292.6 275.3,292.7 276.5,292.9 277.7,292.9 278.9,293 280.1,293.1 281.4,293.1 282.7,293.1 283.9,293.1 285.2,293 286.4,292.9 287.6,292.8 288.8,292.7 289.9,292.6 290.9,292.4 291.9,292.3 292.8,292.1 293.6,291.9 294.3,291.6 294.9,291.4 295.5,291.2 295.9,290.9 296.2,290.6 296.4,290.4 296.6,290.1 296.6,166.4 296.5,166.1 296.4,165.9 296.2,165.6 295.9,165.4 295.4,165.1 294.9,164.9 294.3,164.6 293.5,164.4 292.7,164.2 291.8,164 290.8,163.8 289.8,163.7 288.7,163.6 287.5,163.4 286.3,163.4 285.1,163.3 283.9,163.2 282.6,163.2 281.3,163.2 280.1,163.2 278.8,163.3 277.6,163.4 276.4,163.5 275.2,163.6 274.1,163.7 273.1,163.9 272.1,164 271.2,164.2 270.4,164.4 269.7,164.7 269.1,164.9 268.5,165.1 268.1,165.4 267.8,165.7 267.6,165.9 267.4,166.2" fill="url(#g14)" fill-opacity="0.56"/><polygon points="294.9,288.6 294.3,288.3 293.5,288.1 292.7,287.9 291.8,287.7 290.8,287.5 289.8,287.4 288.7,287.3 287.5,287.1 286.3,287.1 285.1,287 283.9,286.9 282.6,286.9 281.3,286.9 280.1,286.9 278.8,287 277.6,287.1 276.4,287.2 275.2,287.3 274.1,287.4 273.1,287.6 272.1,287.7 271.2,287.9 270.4,288.1 269.7,288.4 269.1,288.6 268.5,288.8 268.1,289.1 267.8,289.4 267.6,289.6 267.4,289.9 267.5,290.2 267.6,290.4 267.8,290.7 268.1,290.9 268.6,291.2 269.1,291.4 269.7,291.7 270.5,291.9 271.3,292.1 272.2,292.3 273.2,292.5 274.2,292.6 275.3,292.7 276.5,292.9 277.7,292.9 278.9,293 280.1,293.1 281.4,293.1 282.7,293.1 283.9,293.1 285.2,293 286.4,292.9 287.6,292.8 288.8,292.7 289.9,292.6 290.9,292.4 291.9,292.3 292.8,292.1 293.6,291.9 294.3,291.6 294.9,291.4 295.5,291.2 295.9,290.9 296.2,290.6 296.4,290.4 296.6,290.1 296.5,289.8 296.4,289.6 296.2,289.3 295.9,289.1 295.4,288.8" fill="#106060" fill-opacity="0.6"/><polygon points="294.9,164.9 294.3,164.6 293.5,164.4 292.7,164.2 291.8,164 290.8,163.8 289.8,163.7 288.7,163.6 287.5,163.4 286.3,163.4 285.1,163.3 283.9,163.2 282.6,163.2 281.3,163.2 280.1,163.2 278.8,163.3 277.6,163.4 276.4,163.5 275.2,163.6 274.1,163.7 273.1,163.9 272.1,164 271.2,164.2 270.4,164.4 269.7,164.7 269.1,164.9 268.5,165.1 268.1,165.4 267.8,165.7 267.6,165.9 267.4,166.2 267.5,166.5 267.6,166.7 267.8,167 268.1,167.2 268.6,167.5 269.1,167.7 269.7,168 270.5,168.2 271.3,168.4 272.2,168.6 273.2,168.8 274.2,168.9 275.3,169 276.5,169.2 277.7,169.2 278.9,169.3 280.1,169.4 281.4,169.4 282.7,169.4 283.9,169.4 285.2,169.3 286.4,169.2 287.6,169.1 288.8,169 289.9,168.9 290.9,168.7 291.9,168.6 292.8,168.4 293.6,168.2 294.3,167.9 294.9,167.7 295.5,167.5 295.9,167.2 296.2,166.9 296.4,166.7 296.6,166.4 296.5,166.1 296.4,165.9 296.2,165.6 295.9,165.4 295.4,165.1" fill="#40dcd8" fill-opacity="0.85"/><path d="M294.9 288.6V164.9M292.2 287.8V164.1M288.5 287.2V163.5M284.1 287V163.3M279.6 287V163.3M275.2 287.3V163.6M271.6 287.9V164.2M269 288.6V164.9M267.6 289.6V165.9M267.6 290.5V166.8M269.1 291.4V167.7M271.8 292.2V168.5M275.5 292.8V169.1M279.9 293V169.3M284.4 293V169.3M288.8 292.7V169M292.4 292.1V168.4M295 291.4V167.7M296.4 290.4V166.7M296.4 289.5V165.8M294.9 288.6 294.3 288.3 293.5 288.1 292.7 287.9 291.8 287.7 290.8 287.5 289.8 287.4 288.7 287.3 287.5 287.1 286.3 287.1 285.1 287 283.9 286.9 282.6 286.9 281.3 286.9 280.1 286.9 278.8 287 277.6 287.1 276.4 287.2 275.2 287.3 274.1 287.4 273.1 287.6 272.1 287.7 271.2 287.9 270.4 288.1 269.7 288.4 269.1 288.6 268.5 288.8 268.1 289.1 267.8 289.4 267.6 289.6 267.4 289.9 267.5 290.2 267.6 290.4 267.8 290.7 268.1 290.9 268.6 291.2 269.1 291.4 269.7 291.7 270.5 291.9 271.3 292.1 272.2 292.3 273.2 292.5 274.2 292.6 275.3 292.7 276.5 292.9 277.7 292.9 278.9 293 280.1 293.1 281.4 293.1 282.7 293.1 283.9 293.1 285.2 293 286.4 292.9 287.6 292.8 288.8 292.7 289.9 292.6 290.9 292.4 291.9 292.3 292.8 292.1 293.6 291.9 294.3 291.6 294.9 291.4 295.5 291.2 295.9 290.9 296.2 290.6 296.4 290.4 296.6 290.1 296.5 289.8 296.4 289.6 296.2 289.3 295.9 289.1 295.4 288.8 294.9 288.6ZM294.9 164.9 294.3 164.6 293.5 164.4 292.7 164.2 291.8 164 290.8 163.8 289.8 163.7 288.7 163.6 287.5 163.4 286.3 163.4 285.1 163.3 283.9 163.2 282.6 163.2 281.3 163.2 280.1 163.2 278.8 163.3 277.6 163.4 276.4 163.5 275.2 163.6 274.1 163.7 273.1 163.9 272.1 164 271.2 164.2 270.4 164.4 269.7 164.7 269.1 164.9 268.5 165.1 268.1 165.4 267.8 165.7 267.6 165.9 267.4 166.2 267.5 166.5 267.6 166.7 267.8 167 268.1 167.2 268.6 167.5 269.1 167.7 269.7 168 270.5 168.2 271.3 168.4 272.2 168.6 273.2 168.8 274.2 168.9 275.3 169 276.5 169.2 277.7 169.2 278.9 169.3 280.1 169.4 281.4 169.4 282.7 169.4 283.9 169.4 285.2 169.3 286.4 169.2 287.6 169.1 288.8 169 289.9 168.9 290.9 168.7 291.9 168.6 292.8 168.4 293.6 168.2 294.3 167.9 294.9 167.7 295.5 167.5 295.9 167.2 296.2 166.9 296.4 166.7 296.6 166.4 296.5 166.1 296.4 165.9 296.2 165.6 295.9 165.4 295.4 165.1 294.9 164.9Z" fill="none" stroke="#000" stroke-width="0.38" stroke-opacity="0.42"/></g>
<g><polygon points="304.5,148.5 302.2,148.6 299.9,149 297.7,149.5 295.6,150.3 293.6,151.3 291.7,152.4 289.9,153.8 288.3,155.3 286.9,156.9 285.6,158.7 284.6,160.6 283.8,162.6 283.2,164.6 282.9,166.7 282.8,168.8 282.9,170.9 283.3,173 283.9,175.1 284.7,177 285.7,178.9 287,180.7 288.4,182.3 290.1,183.8 291.9,185.1 293.8,186.2 295.8,187.2 298,187.9 300.2,188.5 302.4,188.8 304.7,188.9 307,188.8 309.3,188.4 311.5,187.9 313.6,187.1 315.6,186.1 317.5,185 319.3,183.6 320.9,182.1 322.3,180.5 323.6,178.7 324.6,176.8 325.4,174.8 326,172.8 326.3,170.7 326.4,168.6 326.3,166.5 325.9,164.4 325.3,162.3 324.5,160.4 323.5,158.5 322.2,156.7 320.8,155.1 319.1,153.6 317.3,152.3 315.4,151.2 313.4,150.2 311.2,149.5 309,148.9 306.8,148.6" fill="url(#g15)" fill-opacity="0.5"/><path d="M307.6 187.8 307 187.6 306.1 187.5 305.1 187.4 304 187.4 303 187.5 302.2 187.6 301.5 187.8 301.2 188 301.2 188.2 301.6 188.5 302.2 188.6 303.1 188.8 304.1 188.8 305.2 188.8 306.2 188.8 307 188.6 307.7 188.4 308 188.2 308 188ZM310.6 186.7 309.3 186.4 307.6 186.1 305.6 186 303.5 186 301.5 186.1 299.8 186.4 298.6 186.8 297.9 187.2 297.9 187.6 298.6 188.1 299.9 188.4 301.6 188.7 303.6 188.8 305.7 188.8 307.7 188.7 309.4 188.4 310.6 188 311.3 187.6 311.3 187.1ZM313.4 185.2 311.5 184.7 309 184.3 306 184.1 302.9 184.1 300 184.4 297.5 184.8 295.7 185.3 294.8 185.9 294.8 186.6 295.8 187.2 297.7 187.7 300.2 188.1 303.2 188.3 306.3 188.3 309.2 188.1 311.7 187.7 313.5 187.1 314.4 186.5 314.4 185.9ZM316 183.3 313.6 182.7 310.3 182.2 306.5 181.9 302.4 181.9 298.6 182.2 295.4 182.7 293.1 183.4 291.9 184.2 291.9 185.1 293.2 185.9 295.6 186.6 298.9 187 302.7 187.3 306.8 187.3 310.6 187 313.8 186.5 316.1 185.8 317.3 185 317.3 184.1ZM318.3 181.1 315.4 180.3 311.5 179.7 306.8 179.4 302 179.4 297.4 179.7 293.6 180.3 290.8 181.2 289.3 182.1 289.4 183.2 290.9 184.1 293.8 184.9 297.7 185.5 302.4 185.8 307.2 185.8 311.8 185.5 315.6 184.9 318.4 184 319.9 183.1 319.8 182ZM320.3 178.5 317 177.6 312.4 176.9 307.2 176.6 301.6 176.6 296.4 177 292 177.7 288.8 178.6 287.1 179.7 287.2 180.9 288.9 182 292.2 182.9 296.8 183.6 302 184 307.6 183.9 312.8 183.6 317.2 182.9 320.4 181.9 322.1 180.8 322 179.6ZM321.8 175.7 318.2 174.7 313.2 173.9 307.4 173.5 301.3 173.6 295.6 174 290.7 174.8 287.2 175.8 285.3 177 285.4 178.3 287.4 179.5 291 180.6 296 181.3 301.8 181.7 307.9 181.7 313.6 181.3 318.5 180.5 322 179.4 323.9 178.2 323.8 176.9ZM323 172.7 319.1 171.6 313.8 170.8 307.6 170.4 301.1 170.4 295 170.9 289.7 171.7 286 172.8 284 174.2 284.1 175.5 286.2 176.8 290.1 177.9 295.4 178.7 301.6 179.1 308.1 179.1 314.2 178.7 319.5 177.8 323.2 176.7 325.2 175.4 325.1 174ZM323.7 169.6 319.7 168.5 314.2 167.7 307.7 167.3 301 167.3 294.6 167.7 289.2 168.6 285.3 169.8 283.3 171.1 283.3 172.6 285.5 173.9 289.5 175.1 295 175.9 301.5 176.3 308.2 176.3 314.6 175.8 320 175 323.9 173.8 325.9 172.4 325.9 171ZM324 166.5 319.9 165.4 314.3 164.6 307.8 164.1 300.9 164.1 294.5 164.6 289 165.5 285 166.7 283 168 283.1 169.5 285.2 170.9 289.3 172 294.9 172.8 301.4 173.3 308.3 173.3 314.7 172.8 320.2 171.9 324.2 170.7 326.2 169.4 326.1 167.9ZM323.7 163.5 319.7 162.3 314.2 161.5 307.7 161.1 301 161.1 294.6 161.6 289.2 162.4 285.3 163.6 283.3 165 283.3 166.4 285.5 167.8 289.5 168.9 295 169.7 301.5 170.1 308.2 170.1 314.6 169.7 320 168.8 323.9 167.6 325.9 166.3 325.9 164.8ZM323 160.6 319.1 159.5 313.8 158.7 307.6 158.3 301.1 158.3 295 158.7 289.7 159.6 286 160.7 284 162 284.1 163.4 286.2 164.7 290.1 165.8 295.4 166.6 301.6 167 308.1 167 314.2 166.5 319.5 165.7 323.2 164.6 325.2 163.2 325.1 161.9ZM321.8 157.9 318.2 156.8 313.2 156.1 307.4 155.7 301.3 155.7 295.6 156.1 290.7 156.9 287.2 158 285.3 159.2 285.4 160.5 287.4 161.7 291 162.7 296 163.5 301.8 163.9 307.9 163.8 313.6 163.4 318.5 162.6 322 161.6 323.9 160.4 323.8 159.1ZM320.3 155.4 317 154.5 312.4 153.8 307.2 153.4 301.6 153.5 296.4 153.8 292 154.5 288.8 155.5 287.1 156.6 287.2 157.8 288.9 158.9 292.2 159.8 296.8 160.5 302 160.8 307.6 160.8 312.8 160.4 317.2 159.7 320.4 158.8 322.1 157.7 322 156.5ZM318.3 153.3 315.4 152.5 311.5 151.9 306.8 151.6 302 151.6 297.4 151.9 293.6 152.5 290.8 153.4 289.3 154.3 289.4 155.4 290.9 156.3 293.8 157.1 297.7 157.7 302.4 158 307.2 158 311.8 157.7 315.6 157.1 318.4 156.2 319.9 155.3 319.8 154.2ZM316 151.5 313.6 150.8 310.3 150.4 306.5 150.1 302.4 150.1 298.6 150.4 295.4 150.9 293.1 151.6 291.9 152.4 291.9 153.3 293.2 154.1 295.6 154.7 298.9 155.2 302.7 155.5 306.8 155.5 310.6 155.2 313.8 154.7 316.1 154 317.3 153.2 317.3 152.3ZM313.4 150.2 311.5 149.7 309 149.3 306 149.1 302.9 149.1 300 149.3 297.5 149.7 295.7 150.3 294.8 150.9 294.8 151.5 295.8 152.2 297.7 152.7 300.2 153.1 303.2 153.3 306.3 153.3 309.2 153 311.7 152.6 313.5 152.1 314.4 151.5 314.4 150.8ZM310.6 149.3 309.3 149 307.6 148.7 305.6 148.6 303.5 148.6 301.5 148.7 299.8 149 298.6 149.4 297.9 149.8 297.9 150.3 298.6 150.7 299.9 151 301.6 151.3 303.6 151.4 305.7 151.4 307.7 151.3 309.4 151 310.6 150.6 311.3 150.2 311.3 149.8ZM307.6 148.9 307 148.8 306.1 148.6 305.1 148.6 304 148.6 303 148.6 302.2 148.8 301.5 149 301.2 149.2 301.2 149.4 301.6 149.6 302.2 149.8 303.1 149.9 304.1 150 305.2 150 306.2 149.9 307 149.8 307.7 149.6 308 149.4 308 149.2ZM304.6 188.4 307.6 187.8 310.6 186.7 313.4 185.2 316 183.3 318.3 181.1 320.3 178.5 321.8 175.7 323 172.7 323.7 169.6 324 166.5 323.7 163.5 323 160.6 321.8 157.9 320.3 155.4 318.3 153.3 316 151.5 313.4 150.2 310.6 149.3 307.6 148.9 304.6 149M304.6 188.4 307 187.6 309.3 186.4 311.5 184.7 313.6 182.7 315.4 180.3 317 177.6 318.2 174.7 319.1 171.6 319.7 168.5 319.9 165.4 319.7 162.3 319.1 159.5 318.2 156.8 317 154.5 315.4 152.5 313.6 150.8 311.5 149.7 309.3 149 307 148.8 304.6 149M304.6 188.4 306.1 187.5 307.6 186.1 309 184.3 310.3 182.2 311.5 179.7 312.4 176.9 313.2 173.9 313.8 170.8 314.2 167.7 314.3 164.6 314.2 161.5 313.8 158.7 313.2 156.1 312.4 153.8 311.5 151.9 310.3 150.4 309 149.3 307.6 148.7 306.1 148.6 304.6 149M304.6 188.4 305.1 187.4 305.6 186 306 184.1 306.5 181.9 306.8 179.4 307.2 176.6 307.4 173.5 307.6 170.4 307.7 167.3 307.8 164.1 307.7 161.1 307.6 158.3 307.4 155.7 307.2 153.4 306.8 151.6 306.5 150.1 306 149.1 305.6 148.6 305.1 148.6 304.6 149M304.6 188.4 304 187.4 303.5 186 302.9 184.1 302.4 181.9 302 179.4 301.6 176.6 301.3 173.6 301.1 170.4 301 167.3 300.9 164.1 301 161.1 301.1 158.3 301.3 155.7 301.6 153.5 302 151.6 302.4 150.1 302.9 149.1 303.5 148.6 304 148.6 304.6 149M304.6 188.4 303 187.5 301.5 186.1 300 184.4 298.6 182.2 297.4 179.7 296.4 177 295.6 174 295 170.9 294.6 167.7 294.5 164.6 294.6 161.6 295 158.7 295.6 156.1 296.4 153.8 297.4 151.9 298.6 150.4 300 149.3 301.5 148.7 303 148.6 304.6 149M304.6 188.4 302.2 187.6 299.8 186.4 297.5 184.8 295.4 182.7 293.6 180.3 292 177.7 290.7 174.8 289.7 171.7 289.2 168.6 289 165.5 289.2 162.4 289.7 159.6 290.7 156.9 292 154.5 293.6 152.5 295.4 150.9 297.5 149.7 299.8 149 302.2 148.8 304.6 149M304.6 188.4 301.5 187.8 298.6 186.8 295.7 185.3 293.1 183.4 290.8 181.2 288.8 178.6 287.2 175.8 286 172.8 285.3 169.8 285 166.7 285.3 163.6 286 160.7 287.2 158 288.8 155.5 290.8 153.4 293.1 151.6 295.7 150.3 298.6 149.4 301.5 149 304.6 149M304.6 188.4 301.2 188 297.9 187.2 294.8 185.9 291.9 184.2 289.3 182.1 287.1 179.7 285.3 177 284 174.2 283.3 171.1 283 168 283.3 165 284 162 285.3 159.2 287.1 156.6 289.3 154.3 291.9 152.4 294.8 150.9 297.9 149.8 301.2 149.2 304.6 149M304.6 188.4 301.2 188.2 297.9 187.6 294.8 186.6 291.9 185.1 289.4 183.2 287.2 180.9 285.4 178.3 284.1 175.5 283.3 172.6 283.1 169.5 283.3 166.4 284.1 163.4 285.4 160.5 287.2 157.8 289.4 155.4 291.9 153.3 294.8 151.5 297.9 150.3 301.2 149.4 304.6 149M304.6 188.4 301.6 188.5 298.6 188.1 295.8 187.2 293.2 185.9 290.9 184.1 288.9 182 287.4 179.5 286.2 176.8 285.5 173.9 285.2 170.9 285.5 167.8 286.2 164.7 287.4 161.7 288.9 158.9 290.9 156.3 293.2 154.1 295.8 152.2 298.6 150.7 301.6 149.6 304.6 149M304.6 188.4 302.2 188.6 299.9 188.4 297.7 187.7 295.6 186.6 293.8 184.9 292.2 182.9 291 180.6 290.1 177.9 289.5 175.1 289.3 172 289.5 168.9 290.1 165.8 291 162.7 292.2 159.8 293.8 157.1 295.6 154.7 297.7 152.7 299.9 151 302.2 149.8 304.6 149M304.6 188.4 303.1 188.8 301.6 188.7 300.2 188.1 298.9 187 297.7 185.5 296.8 183.6 296 181.3 295.4 178.7 295 175.9 294.9 172.8 295 169.7 295.4 166.6 296 163.5 296.8 160.5 297.7 157.7 298.9 155.2 300.2 153.1 301.6 151.3 303.1 149.9 304.6 149M304.6 188.4 304.1 188.8 303.6 188.8 303.2 188.3 302.7 187.3 302.4 185.8 302 184 301.8 181.7 301.6 179.1 301.5 176.3 301.4 173.3 301.5 170.1 301.6 167 301.8 163.9 302 160.8 302.4 158 302.7 155.5 303.2 153.3 303.6 151.4 304.1 150 304.6 149M304.6 188.4 305.2 188.8 305.7 188.8 306.3 188.3 306.8 187.3 307.2 185.8 307.6 183.9 307.9 181.7 308.1 179.1 308.2 176.3 308.3 173.3 308.2 170.1 308.1 167 307.9 163.8 307.6 160.8 307.2 158 306.8 155.5 306.3 153.3 305.7 151.4 305.2 150 304.6 149M304.6 188.4 306.2 188.8 307.7 188.7 309.2 188.1 310.6 187 311.8 185.5 312.8 183.6 313.6 181.3 314.2 178.7 314.6 175.8 314.7 172.8 314.6 169.7 314.2 166.5 313.6 163.4 312.8 160.4 311.8 157.7 310.6 155.2 309.2 153 307.7 151.3 306.2 149.9 304.6 149M304.6 188.4 307 188.6 309.4 188.4 311.7 187.7 313.8 186.5 315.6 184.9 317.2 182.9 318.5 180.5 319.5 177.8 320 175 320.2 171.9 320 168.8 319.5 165.7 318.5 162.6 317.2 159.7 315.6 157.1 313.8 154.7 311.7 152.6 309.4 151 307 149.8 304.6 149M304.6 188.4 307.7 188.4 310.6 188 313.5 187.1 316.1 185.8 318.4 184 320.4 181.9 322 179.4 323.2 176.7 323.9 173.8 324.2 170.7 323.9 167.6 323.2 164.6 322 161.6 320.4 158.8 318.4 156.2 316.1 154 313.5 152.1 310.6 150.6 307.7 149.6 304.6 149M304.6 188.4 308 188.2 311.3 187.6 314.4 186.5 317.3 185 319.9 183.1 322.1 180.8 323.9 178.2 325.2 175.4 325.9 172.4 326.2 169.4 325.9 166.3 325.2 163.2 323.9 160.4 322.1 157.7 319.9 155.3 317.3 153.2 314.4 151.5 311.3 150.2 308 149.4 304.6 149M304.6 188.4 308 188 311.3 187.1 314.4 185.9 317.3 184.1 319.8 182 322 179.6 323.8 176.9 325.1 174 325.9 171 326.1 167.9 325.9 164.8 325.1 161.9 323.8 159.1 322 156.5 319.8 154.2 317.3 152.3 314.4 150.8 311.3 149.8 308 149.2 304.6 149" fill="none" stroke-linejoin="round" stroke="#000" stroke-width="0.32" stroke-opacity="0.64"/></g>
<polygon points="404.2,287.5 403.8,287.3 403.2,287.2 402.5,287 401.7,286.9 400.9,286.8 400,286.7 399,286.7 398.1,286.7 397.1,286.7 396.2,286.7 395.3,286.8 394.4,286.8 393.6,286.9 392.9,287.1 392.2,287.2 391.6,287.4 391.2,287.6 390.8,287.7 390.6,287.9 390.5,288.1 390.5,288.3 390.7,288.5 391,288.7 391.4,288.9 391.8,289.1 392.4,289.2 393.1,289.4 393.9,289.5 394.7,289.6 395.6,289.7 396.6,289.7 397.5,289.7 398.5,289.7 399.4,289.7 400.3,289.6 401.2,289.6 402,289.5 402.7,289.3 403.4,289.2 404,289 404.4,288.8 404.8,288.7 405,288.5 405.1,288.3 405.1,288.1 404.9,287.9 404.6,287.7" fill="none" stroke="#30c8c8" stroke-width="1.2" stroke-opacity="1"/><polygon points="403.6,287.6 403.2,287.4 402.6,287.3 402,287.1 401.3,287 400.6,286.9 399.8,286.9 398.9,286.8 398.1,286.8 397.2,286.8 396.4,286.8 395.5,286.9 394.8,287 394,287.1 393.4,287.2 392.8,287.3 392.3,287.5 391.9,287.6 391.5,287.8 391.3,288 391.3,288.1 391.3,288.3 391.4,288.5 391.6,288.7 392,288.8 392.4,289 393,289.1 393.6,289.3 394.3,289.4 395,289.5 395.8,289.5 396.7,289.6 397.5,289.6 398.4,289.6 399.2,289.6 400.1,289.5 400.8,289.4 401.6,289.3 402.2,289.2 402.8,289.1 403.3,288.9 403.7,288.8 404.1,288.6 404.3,288.4 404.3,288.3 404.3,288.1 404.2,287.9 404,287.7" fill="none" stroke="#50d0b0" stroke-width="0.5" stroke-opacity="0.45"/><polygon points="402.6,287.7 402.3,287.5 401.8,287.4 401.3,287.3 400.7,287.2 400.1,287.2 399.4,287.1 398.7,287.1 398,287 397.3,287.1 396.6,287.1 395.9,287.1 395.3,287.2 394.7,287.3 394.1,287.4 393.6,287.5 393.2,287.6 392.8,287.7 392.6,287.9 392.4,288 392.3,288.2 392.4,288.3 392.5,288.5 392.7,288.6 393,288.7 393.3,288.9 393.8,289 394.3,289.1 394.9,289.2 395.5,289.2 396.2,289.3 396.9,289.3 397.6,289.4 398.3,289.3 399,289.3 399.7,289.3 400.3,289.2 400.9,289.1 401.5,289 402,288.9 402.4,288.8 402.8,288.7 403,288.5 403.2,288.4 403.3,288.2 403.2,288.1 403.1,287.9 402.9,287.8" fill="none" stroke="#50d0b0" stroke-width="0.85" stroke-opacity="0.9"/>
<g><polygon points="397.8,188.8 397,188.8 396.2,188.9 395.5,189.1 394.8,189.4 394.1,189.7 393.5,190.1 392.9,190.5 392.4,191 391.9,191.6 391.5,192.2 391.1,192.8 390.9,193.5 390.7,194.1 390.6,194.8 390.5,195.5 390.6,196.2 390.7,196.9 390.9,197.6 391.2,198.3 391.5,198.9 391.9,199.5 392.4,200 393,200.5 393.6,201 394.2,201.3 394.9,201.7 395.6,201.9 396.3,202.1 397.1,202.2 397.8,202.2 398.6,202.2 399.4,202.1 400.1,201.9 400.8,201.6 401.5,201.3 402.1,200.9 402.7,200.5 403.2,200 403.7,199.4 404.1,198.8 404.5,198.2 404.7,197.5 404.9,196.9 405,196.2 405.1,195.5 405,194.8 404.9,194.1 404.7,193.4 404.4,192.7 404.1,192.1 403.7,191.5 403.2,191 402.6,190.5 402,190 401.4,189.7 400.7,189.3 400,189.1 399.3,188.9 398.5,188.8" fill="url(#g16)" fill-opacity="0.5"/><path d="M398.8 201.9 398.6 201.8 398.3 201.8 398 201.7 397.6 201.7 397.3 201.8 397 201.8 396.8 201.9 396.7 201.9 396.7 202 396.8 202.1 397 202.1 397.3 202.2 397.6 202.2 398 202.2 398.3 202.2 398.6 202.1 398.8 202.1 398.9 202 398.9 201.9ZM399.8 201.5 399.4 201.4 398.8 201.3 398.1 201.3 397.4 201.3 396.8 201.3 396.2 201.4 395.8 201.5 395.6 201.7 395.6 201.8 395.8 202 396.2 202.1 396.8 202.2 397.5 202.2 398.2 202.2 398.8 202.2 399.4 202.1 399.8 201.9 400 201.8 400 201.6ZM400.7 201 400.1 200.8 399.3 200.7 398.3 200.6 397.2 200.6 396.3 200.7 395.4 200.9 394.8 201 394.5 201.2 394.5 201.5 394.9 201.7 395.5 201.8 396.3 202 397.3 202 398.4 202 399.3 202 400.2 201.8 400.8 201.6 401.1 201.4 401.1 201.2ZM401.6 200.4 400.8 200.2 399.7 200 398.4 199.9 397.1 199.9 395.8 200 394.7 200.2 394 200.4 393.6 200.7 393.6 201 394 201.2 394.8 201.5 395.9 201.6 397.2 201.7 398.5 201.7 399.8 201.6 400.9 201.4 401.6 201.2 402 200.9 402 200.6ZM402.4 199.6 401.4 199.4 400.1 199.2 398.5 199.1 396.9 199.1 395.4 199.2 394.1 199.4 393.2 199.7 392.7 200 392.7 200.3 393.2 200.6 394.2 200.9 395.5 201.1 397.1 201.2 398.7 201.2 400.2 201.1 401.5 200.9 402.4 200.6 402.9 200.3 402.9 199.9ZM403 198.8 401.9 198.5 400.4 198.2 398.7 198.1 396.8 198.1 395.1 198.3 393.6 198.5 392.5 198.8 392 199.2 392 199.6 392.6 199.9 393.7 200.2 395.2 200.5 396.9 200.6 398.8 200.6 400.5 200.5 402 200.2 403.1 199.9 403.6 199.5 403.6 199.1ZM403.5 197.8 402.3 197.5 400.7 197.2 398.7 197.1 396.7 197.1 394.8 197.3 393.2 197.5 392 197.9 391.4 198.3 391.4 198.7 392.1 199.1 393.3 199.5 394.9 199.7 396.9 199.8 398.9 199.8 400.8 199.7 402.4 199.4 403.6 199.1 404.2 198.7 404.2 198.2ZM403.9 196.8 402.6 196.5 400.9 196.2 398.8 196.1 396.6 196.1 394.6 196.2 392.8 196.5 391.6 196.9 390.9 197.3 391 197.8 391.7 198.2 393 198.6 394.7 198.8 396.8 199 399 199 401 198.8 402.8 198.5 404 198.2 404.7 197.7 404.6 197.3ZM404.2 195.8 402.8 195.4 401 195.2 398.8 195 396.6 195 394.5 195.2 392.7 195.5 391.4 195.9 390.7 196.3 390.7 196.8 391.4 197.2 392.8 197.6 394.6 197.9 396.8 198 399 198 401.1 197.9 402.9 197.6 404.2 197.2 404.9 196.7 404.9 196.3ZM404.2 194.8 402.9 194.4 401 194.1 398.9 194 396.6 194 394.4 194.1 392.6 194.4 391.3 194.8 390.6 195.3 390.6 195.8 391.4 196.2 392.7 196.6 394.6 196.9 396.7 197 399 197 401.2 196.9 403 196.6 404.3 196.2 405 195.7 405 195.2ZM404.2 193.8 402.8 193.4 401 193.1 398.8 193 396.6 193 394.5 193.1 392.7 193.4 391.4 193.8 390.7 194.3 390.7 194.7 391.4 195.2 392.8 195.6 394.6 195.8 396.8 196 399 196 401.1 195.8 402.9 195.5 404.2 195.1 404.9 194.7 404.9 194.2ZM403.9 192.8 402.6 192.4 400.9 192.2 398.8 192 396.6 192 394.6 192.2 392.8 192.5 391.6 192.8 390.9 193.3 391 193.7 391.7 194.2 393 194.5 394.7 194.8 396.8 194.9 399 194.9 401 194.8 402.8 194.5 404 194.1 404.7 193.7 404.6 193.2ZM403.5 191.9 402.3 191.5 400.7 191.3 398.7 191.2 396.7 191.2 394.8 191.3 393.2 191.6 392 191.9 391.4 192.3 391.4 192.8 392.1 193.2 393.3 193.5 394.9 193.8 396.9 193.9 398.9 193.9 400.8 193.7 402.4 193.5 403.6 193.1 404.2 192.7 404.2 192.3ZM403 191.1 401.9 190.8 400.4 190.5 398.7 190.4 396.8 190.4 395.1 190.5 393.6 190.8 392.5 191.1 392 191.5 392 191.9 392.6 192.2 393.7 192.5 395.2 192.8 396.9 192.9 398.8 192.9 400.5 192.7 402 192.5 403.1 192.2 403.6 191.8 403.6 191.4ZM402.4 190.4 401.4 190.1 400.1 189.9 398.5 189.8 396.9 189.8 395.4 189.9 394.1 190.1 393.2 190.4 392.7 190.7 392.7 191.1 393.2 191.4 394.2 191.6 395.5 191.8 397.1 191.9 398.7 191.9 400.2 191.8 401.5 191.6 402.4 191.3 402.9 191 402.9 190.7ZM401.6 189.8 400.8 189.5 399.7 189.4 398.4 189.3 397.1 189.3 395.8 189.4 394.7 189.6 394 189.8 393.6 190.1 393.6 190.4 394 190.6 394.8 190.8 395.9 191 397.2 191.1 398.5 191.1 399.8 191 400.9 190.8 401.6 190.6 402 190.3 402 190ZM400.7 189.3 400.1 189.2 399.3 189 398.3 189 397.2 189 396.3 189 395.4 189.2 394.8 189.4 394.5 189.6 394.5 189.8 394.9 190 395.5 190.2 396.3 190.3 397.3 190.4 398.4 190.4 399.3 190.3 400.2 190.1 400.8 190 401.1 189.8 401.1 189.5ZM399.8 189 399.4 188.9 398.8 188.8 398.1 188.8 397.4 188.8 396.8 188.8 396.2 188.9 395.8 189.1 395.6 189.2 395.6 189.4 395.8 189.5 396.2 189.6 396.8 189.7 397.5 189.7 398.2 189.7 398.8 189.7 399.4 189.6 399.8 189.5 400 189.3 400 189.2ZM398.8 188.9 398.6 188.9 398.3 188.8 398 188.8 397.6 188.8 397.3 188.8 397 188.9 396.8 188.9 396.7 189 396.7 189.1 396.8 189.1 397 189.2 397.3 189.2 397.6 189.3 398 189.3 398.3 189.2 398.6 189.2 398.8 189.1 398.9 189.1 398.9 189ZM397.8 202.1 398.8 201.9 399.8 201.5 400.7 201 401.6 200.4 402.4 199.6 403 198.8 403.5 197.8 403.9 196.8 404.2 195.8 404.2 194.8 404.2 193.8 403.9 192.8 403.5 191.9 403 191.1 402.4 190.4 401.6 189.8 400.7 189.3 399.8 189 398.8 188.9 397.8 188.9M397.8 202.1 398.6 201.8 399.4 201.4 400.1 200.8 400.8 200.2 401.4 199.4 401.9 198.5 402.3 197.5 402.6 196.5 402.8 195.4 402.9 194.4 402.8 193.4 402.6 192.4 402.3 191.5 401.9 190.8 401.4 190.1 400.8 189.5 400.1 189.2 399.4 188.9 398.6 188.9 397.8 188.9M397.8 202.1 398.3 201.8 398.8 201.3 399.3 200.7 399.7 200 400.1 199.2 400.4 198.2 400.7 197.2 400.9 196.2 401 195.2 401 194.1 401 193.1 400.9 192.2 400.7 191.3 400.4 190.5 400.1 189.9 399.7 189.4 399.3 189 398.8 188.8 398.3 188.8 397.8 188.9M397.8 202.1 398 201.7 398.1 201.3 398.3 200.6 398.4 199.9 398.5 199.1 398.7 198.1 398.7 197.1 398.8 196.1 398.8 195 398.9 194 398.8 193 398.8 192 398.7 191.2 398.7 190.4 398.5 189.8 398.4 189.3 398.3 189 398.1 188.8 398 188.8 397.8 188.9M397.8 202.1 397.6 201.7 397.4 201.3 397.2 200.6 397.1 199.9 396.9 199.1 396.8 198.1 396.7 197.1 396.6 196.1 396.6 195 396.6 194 396.6 193 396.6 192 396.7 191.2 396.8 190.4 396.9 189.8 397.1 189.3 397.2 189 397.4 188.8 397.6 188.8 397.8 188.9M397.8 202.1 397.3 201.8 396.8 201.3 396.3 200.7 395.8 200 395.4 199.2 395.1 198.3 394.8 197.3 394.6 196.2 394.5 195.2 394.4 194.1 394.5 193.1 394.6 192.2 394.8 191.3 395.1 190.5 395.4 189.9 395.8 189.4 396.3 189 396.8 188.8 397.3 188.8 397.8 188.9M397.8 202.1 397 201.8 396.2 201.4 395.4 200.9 394.7 200.2 394.1 199.4 393.6 198.5 393.2 197.5 392.8 196.5 392.7 195.5 392.6 194.4 392.7 193.4 392.8 192.5 393.2 191.6 393.6 190.8 394.1 190.1 394.7 189.6 395.4 189.2 396.2 188.9 397 188.9 397.8 188.9M397.8 202.1 396.8 201.9 395.8 201.5 394.8 201 394 200.4 393.2 199.7 392.5 198.8 392 197.9 391.6 196.9 391.4 195.9 391.3 194.8 391.4 193.8 391.6 192.8 392 191.9 392.5 191.1 393.2 190.4 394 189.8 394.8 189.4 395.8 189.1 396.8 188.9 397.8 188.9M397.8 202.1 396.7 201.9 395.6 201.7 394.5 201.2 393.6 200.7 392.7 200 392 199.2 391.4 198.3 390.9 197.3 390.7 196.3 390.6 195.3 390.7 194.3 390.9 193.3 391.4 192.3 392 191.5 392.7 190.7 393.6 190.1 394.5 189.6 395.6 189.2 396.7 189 397.8 188.9M397.8 202.1 396.7 202 395.6 201.8 394.5 201.5 393.6 201 392.7 200.3 392 199.6 391.4 198.7 391 197.8 390.7 196.8 390.6 195.8 390.7 194.7 391 193.7 391.4 192.8 392 191.9 392.7 191.1 393.6 190.4 394.5 189.8 395.6 189.4 396.7 189.1 397.8 188.9M397.8 202.1 396.8 202.1 395.8 202 394.9 201.7 394 201.2 393.2 200.6 392.6 199.9 392.1 199.1 391.7 198.2 391.4 197.2 391.4 196.2 391.4 195.2 391.7 194.2 392.1 193.2 392.6 192.2 393.2 191.4 394 190.6 394.9 190 395.8 189.5 396.8 189.1 397.8 188.9M397.8 202.1 397 202.1 396.2 202.1 395.5 201.8 394.8 201.5 394.2 200.9 393.7 200.2 393.3 199.5 393 198.6 392.8 197.6 392.7 196.6 392.8 195.6 393 194.5 393.3 193.5 393.7 192.5 394.2 191.6 394.8 190.8 395.5 190.2 396.2 189.6 397 189.2 397.8 188.9M397.8 202.1 397.3 202.2 396.8 202.2 396.3 202 395.9 201.6 395.5 201.1 395.2 200.5 394.9 199.7 394.7 198.8 394.6 197.9 394.6 196.9 394.6 195.8 394.7 194.8 394.9 193.8 395.2 192.8 395.5 191.8 395.9 191 396.3 190.3 396.8 189.7 397.3 189.2 397.8 188.9M397.8 202.1 397.6 202.2 397.5 202.2 397.3 202 397.2 201.7 397.1 201.2 396.9 200.6 396.9 199.8 396.8 199 396.8 198 396.7 197 396.8 196 396.8 194.9 396.9 193.9 396.9 192.9 397.1 191.9 397.2 191.1 397.3 190.4 397.5 189.7 397.6 189.3 397.8 188.9M397.8 202.1 398 202.2 398.2 202.2 398.4 202 398.5 201.7 398.7 201.2 398.8 200.6 398.9 199.8 399 199 399 198 399 197 399 196 399 194.9 398.9 193.9 398.8 192.9 398.7 191.9 398.5 191.1 398.4 190.4 398.2 189.7 398 189.3 397.8 188.9M397.8 202.1 398.3 202.2 398.8 202.2 399.3 202 399.8 201.6 400.2 201.1 400.5 200.5 400.8 199.7 401 198.8 401.1 197.9 401.2 196.9 401.1 195.8 401 194.8 400.8 193.7 400.5 192.7 400.2 191.8 399.8 191 399.3 190.3 398.8 189.7 398.3 189.2 397.8 188.9M397.8 202.1 398.6 202.1 399.4 202.1 400.2 201.8 400.9 201.4 401.5 200.9 402 200.2 402.4 199.4 402.8 198.5 402.9 197.6 403 196.6 402.9 195.5 402.8 194.5 402.4 193.5 402 192.5 401.5 191.6 400.9 190.8 400.2 190.1 399.4 189.6 398.6 189.2 397.8 188.9M397.8 202.1 398.8 202.1 399.8 201.9 400.8 201.6 401.6 201.2 402.4 200.6 403.1 199.9 403.6 199.1 404 198.2 404.2 197.2 404.3 196.2 404.2 195.1 404 194.1 403.6 193.1 403.1 192.2 402.4 191.3 401.6 190.6 400.8 190 399.8 189.5 398.8 189.1 397.8 188.9M397.8 202.1 398.9 202 400 201.8 401.1 201.4 402 200.9 402.9 200.3 403.6 199.5 404.2 198.7 404.7 197.7 404.9 196.7 405 195.7 404.9 194.7 404.7 193.7 404.2 192.7 403.6 191.8 402.9 191 402 190.3 401.1 189.8 400 189.3 398.9 189.1 397.8 188.9M397.8 202.1 398.9 201.9 400 201.6 401.1 201.2 402 200.6 402.9 199.9 403.6 199.1 404.2 198.2 404.6 197.3 404.9 196.3 405 195.2 404.9 194.2 404.6 193.2 404.2 192.3 403.6 191.4 402.9 190.7 402 190 401.1 189.5 400 189.2 398.9 189 397.8 188.9" fill="none" stroke-linejoin="round" stroke="#000" stroke-width="0.32" stroke-opacity="0.64"/></g>
<g><polygon points="354.7,316.1 354.7,316.3 354.8,316.4 354.9,316.5 355.1,316.7 355.3,316.8 355.6,316.9 355.9,317 356.2,317.1 356.6,317.2 357.1,317.3 357.6,317.4 358.1,317.5 358.7,317.6 359.2,317.6 359.8,317.7 360.4,317.7 361.1,317.7 361.7,317.7 362.3,317.7 363,317.7 363.6,317.7 364.2,317.7 364.8,317.6 365.4,317.6 365.9,317.5 366.4,317.4 366.9,317.3 367.4,317.2 367.8,317.1 368.2,317 368.5,316.9 368.7,316.8 369,316.7 369.1,316.5 369.2,316.4 369.3,316.3 369.3,205.1 369.3,204.9 369.2,204.8 369.1,204.7 368.9,204.5 368.7,204.4 368.4,204.3 368.1,204.2 367.8,204.1 367.4,204 366.9,203.9 366.4,203.8 365.9,203.7 365.3,203.6 364.8,203.6 364.2,203.5 363.6,203.5 362.9,203.5 362.3,203.5 361.7,203.5 361,203.5 360.4,203.5 359.8,203.5 359.2,203.6 358.6,203.6 358.1,203.7 357.6,203.8 357.1,203.9 356.6,204 356.2,204.1 355.8,204.2 355.5,204.3 355.3,204.4 355,204.5 354.9,204.7 354.8,204.8 354.7,204.9" fill="url(#g17)" fill-opacity="0.56"/><polygon points="354.7,316.1 354.7,316.3 354.8,316.4 354.9,316.5 355.1,316.7 355.3,316.8 355.6,316.9 355.9,317 356.2,317.1 356.6,317.2 357.1,317.3 357.6,317.4 358.1,317.5 358.7,317.6 359.2,317.6 359.8,317.7 360.4,317.7 361.1,317.7 361.7,317.7 362.3,317.7 363,317.7 363.6,317.7 364.2,317.7 364.8,317.6 365.4,317.6 365.9,317.5 366.4,317.4 366.9,317.3 367.4,317.2 367.8,317.1 368.2,317 368.5,316.9 368.7,316.8 369,316.7 369.1,316.5 369.2,316.4 369.3,316.3 369.3,205.1 369.3,204.9 369.2,204.8 369.1,204.7 368.9,204.5 368.7,204.4 368.4,204.3 368.1,204.2 367.8,204.1 367.4,204 366.9,203.9 366.4,203.8 365.9,203.7 365.3,203.6 364.8,203.6 364.2,203.5 363.6,203.5 362.9,203.5 362.3,203.5 361.7,203.5 361,203.5 360.4,203.5 359.8,203.5 359.2,203.6 358.6,203.6 358.1,203.7 357.6,203.8 357.1,203.9 356.6,204 356.2,204.1 355.8,204.2 355.5,204.3 355.3,204.4 355,204.5 354.9,204.7 354.8,204.8 354.7,204.9" fill="url(#g17)" fill-opacity="0.56"/><polygon points="368.4,315.5 368.1,315.4 367.8,315.3 367.4,315.2 366.9,315.1 366.4,315 365.9,314.9 365.3,314.8 364.8,314.8 364.2,314.7 363.6,314.7 362.9,314.7 362.3,314.7 361.7,314.7 361,314.7 360.4,314.7 359.8,314.7 359.2,314.8 358.6,314.8 358.1,314.9 357.6,315 357.1,315.1 356.6,315.2 356.2,315.3 355.8,315.4 355.5,315.5 355.3,315.6 355,315.7 354.9,315.9 354.8,316 354.7,316.1 354.7,316.3 354.8,316.4 354.9,316.5 355.1,316.7 355.3,316.8 355.6,316.9 355.9,317 356.2,317.1 356.6,317.2 357.1,317.3 357.6,317.4 358.1,317.5 358.7,317.6 359.2,317.6 359.8,317.7 360.4,317.7 361.1,317.7 361.7,317.7 362.3,317.7 363,317.7 363.6,317.7 364.2,317.7 364.8,317.6 365.4,317.6 365.9,317.5 366.4,317.4 366.9,317.3 367.4,317.2 367.8,317.1 368.2,317 368.5,316.9 368.7,316.8 369,316.7 369.1,316.5 369.2,316.4 369.3,316.3 369.3,316.1 369.2,316 369.1,315.9 368.9,315.7 368.7,315.6" fill="#3020a0" fill-opacity="0.5"/><polygon points="368.4,204.3 368.1,204.2 367.8,204.1 367.4,204 366.9,203.9 366.4,203.8 365.9,203.7 365.3,203.6 364.8,203.6 364.2,203.5 363.6,203.5 362.9,203.5 362.3,203.5 361.7,203.5 361,203.5 360.4,203.5 359.8,203.5 359.2,203.6 358.6,203.6 358.1,203.7 357.6,203.8 357.1,203.9 356.6,204 356.2,204.1 355.8,204.2 355.5,204.3 355.3,204.4 355,204.5 354.9,204.7 354.8,204.8 354.7,204.9 354.7,205.1 354.8,205.2 354.9,205.3 355.1,205.5 355.3,205.6 355.6,205.7 355.9,205.8 356.2,205.9 356.6,206 357.1,206.1 357.6,206.2 358.1,206.3 358.7,206.4 359.2,206.4 359.8,206.5 360.4,206.5 361.1,206.5 361.7,206.5 362.3,206.5 363,206.5 363.6,206.5 364.2,206.5 364.8,206.4 365.4,206.4 365.9,206.3 366.4,206.2 366.9,206.1 367.4,206 367.8,205.9 368.2,205.8 368.5,205.7 368.7,205.6 369,205.5 369.1,205.3 369.2,205.2 369.3,205.1 369.3,204.9 369.2,204.8 369.1,204.7 368.9,204.5 368.7,204.4" fill="#f42c90" fill-opacity="0.95"/><path d="M368.4 315.5V204.3M367.1 315.1V203.9M365.2 314.8V203.6M363.1 314.7V203.5M360.8 314.7V203.5M358.6 314.8V203.6M356.8 315.1V203.9M355.5 315.5V204.3M354.8 316V204.8M354.8 316.5V205.3M355.6 316.9V205.7M356.9 317.3V206.1M358.8 317.6V206.4M360.9 317.7V206.5M363.2 317.7V206.5M365.4 317.6V206.4M367.2 317.3V206.1M368.5 316.9V205.7M369.2 316.4V205.2M369.2 315.9V204.7M368.4 315.5 368.1 315.4 367.8 315.3 367.4 315.2 366.9 315.1 366.4 315 365.9 314.9 365.3 314.8 364.8 314.8 364.2 314.7 363.6 314.7 362.9 314.7 362.3 314.7 361.7 314.7 361 314.7 360.4 314.7 359.8 314.7 359.2 314.8 358.6 314.8 358.1 314.9 357.6 315 357.1 315.1 356.6 315.2 356.2 315.3 355.8 315.4 355.5 315.5 355.3 315.6 355 315.7 354.9 315.9 354.8 316 354.7 316.1 354.7 316.3 354.8 316.4 354.9 316.5 355.1 316.7 355.3 316.8 355.6 316.9 355.9 317 356.2 317.1 356.6 317.2 357.1 317.3 357.6 317.4 358.1 317.5 358.7 317.6 359.2 317.6 359.8 317.7 360.4 317.7 361.1 317.7 361.7 317.7 362.3 317.7 363 317.7 363.6 317.7 364.2 317.7 364.8 317.6 365.4 317.6 365.9 317.5 366.4 317.4 366.9 317.3 367.4 317.2 367.8 317.1 368.2 317 368.5 316.9 368.7 316.8 369 316.7 369.1 316.5 369.2 316.4 369.3 316.3 369.3 316.1 369.2 316 369.1 315.9 368.9 315.7 368.7 315.6 368.4 315.5ZM368.4 204.3 368.1 204.2 367.8 204.1 367.4 204 366.9 203.9 366.4 203.8 365.9 203.7 365.3 203.6 364.8 203.6 364.2 203.5 363.6 203.5 362.9 203.5 362.3 203.5 361.7 203.5 361 203.5 360.4 203.5 359.8 203.5 359.2 203.6 358.6 203.6 358.1 203.7 357.6 203.8 357.1 203.9 356.6 204 356.2 204.1 355.8 204.2 355.5 204.3 355.3 204.4 355 204.5 354.9 204.7 354.8 204.8 354.7 204.9 354.7 205.1 354.8 205.2 354.9 205.3 355.1 205.5 355.3 205.6 355.6 205.7 355.9 205.8 356.2 205.9 356.6 206 357.1 206.1 357.6 206.2 358.1 206.3 358.7 206.4 359.2 206.4 359.8 206.5 360.4 206.5 361.1 206.5 361.7 206.5 362.3 206.5 363 206.5 363.6 206.5 364.2 206.5 364.8 206.4 365.4 206.4 365.9 206.3 366.4 206.2 366.9 206.1 367.4 206 367.8 205.9 368.2 205.8 368.5 205.7 368.7 205.6 369 205.5 369.1 205.3 369.2 205.2 369.3 205.1 369.3 204.9 369.2 204.8 369.1 204.7 368.9 204.5 368.7 204.4 368.4 204.3Z" fill="none" stroke="#000" stroke-width="0.38" stroke-opacity="0.4"/></g>
<polygon points="461.9,310.9 460.9,310.5 459.7,310.2 458.3,309.9 456.8,309.7 455.1,309.5 453.3,309.4 451.5,309.3 449.6,309.2 447.7,309.2 445.8,309.3 444,309.4 442.2,309.6 440.6,309.8 439.1,310 437.8,310.3 436.7,310.7 435.8,311 435.1,311.4 434.7,311.8 434.4,312.2 434.5,312.6 434.8,313 435.3,313.4 436.1,313.7 437.1,314.1 438.3,314.4 439.7,314.7 441.2,314.9 442.9,315.1 444.7,315.2 446.5,315.3 448.4,315.4 450.3,315.4 452.2,315.3 454,315.2 455.8,315 457.4,314.8 458.9,314.6 460.2,314.3 461.3,313.9 462.2,313.6 462.9,313.2 463.3,312.8 463.6,312.4 463.5,312 463.2,311.6 462.7,311.2" fill="none" stroke="#4a80f0" stroke-width="1.2" stroke-opacity="1"/><polygon points="460.6,311 459.7,310.7 458.6,310.4 457.4,310.2 456,310 454.5,309.8 452.9,309.7 451.2,309.6 449.5,309.5 447.8,309.5 446.1,309.6 444.5,309.7 442.9,309.9 441.5,310 440.1,310.3 438.9,310.5 437.9,310.8 437.1,311.1 436.5,311.5 436.1,311.8 435.9,312.2 435.9,312.6 436.2,312.9 436.7,313.3 437.4,313.6 438.3,313.9 439.4,314.2 440.6,314.4 442,314.6 443.5,314.8 445.1,314.9 446.8,315 448.5,315.1 450.2,315.1 451.9,315 453.5,314.9 455.1,314.7 456.5,314.6 457.9,314.3 459.1,314.1 460.1,313.8 460.9,313.5 461.5,313.1 461.9,312.8 462.1,312.4 462.1,312 461.8,311.7 461.3,311.3" fill="none" stroke="#80b0f8" stroke-width="0.5" stroke-opacity="0.45"/><polygon points="458.7,311.2 457.9,311 457,310.7 456,310.5 454.8,310.3 453.6,310.2 452.3,310.1 450.9,310 449.4,310 448,310 446.6,310 445.2,310.1 443.9,310.3 442.7,310.4 441.6,310.6 440.6,310.8 439.8,311.1 439.1,311.3 438.6,311.6 438.2,311.9 438.1,312.2 438.1,312.5 438.3,312.8 438.7,313.1 439.3,313.4 440.1,313.6 441,313.9 442,314.1 443.2,314.3 444.4,314.4 445.7,314.5 447.1,314.6 448.6,314.6 450,314.6 451.4,314.6 452.8,314.5 454.1,314.3 455.3,314.2 456.4,314 457.4,313.8 458.2,313.5 458.9,313.3 459.4,313 459.8,312.7 459.9,312.4 459.9,312.1 459.7,311.8 459.3,311.5" fill="none" stroke="#80b0f8" stroke-width="0.85" stroke-opacity="0.9"/>
<g><polygon points="448.9,252.8 447.4,252.9 445.9,253.2 444.4,253.5 443,254 441.7,254.7 440.4,255.5 439.2,256.4 438.1,257.4 437.2,258.5 436.3,259.6 435.7,260.9 435.1,262.2 434.7,263.6 434.5,265 434.4,266.4 434.5,267.8 434.8,269.2 435.2,270.5 435.7,271.9 436.4,273.1 437.3,274.3 438.2,275.4 439.3,276.4 440.5,277.2 441.8,278 443.1,278.6 444.6,279.1 446,279.5 447.6,279.7 449.1,279.8 450.6,279.7 452.1,279.4 453.6,279.1 455,278.6 456.3,277.9 457.6,277.1 458.8,276.2 459.9,275.2 460.8,274.1 461.7,273 462.3,271.7 462.9,270.4 463.3,269 463.5,267.6 463.6,266.2 463.5,264.8 463.2,263.4 462.8,262.1 462.3,260.7 461.6,259.5 460.7,258.3 459.8,257.2 458.7,256.2 457.5,255.4 456.2,254.6 454.9,254 453.4,253.5 452,253.1 450.4,252.9" fill="url(#g18)" fill-opacity="0.5"/><path d="M451 279 450.6 278.9 450 278.8 449.3 278.8 448.6 278.8 447.9 278.8 447.4 278.9 447 279 446.7 279.2 446.8 279.3 447 279.5 447.4 279.6 448 279.7 448.7 279.7 449.4 279.7 450.1 279.7 450.6 279.6 451 279.5 451.3 279.3 451.2 279.2ZM453 278.3 452.1 278.1 451 277.9 449.7 277.8 448.2 277.8 446.9 277.9 445.8 278.1 445 278.3 444.5 278.6 444.6 278.9 445 279.2 445.9 279.4 447 279.6 448.3 279.7 449.8 279.7 451.1 279.6 452.2 279.4 453 279.2 453.5 278.9 453.4 278.6ZM454.9 277.3 453.6 277 451.9 276.7 450 276.6 447.9 276.6 445.9 276.7 444.3 277 443.1 277.4 442.5 277.8 442.5 278.2 443.1 278.6 444.4 279 446.1 279.2 448 279.4 450.1 279.4 452.1 279.2 453.7 278.9 454.9 278.6 455.5 278.2 455.5 277.7ZM456.6 276.1 455 275.6 452.8 275.3 450.2 275.1 447.6 275.1 445 275.3 442.9 275.6 441.3 276.1 440.5 276.6 440.6 277.2 441.4 277.7 443 278.2 445.2 278.5 447.8 278.7 450.4 278.7 453 278.5 455.1 278.2 456.7 277.7 457.5 277.2 457.4 276.6ZM458.1 274.5 456.2 274 453.6 273.6 450.5 273.4 447.3 273.4 444.2 273.6 441.6 274.1 439.8 274.6 438.8 275.3 438.8 275.9 439.9 276.6 441.8 277.1 444.4 277.5 447.5 277.7 450.7 277.7 453.8 277.5 456.4 277.1 458.2 276.5 459.2 275.9 459.2 275.2ZM459.4 272.8 457.2 272.2 454.2 271.8 450.7 271.5 447 271.5 443.5 271.8 440.6 272.3 438.4 272.9 437.3 273.7 437.4 274.4 438.6 275.2 440.8 275.8 443.8 276.2 447.3 276.5 451 276.5 454.5 276.2 457.4 275.7 459.6 275.1 460.7 274.4 460.6 273.6ZM460.5 271 458.1 270.3 454.8 269.8 450.9 269.5 446.8 269.5 443 269.8 439.7 270.3 437.4 271 436.2 271.9 436.2 272.7 437.5 273.5 439.9 274.2 443.2 274.7 447.1 275 451.2 275 455 274.7 458.3 274.2 460.6 273.5 461.8 272.6 461.8 271.8ZM461.3 269 458.7 268.2 455.1 267.7 451 267.5 446.7 267.5 442.6 267.8 439.1 268.3 436.6 269.1 435.3 269.9 435.3 270.9 436.7 271.7 439.3 272.5 442.9 273 447 273.2 451.3 273.2 455.4 272.9 458.9 272.4 461.4 271.6 462.7 270.8 462.7 269.8ZM461.7 266.9 459.1 266.2 455.4 265.6 451.1 265.3 446.6 265.4 442.3 265.7 438.7 266.2 436.1 267 434.8 267.9 434.8 268.9 436.3 269.8 438.9 270.5 442.6 271.1 446.9 271.4 451.4 271.3 455.7 271 459.3 270.5 461.9 269.7 463.2 268.8 463.2 267.8ZM461.9 264.9 459.2 264.1 455.5 263.5 451.1 263.3 446.6 263.3 442.2 263.6 438.6 264.2 436 264.9 434.6 265.9 434.6 266.8 436.1 267.7 438.8 268.5 442.5 269.1 446.9 269.3 451.4 269.3 455.8 269 459.4 268.4 462 267.7 463.4 266.7 463.4 265.8ZM461.7 262.8 459.1 262.1 455.4 261.5 451.1 261.2 446.6 261.3 442.3 261.6 438.7 262.1 436.1 262.9 434.8 263.8 434.8 264.8 436.3 265.7 438.9 266.4 442.6 267 446.9 267.3 451.4 267.2 455.7 266.9 459.3 266.4 461.9 265.6 463.2 264.7 463.2 263.7ZM461.3 260.9 458.7 260.1 455.1 259.6 451 259.4 446.7 259.4 442.6 259.7 439.1 260.2 436.6 261 435.3 261.8 435.3 262.8 436.7 263.6 439.3 264.4 442.9 264.9 447 265.1 451.3 265.1 455.4 264.8 458.9 264.3 461.4 263.5 462.7 262.7 462.7 261.7ZM460.5 259.1 458.1 258.4 454.8 257.9 450.9 257.6 446.8 257.6 443 257.9 439.7 258.4 437.4 259.1 436.2 260 436.2 260.8 437.5 261.6 439.9 262.3 443.2 262.8 447.1 263.1 451.2 263.1 455 262.8 458.3 262.3 460.6 261.6 461.8 260.7 461.8 259.9ZM459.4 257.4 457.2 256.8 454.2 256.4 450.7 256.1 447 256.1 443.5 256.4 440.6 256.9 438.4 257.5 437.3 258.2 437.4 259 438.6 259.8 440.8 260.4 443.8 260.8 447.3 261.1 451 261.1 454.5 260.8 457.4 260.3 459.6 259.7 460.7 258.9 460.6 258.2ZM458.1 256 456.2 255.5 453.6 255.1 450.5 254.9 447.3 254.9 444.2 255.1 441.6 255.5 439.8 256.1 438.8 256.7 438.8 257.4 439.9 258.1 441.8 258.6 444.4 259 447.5 259.2 450.7 259.2 453.8 259 456.4 258.5 458.2 258 459.2 257.3 459.2 256.7ZM456.6 254.9 455 254.4 452.8 254.1 450.2 253.9 447.6 253.9 445 254.1 442.9 254.4 441.3 254.9 440.5 255.4 440.6 256 441.4 256.5 443 257 445.2 257.3 447.8 257.5 450.4 257.5 453 257.3 455.1 257 456.7 256.5 457.5 256 457.4 255.4ZM454.9 254 453.6 253.6 451.9 253.4 450 253.2 447.9 253.2 445.9 253.4 444.3 253.7 443.1 254 442.5 254.4 442.5 254.9 443.1 255.3 444.4 255.6 446.1 255.9 448 256 450.1 256 452.1 255.9 453.7 255.6 454.9 255.2 455.5 254.8 455.5 254.4ZM453 253.4 452.1 253.2 451 253 449.7 252.9 448.2 252.9 446.9 253 445.8 253.2 445 253.4 444.5 253.7 444.6 254 445 254.3 445.9 254.5 447 254.7 448.3 254.8 449.8 254.8 451.1 254.7 452.2 254.5 453 254.3 453.5 254 453.4 253.7ZM451 253.1 450.6 253 450 252.9 449.3 252.9 448.6 252.9 447.9 252.9 447.4 253 447 253.1 446.7 253.3 446.8 253.4 447 253.6 447.4 253.7 448 253.8 448.7 253.8 449.4 253.8 450.1 253.8 450.6 253.7 451 253.6 451.3 253.4 451.2 253.3ZM449 279.4 451 279 453 278.3 454.9 277.3 456.6 276.1 458.1 274.5 459.4 272.8 460.5 271 461.3 269 461.7 266.9 461.9 264.9 461.7 262.8 461.3 260.9 460.5 259.1 459.4 257.4 458.1 256 456.6 254.9 454.9 254 453 253.4 451 253.1 449 253.2M449 279.4 450.6 278.9 452.1 278.1 453.6 277 455 275.6 456.2 274 457.2 272.2 458.1 270.3 458.7 268.2 459.1 266.2 459.2 264.1 459.1 262.1 458.7 260.1 458.1 258.4 457.2 256.8 456.2 255.5 455 254.4 453.6 253.6 452.1 253.2 450.6 253 449 253.2M449 279.4 450 278.8 451 277.9 451.9 276.7 452.8 275.3 453.6 273.6 454.2 271.8 454.8 269.8 455.1 267.7 455.4 265.6 455.5 263.5 455.4 261.5 455.1 259.6 454.8 257.9 454.2 256.4 453.6 255.1 452.8 254.1 451.9 253.4 451 253 450 252.9 449 253.2M449 279.4 449.3 278.8 449.7 277.8 450 276.6 450.2 275.1 450.5 273.4 450.7 271.5 450.9 269.5 451 267.5 451.1 265.3 451.1 263.3 451.1 261.2 451 259.4 450.9 257.6 450.7 256.1 450.5 254.9 450.2 253.9 450 253.2 449.7 252.9 449.3 252.9 449 253.2M449 279.4 448.6 278.8 448.2 277.8 447.9 276.6 447.6 275.1 447.3 273.4 447 271.5 446.8 269.5 446.7 267.5 446.6 265.4 446.6 263.3 446.6 261.3 446.7 259.4 446.8 257.6 447 256.1 447.3 254.9 447.6 253.9 447.9 253.2 448.2 252.9 448.6 252.9 449 253.2M449 279.4 447.9 278.8 446.9 277.9 445.9 276.7 445 275.3 444.2 273.6 443.5 271.8 443 269.8 442.6 267.8 442.3 265.7 442.2 263.6 442.3 261.6 442.6 259.7 443 257.9 443.5 256.4 444.2 255.1 445 254.1 445.9 253.4 446.9 253 447.9 252.9 449 253.2M449 279.4 447.4 278.9 445.8 278.1 444.3 277 442.9 275.6 441.6 274.1 440.6 272.3 439.7 270.3 439.1 268.3 438.7 266.2 438.6 264.2 438.7 262.1 439.1 260.2 439.7 258.4 440.6 256.9 441.6 255.5 442.9 254.4 444.3 253.7 445.8 253.2 447.4 253 449 253.2M449 279.4 447 279 445 278.3 443.1 277.4 441.3 276.1 439.8 274.6 438.4 272.9 437.4 271 436.6 269.1 436.1 267 436 264.9 436.1 262.9 436.6 261 437.4 259.1 438.4 257.5 439.8 256.1 441.3 254.9 443.1 254 445 253.4 447 253.1 449 253.2M449 279.4 446.7 279.2 444.5 278.6 442.5 277.8 440.5 276.6 438.8 275.3 437.3 273.7 436.2 271.9 435.3 269.9 434.8 267.9 434.6 265.9 434.8 263.8 435.3 261.8 436.2 260 437.3 258.2 438.8 256.7 440.5 255.4 442.5 254.4 444.5 253.7 446.7 253.3 449 253.2M449 279.4 446.8 279.3 444.6 278.9 442.5 278.2 440.6 277.2 438.8 275.9 437.4 274.4 436.2 272.7 435.3 270.9 434.8 268.9 434.6 266.8 434.8 264.8 435.3 262.8 436.2 260.8 437.4 259 438.8 257.4 440.6 256 442.5 254.9 444.6 254 446.8 253.4 449 253.2M449 279.4 447 279.5 445 279.2 443.1 278.6 441.4 277.7 439.9 276.6 438.6 275.2 437.5 273.5 436.7 271.7 436.3 269.8 436.1 267.7 436.3 265.7 436.7 263.6 437.5 261.6 438.6 259.8 439.9 258.1 441.4 256.5 443.1 255.3 445 254.3 447 253.6 449 253.2M449 279.4 447.4 279.6 445.9 279.4 444.4 279 443 278.2 441.8 277.1 440.8 275.8 439.9 274.2 439.3 272.5 438.9 270.5 438.8 268.5 438.9 266.4 439.3 264.4 439.9 262.3 440.8 260.4 441.8 258.6 443 257 444.4 255.6 445.9 254.5 447.4 253.7 449 253.2M449 279.4 448 279.7 447 279.6 446.1 279.2 445.2 278.5 444.4 277.5 443.8 276.2 443.2 274.7 442.9 273 442.6 271.1 442.5 269.1 442.6 267 442.9 264.9 443.2 262.8 443.8 260.8 444.4 259 445.2 257.3 446.1 255.9 447 254.7 448 253.8 449 253.2M449 279.4 448.7 279.7 448.3 279.7 448 279.4 447.8 278.7 447.5 277.7 447.3 276.5 447.1 275 447 273.2 446.9 271.4 446.9 269.3 446.9 267.3 447 265.1 447.1 263.1 447.3 261.1 447.5 259.2 447.8 257.5 448 256 448.3 254.8 448.7 253.8 449 253.2M449 279.4 449.4 279.7 449.8 279.7 450.1 279.4 450.4 278.7 450.7 277.7 451 276.5 451.2 275 451.3 273.2 451.4 271.3 451.4 269.3 451.4 267.2 451.3 265.1 451.2 263.1 451 261.1 450.7 259.2 450.4 257.5 450.1 256 449.8 254.8 449.4 253.8 449 253.2M449 279.4 450.1 279.7 451.1 279.6 452.1 279.2 453 278.5 453.8 277.5 454.5 276.2 455 274.7 455.4 272.9 455.7 271 455.8 269 455.7 266.9 455.4 264.8 455 262.8 454.5 260.8 453.8 259 453 257.3 452.1 255.9 451.1 254.7 450.1 253.8 449 253.2M449 279.4 450.6 279.6 452.2 279.4 453.7 278.9 455.1 278.2 456.4 277.1 457.4 275.7 458.3 274.2 458.9 272.4 459.3 270.5 459.4 268.4 459.3 266.4 458.9 264.3 458.3 262.3 457.4 260.3 456.4 258.5 455.1 257 453.7 255.6 452.2 254.5 450.6 253.7 449 253.2M449 279.4 451 279.5 453 279.2 454.9 278.6 456.7 277.7 458.2 276.5 459.6 275.1 460.6 273.5 461.4 271.6 461.9 269.7 462 267.7 461.9 265.6 461.4 263.5 460.6 261.6 459.6 259.7 458.2 258 456.7 256.5 454.9 255.2 453 254.3 451 253.6 449 253.2M449 279.4 451.3 279.3 453.5 278.9 455.5 278.2 457.5 277.2 459.2 275.9 460.7 274.4 461.8 272.6 462.7 270.8 463.2 268.8 463.4 266.7 463.2 264.7 462.7 262.7 461.8 260.7 460.7 258.9 459.2 257.3 457.5 256 455.5 254.8 453.5 254 451.3 253.4 449 253.2M449 279.4 451.2 279.2 453.4 278.6 455.5 277.7 457.4 276.6 459.2 275.2 460.6 273.6 461.8 271.8 462.7 269.8 463.2 267.8 463.4 265.8 463.2 263.7 462.7 261.7 461.8 259.9 460.6 258.2 459.2 256.7 457.4 255.4 455.5 254.4 453.4 253.7 451.2 253.3 449 253.2" fill="none" stroke-linejoin="round" stroke="#000" stroke-width="0.32" stroke-opacity="0.64"/></g>
<polyline points="331.6,340.6 314.7,304 307.9,301 296,273.4 316,260.4 309.9,236 315.5,221.4 296.3,213.4" fill="none" stroke="#ff00ff" stroke-width="1.9" stroke-opacity="1" stroke-linejoin="round"/>
<polyline points="331.6,340.6 316.2,311.3 310.9,290 307.7,273.4 309,236 300.8,215" fill="none" stroke="#00ffff" stroke-width="1.5" stroke-opacity="1" stroke-linejoin="round"/>
<polyline points="281.7,145.3 219.8,98.5" fill="none" stroke="#ff00ff" stroke-width="1.9" stroke-opacity="1" stroke-linejoin="round"/>
<polyline points="281.5,145.6 219.6,98.8" fill="none" stroke="#00ffff" stroke-width="1.3" stroke-opacity="1" stroke-linejoin="round"/>
<polyline points="296.3,213.4 282.5,207 296,197.3" fill="none" stroke="#ff00ff" stroke-width="1.9" stroke-opacity="0.6" stroke-linejoin="round"/>
<polyline points="300.8,215 283.5,207 296,201.5" fill="none" stroke="#00ffff" stroke-width="1.5" stroke-opacity="0.55" stroke-linejoin="round"/>
<circle cx="331.6" cy="340.6" r="2.6" fill="#ffff00"/>
<polygon points="219.9,95.6 222.6,100.2 217.2,100.2" fill="#ff0000"/>
<rect x="307.4" y="13.4" width="208.3" height="39" fill="#fff" stroke="#555" stroke-width="0.7"/><circle cx="318" cy="23.6" r="1.9" fill="#ffff00"/><polygon points="318,39.3 320.2,43.2 315.8,43.2" fill="#ff0000"/><path d="M377 23.6H394.6" stroke="#ff00ff" stroke-width="1.7"/><path d="M377 41.6H394.6" stroke="#00ffff" stroke-width="1.7"/><g font-size="10.9" fill="#111" stroke="#111" stroke-width="0.15"><text x="329" y="27.1">start point</text><text x="329" y="45.3">goal point</text><text x="397.4" y="27.1">A-star plus path</text><text x="397.4" y="45.3">A-star plus optimized path</text></g>
</svg>
</body></html>
